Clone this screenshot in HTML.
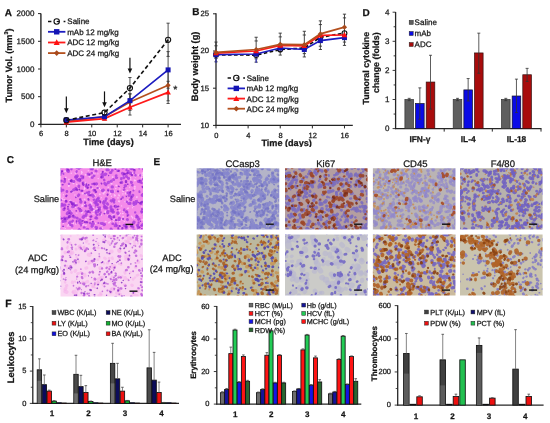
<!DOCTYPE html>
<html><head><meta charset="utf-8"><title>Figure</title>
<style>
html,body{margin:0;padding:0;background:#fff;}
svg{display:block;font-family:'Liberation Sans', Arial, sans-serif;text-rendering:geometricPrecision;filter:blur(0.3px);}
text{stroke:#161616;stroke-width:0.25px;}
</style></head>
<body>
<svg width="550" height="423" viewBox="0 0 550 423">
<defs><filter id="bl" x="-5%" y="-5%" width="110%" height="110%"><feGaussianBlur stdDeviation="0.6"/></filter><clipPath id="tclip"><rect x="0" y="100" width="550" height="47"/></clipPath></defs>
<rect width="550" height="423" fill="#fff"/>
<line x1="40.9" y1="13.4" x2="40.9" y2="125" stroke="#262626" stroke-width="1.4"/>
<line x1="39" y1="124.4" x2="181" y2="124.4" stroke="#262626" stroke-width="1.3"/>
<line x1="38" y1="124.4" x2="41" y2="124.4" stroke="#262626" stroke-width="1"/>
<text x="34.4" y="126.9" font-size="8" text-anchor="end" fill="#161616">0</text>
<line x1="38" y1="96.7" x2="41" y2="96.7" stroke="#262626" stroke-width="1"/>
<text x="34.4" y="99.2" font-size="8" text-anchor="end" fill="#161616">500</text>
<line x1="38" y1="69" x2="41" y2="69" stroke="#262626" stroke-width="1"/>
<text x="34.4" y="71.5" font-size="8" text-anchor="end" fill="#161616">1000</text>
<line x1="38" y1="41.3" x2="41" y2="41.3" stroke="#262626" stroke-width="1"/>
<text x="34.4" y="43.8" font-size="8" text-anchor="end" fill="#161616">1500</text>
<line x1="38" y1="13.6" x2="41" y2="13.6" stroke="#262626" stroke-width="1"/>
<text x="34.4" y="16.1" font-size="8" text-anchor="end" fill="#161616">2000</text>
<line x1="40.9" y1="124.4" x2="40.9" y2="127.4" stroke="#262626" stroke-width="1"/>
<text x="41.2" y="136.4" font-size="7.5" text-anchor="middle" fill="#161616">6</text>
<line x1="66.34" y1="124.4" x2="66.34" y2="127.4" stroke="#262626" stroke-width="1"/>
<text x="66.64" y="136.4" font-size="7.5" text-anchor="middle" fill="#161616">8</text>
<line x1="91.78" y1="124.4" x2="91.78" y2="127.4" stroke="#262626" stroke-width="1"/>
<text x="92.08" y="136.4" font-size="7.5" text-anchor="middle" fill="#161616">10</text>
<line x1="117.22" y1="124.4" x2="117.22" y2="127.4" stroke="#262626" stroke-width="1"/>
<text x="117.52" y="136.4" font-size="7.5" text-anchor="middle" fill="#161616">12</text>
<line x1="142.66" y1="124.4" x2="142.66" y2="127.4" stroke="#262626" stroke-width="1"/>
<text x="142.96" y="136.4" font-size="7.5" text-anchor="middle" fill="#161616">14</text>
<line x1="168.1" y1="124.4" x2="168.1" y2="127.4" stroke="#262626" stroke-width="1"/>
<text x="168.4" y="136.4" font-size="7.5" text-anchor="middle" fill="#161616">16</text>
<text x="108.5" y="145" font-size="9.1" text-anchor="middle" font-weight="bold" fill="#161616" clip-path="url(#tclip)">Time (days)</text>
<text transform="translate(11.7,65.5) rotate(-90)" font-size="9.1" font-weight="bold" text-anchor="middle" fill="#161616">Tumor Vol. (mm<tspan font-size="5.5" dy="-3.3">3</tspan><tspan dy="3.3">)</tspan></text>
<text x="4.8" y="15.9" font-size="10" text-anchor="start" font-weight="bold" fill="#111">A</text>
<line x1="66.34" y1="119.14" x2="66.34" y2="121.35" stroke="#3a3a3a" stroke-width="0.9"/>
<line x1="64.74" y1="119.14" x2="67.94" y2="119.14" stroke="#3a3a3a" stroke-width="0.9"/>
<line x1="64.74" y1="121.35" x2="67.94" y2="121.35" stroke="#3a3a3a" stroke-width="0.9"/>
<line x1="104.5" y1="110.33" x2="104.5" y2="114.76" stroke="#3a3a3a" stroke-width="0.9"/>
<line x1="102.9" y1="110.33" x2="106.1" y2="110.33" stroke="#3a3a3a" stroke-width="0.9"/>
<line x1="102.9" y1="114.76" x2="106.1" y2="114.76" stroke="#3a3a3a" stroke-width="0.9"/>
<line x1="129.94" y1="77.53" x2="129.94" y2="98.58" stroke="#3a3a3a" stroke-width="0.9"/>
<line x1="128.34" y1="77.53" x2="131.54" y2="77.53" stroke="#3a3a3a" stroke-width="0.9"/>
<line x1="128.34" y1="98.58" x2="131.54" y2="98.58" stroke="#3a3a3a" stroke-width="0.9"/>
<line x1="168.1" y1="23.18" x2="168.1" y2="56.42" stroke="#3a3a3a" stroke-width="0.9"/>
<line x1="166.5" y1="23.18" x2="169.7" y2="23.18" stroke="#3a3a3a" stroke-width="0.9"/>
<line x1="166.5" y1="56.42" x2="169.7" y2="56.42" stroke="#3a3a3a" stroke-width="0.9"/>
<line x1="66.34" y1="118.86" x2="66.34" y2="121.08" stroke="#3a3a3a" stroke-width="0.9"/>
<line x1="64.74" y1="118.86" x2="67.94" y2="118.86" stroke="#3a3a3a" stroke-width="0.9"/>
<line x1="64.74" y1="121.08" x2="67.94" y2="121.08" stroke="#3a3a3a" stroke-width="0.9"/>
<line x1="104.5" y1="115.04" x2="104.5" y2="118.36" stroke="#3a3a3a" stroke-width="0.9"/>
<line x1="102.9" y1="115.04" x2="106.1" y2="115.04" stroke="#3a3a3a" stroke-width="0.9"/>
<line x1="102.9" y1="118.36" x2="106.1" y2="118.36" stroke="#3a3a3a" stroke-width="0.9"/>
<line x1="129.94" y1="94.04" x2="129.94" y2="107.34" stroke="#3a3a3a" stroke-width="0.9"/>
<line x1="128.34" y1="94.04" x2="131.54" y2="94.04" stroke="#3a3a3a" stroke-width="0.9"/>
<line x1="128.34" y1="107.34" x2="131.54" y2="107.34" stroke="#3a3a3a" stroke-width="0.9"/>
<line x1="168.1" y1="51.6" x2="168.1" y2="88.17" stroke="#3a3a3a" stroke-width="0.9"/>
<line x1="166.5" y1="51.6" x2="169.7" y2="51.6" stroke="#3a3a3a" stroke-width="0.9"/>
<line x1="166.5" y1="88.17" x2="169.7" y2="88.17" stroke="#3a3a3a" stroke-width="0.9"/>
<line x1="66.34" y1="121.35" x2="66.34" y2="123.02" stroke="#3a3a3a" stroke-width="0.9"/>
<line x1="64.74" y1="121.35" x2="67.94" y2="121.35" stroke="#3a3a3a" stroke-width="0.9"/>
<line x1="64.74" y1="123.02" x2="67.94" y2="123.02" stroke="#3a3a3a" stroke-width="0.9"/>
<line x1="104.5" y1="117.2" x2="104.5" y2="119.97" stroke="#3a3a3a" stroke-width="0.9"/>
<line x1="102.9" y1="117.2" x2="106.1" y2="117.2" stroke="#3a3a3a" stroke-width="0.9"/>
<line x1="102.9" y1="119.97" x2="106.1" y2="119.97" stroke="#3a3a3a" stroke-width="0.9"/>
<line x1="129.94" y1="99.53" x2="129.94" y2="115.04" stroke="#3a3a3a" stroke-width="0.9"/>
<line x1="128.34" y1="99.53" x2="131.54" y2="99.53" stroke="#3a3a3a" stroke-width="0.9"/>
<line x1="128.34" y1="115.04" x2="131.54" y2="115.04" stroke="#3a3a3a" stroke-width="0.9"/>
<line x1="168.1" y1="81.3" x2="168.1" y2="103.46" stroke="#3a3a3a" stroke-width="0.9"/>
<line x1="166.5" y1="81.3" x2="169.7" y2="81.3" stroke="#3a3a3a" stroke-width="0.9"/>
<line x1="166.5" y1="103.46" x2="169.7" y2="103.46" stroke="#3a3a3a" stroke-width="0.9"/>
<line x1="66.34" y1="120.8" x2="66.34" y2="122.46" stroke="#3a3a3a" stroke-width="0.9"/>
<line x1="64.74" y1="120.8" x2="67.94" y2="120.8" stroke="#3a3a3a" stroke-width="0.9"/>
<line x1="64.74" y1="122.46" x2="67.94" y2="122.46" stroke="#3a3a3a" stroke-width="0.9"/>
<line x1="104.5" y1="115.26" x2="104.5" y2="118.03" stroke="#3a3a3a" stroke-width="0.9"/>
<line x1="102.9" y1="115.26" x2="106.1" y2="115.26" stroke="#3a3a3a" stroke-width="0.9"/>
<line x1="102.9" y1="118.03" x2="106.1" y2="118.03" stroke="#3a3a3a" stroke-width="0.9"/>
<line x1="129.94" y1="93.71" x2="129.94" y2="110.33" stroke="#3a3a3a" stroke-width="0.9"/>
<line x1="128.34" y1="93.71" x2="131.54" y2="93.71" stroke="#3a3a3a" stroke-width="0.9"/>
<line x1="128.34" y1="110.33" x2="131.54" y2="110.33" stroke="#3a3a3a" stroke-width="0.9"/>
<line x1="168.1" y1="69.78" x2="168.1" y2="100.8" stroke="#3a3a3a" stroke-width="0.9"/>
<line x1="166.5" y1="69.78" x2="169.7" y2="69.78" stroke="#3a3a3a" stroke-width="0.9"/>
<line x1="166.5" y1="100.8" x2="169.7" y2="100.8" stroke="#3a3a3a" stroke-width="0.9"/>
<polyline points="66.34,121.63 104.5,116.64 129.94,102.02 168.1,85.29" fill="none" stroke="#b4501e" stroke-width="1.65"/>
<polygon points="63.74,121.63 66.34,119.03 68.94,121.63 66.34,124.23" fill="#a84a1c"/>
<polygon points="101.9,116.64 104.5,114.04 107.1,116.64 104.5,119.24" fill="#a84a1c"/>
<polygon points="127.34,102.02 129.94,99.42 132.54,102.02 129.94,104.62" fill="#a84a1c"/>
<polygon points="165.5,85.29 168.1,82.69 170.7,85.29 168.1,87.89" fill="#a84a1c"/>
<polyline points="66.34,122.18 104.5,118.58 129.94,107.28 168.1,92.38" fill="none" stroke="#ff1a1a" stroke-width="1.65"/>
<polygon points="63.54,124.42 69.14,124.42 66.34,119.24" fill="#ff1010"/>
<polygon points="101.7,120.82 107.3,120.82 104.5,115.64" fill="#ff1010"/>
<polygon points="127.14,109.52 132.74,109.52 129.94,104.34" fill="#ff1010"/>
<polygon points="165.3,94.62 170.9,94.62 168.1,89.44" fill="#ff1010"/>
<polyline points="66.34,119.97 104.5,116.7 129.94,100.69 168.1,69.89" fill="none" stroke="#1c1cc0" stroke-width="1.65"/>
<rect x="63.84" y="117.47" width="5" height="5" fill="#1414b4"/>
<rect x="102" y="114.2" width="5" height="5" fill="#1414b4"/>
<rect x="127.44" y="98.19" width="5" height="5" fill="#1414b4"/>
<rect x="165.6" y="67.39" width="5" height="5" fill="#1414b4"/>
<polyline points="66.34,120.25 104.5,112.54 129.94,88.06 168.1,39.8" fill="none" stroke="#111" stroke-width="1.65" stroke-dasharray="4,2.6"/>
<circle cx="66.34" cy="120.25" r="2.59" fill="none" stroke="#111" stroke-width="1.1"/>
<circle cx="104.5" cy="112.54" r="2.59" fill="none" stroke="#111" stroke-width="1.1"/>
<circle cx="129.94" cy="88.06" r="2.59" fill="none" stroke="#111" stroke-width="1.1"/>
<circle cx="168.1" cy="39.8" r="2.59" fill="none" stroke="#111" stroke-width="1.1"/>
<line x1="66.34" y1="96.6" x2="66.34" y2="109.2" stroke="#111" stroke-width="1.2"/>
<polygon points="64.04,108.2 68.64,108.2 66.34,113.2" fill="#111"/>
<line x1="104.5" y1="91.4" x2="104.5" y2="103.3" stroke="#111" stroke-width="1.2"/>
<polygon points="102.2,102.3 106.8,102.3 104.5,107.3" fill="#111"/>
<line x1="129.94" y1="57.8" x2="129.94" y2="69.5" stroke="#111" stroke-width="1.2"/>
<polygon points="127.64,68.5 132.24,68.5 129.94,73.5" fill="#111"/>
<text x="175.4" y="93" font-size="10.5" text-anchor="middle" fill="#333">*</text>
<line x1="48" y1="21.5" x2="51.4" y2="21.5" stroke="#111" stroke-width="1.5"/>
<line x1="63.6" y1="21.5" x2="65.4" y2="21.5" stroke="#111" stroke-width="1.5"/>
<circle cx="56.7" cy="21.5" r="2.69" fill="none" stroke="#111" stroke-width="1.1"/>
<line x1="56.7" y1="21.5" x2="59.3" y2="21.5" stroke="#111" stroke-width="1.2"/>
<text x="67.3" y="24.4" font-size="8" text-anchor="start" fill="#161616">Saline</text>
<line x1="48" y1="31.8" x2="65.4" y2="31.8" stroke="#1c1cc0" stroke-width="1.8"/>
<rect x="54" y="29.1" width="5.4" height="5.4" fill="#1414b4"/>
<text x="67.2" y="34.7" font-size="8" text-anchor="start" fill="#161616">mAb 12 mg/kg</text>
<line x1="48" y1="42.5" x2="65.4" y2="42.5" stroke="#ff1a1a" stroke-width="1.8"/>
<polygon points="53.68,44.92 59.72,44.92 56.7,39.32" fill="#ff1010"/>
<text x="67.2" y="45.4" font-size="8" text-anchor="start" fill="#161616">ADC 12 mg/kg</text>
<line x1="48" y1="53.1" x2="65.4" y2="53.1" stroke="#b4501e" stroke-width="1.8"/>
<polygon points="53.89,53.1 56.7,50.29 59.51,53.1 56.7,55.91" fill="#a84a1c"/>
<text x="67.2" y="56" font-size="8" text-anchor="start" fill="#161616">ADC 24 mg/kg</text>
<line x1="216" y1="13.2" x2="216" y2="125.9" stroke="#262626" stroke-width="1.3"/>
<line x1="215.4" y1="125.4" x2="352.8" y2="125.4" stroke="#262626" stroke-width="1.3"/>
<line x1="213" y1="125.4" x2="216" y2="125.4" stroke="#262626" stroke-width="1"/>
<text x="209" y="127.8" font-size="7.7" text-anchor="end" fill="#161616">10</text>
<line x1="213" y1="88.2" x2="216" y2="88.2" stroke="#262626" stroke-width="1"/>
<text x="209" y="90.6" font-size="7.7" text-anchor="end" fill="#161616">15</text>
<line x1="213" y1="51" x2="216" y2="51" stroke="#262626" stroke-width="1"/>
<text x="209" y="53.4" font-size="7.7" text-anchor="end" fill="#161616">20</text>
<line x1="213" y1="13.8" x2="216" y2="13.8" stroke="#262626" stroke-width="1"/>
<text x="209" y="16.2" font-size="7.7" text-anchor="end" fill="#161616">25</text>
<line x1="216" y1="125.4" x2="216" y2="128.4" stroke="#262626" stroke-width="1"/>
<text x="216.3" y="137.6" font-size="7.5" text-anchor="middle" fill="#161616">0</text>
<line x1="248.12" y1="125.4" x2="248.12" y2="128.4" stroke="#262626" stroke-width="1"/>
<text x="248.42" y="137.6" font-size="7.5" text-anchor="middle" fill="#161616">4</text>
<line x1="280.24" y1="125.4" x2="280.24" y2="128.4" stroke="#262626" stroke-width="1"/>
<text x="280.54" y="137.6" font-size="7.5" text-anchor="middle" fill="#161616">8</text>
<line x1="312.36" y1="125.4" x2="312.36" y2="128.4" stroke="#262626" stroke-width="1"/>
<text x="312.66" y="137.6" font-size="7.5" text-anchor="middle" fill="#161616">12</text>
<line x1="344.48" y1="125.4" x2="344.48" y2="128.4" stroke="#262626" stroke-width="1"/>
<text x="344.78" y="137.6" font-size="7.5" text-anchor="middle" fill="#161616">16</text>
<text x="286.6" y="145.6" font-size="9.1" text-anchor="middle" font-weight="bold" fill="#161616" clip-path="url(#tclip)">Time (days)</text>
<text transform="translate(198.25,66.4) rotate(-90)" font-size="9.3" text-anchor="middle" font-weight="bold" fill="#161616">Body weight (g)</text>
<text x="192.2" y="15.3" font-size="10" text-anchor="start" font-weight="bold" fill="#111">B</text>
<line x1="216" y1="42.07" x2="216" y2="61.79" stroke="#333" stroke-width="0.9"/>
<line x1="214.4" y1="42.07" x2="217.6" y2="42.07" stroke="#333" stroke-width="0.9"/>
<line x1="214.4" y1="61.79" x2="217.6" y2="61.79" stroke="#333" stroke-width="0.9"/>
<line x1="214.4" y1="45.79" x2="217.6" y2="45.79" stroke="#333" stroke-width="0.9"/>
<line x1="214.4" y1="58.44" x2="217.6" y2="58.44" stroke="#333" stroke-width="0.9"/>
<line x1="256.15" y1="37.24" x2="256.15" y2="62.16" stroke="#333" stroke-width="0.9"/>
<line x1="254.55" y1="37.24" x2="257.75" y2="37.24" stroke="#333" stroke-width="0.9"/>
<line x1="254.55" y1="62.16" x2="257.75" y2="62.16" stroke="#333" stroke-width="0.9"/>
<line x1="254.55" y1="40.96" x2="257.75" y2="40.96" stroke="#333" stroke-width="0.9"/>
<line x1="254.55" y1="58.81" x2="257.75" y2="58.81" stroke="#333" stroke-width="0.9"/>
<line x1="280.24" y1="33.14" x2="280.24" y2="55.09" stroke="#333" stroke-width="0.9"/>
<line x1="278.64" y1="33.14" x2="281.84" y2="33.14" stroke="#333" stroke-width="0.9"/>
<line x1="278.64" y1="55.09" x2="281.84" y2="55.09" stroke="#333" stroke-width="0.9"/>
<line x1="278.64" y1="36.86" x2="281.84" y2="36.86" stroke="#333" stroke-width="0.9"/>
<line x1="278.64" y1="51.74" x2="281.84" y2="51.74" stroke="#333" stroke-width="0.9"/>
<line x1="304.33" y1="31.28" x2="304.33" y2="56.95" stroke="#333" stroke-width="0.9"/>
<line x1="302.73" y1="31.28" x2="305.93" y2="31.28" stroke="#333" stroke-width="0.9"/>
<line x1="302.73" y1="56.95" x2="305.93" y2="56.95" stroke="#333" stroke-width="0.9"/>
<line x1="302.73" y1="35" x2="305.93" y2="35" stroke="#333" stroke-width="0.9"/>
<line x1="302.73" y1="53.6" x2="305.93" y2="53.6" stroke="#333" stroke-width="0.9"/>
<line x1="320.39" y1="20.87" x2="320.39" y2="49.51" stroke="#333" stroke-width="0.9"/>
<line x1="318.79" y1="20.87" x2="321.99" y2="20.87" stroke="#333" stroke-width="0.9"/>
<line x1="318.79" y1="49.51" x2="321.99" y2="49.51" stroke="#333" stroke-width="0.9"/>
<line x1="318.79" y1="24.59" x2="321.99" y2="24.59" stroke="#333" stroke-width="0.9"/>
<line x1="318.79" y1="46.16" x2="321.99" y2="46.16" stroke="#333" stroke-width="0.9"/>
<line x1="344.48" y1="14.17" x2="344.48" y2="45.42" stroke="#333" stroke-width="0.9"/>
<line x1="342.88" y1="14.17" x2="346.08" y2="14.17" stroke="#333" stroke-width="0.9"/>
<line x1="342.88" y1="45.42" x2="346.08" y2="45.42" stroke="#333" stroke-width="0.9"/>
<line x1="342.88" y1="17.89" x2="346.08" y2="17.89" stroke="#333" stroke-width="0.9"/>
<line x1="342.88" y1="42.07" x2="346.08" y2="42.07" stroke="#333" stroke-width="0.9"/>
<line x1="216" y1="58.44" x2="216" y2="62.9" stroke="#3030d0" stroke-width="1"/>
<line x1="256.15" y1="58.44" x2="256.15" y2="62.9" stroke="#3030d0" stroke-width="1"/>
<polyline points="216,54.72 256.15,55.09 280.24,49.51 304.33,48.02 320.39,37.24 344.48,33.14" fill="none" stroke="#111" stroke-width="1.7" stroke-dasharray="3.6,2.4"/>
<circle cx="216" cy="54.72" r="2.4" fill="none" stroke="#111" stroke-width="1.1"/>
<circle cx="256.15" cy="55.09" r="2.4" fill="none" stroke="#111" stroke-width="1.1"/>
<circle cx="280.24" cy="49.51" r="2.4" fill="none" stroke="#111" stroke-width="1.1"/>
<circle cx="304.33" cy="48.02" r="2.4" fill="none" stroke="#111" stroke-width="1.1"/>
<circle cx="320.39" cy="37.24" r="2.4" fill="none" stroke="#111" stroke-width="1.1"/>
<circle cx="344.48" cy="33.14" r="2.4" fill="none" stroke="#111" stroke-width="1.1"/>
<polyline points="216,54.72 256.15,53.98 280.24,48.02 304.33,49.51 320.39,40.58 344.48,37.61" fill="none" stroke="#1c1cc0" stroke-width="1.7"/>
<rect x="213.5" y="52.22" width="5" height="5" fill="#1414b4"/>
<rect x="253.65" y="51.48" width="5" height="5" fill="#1414b4"/>
<rect x="277.74" y="45.52" width="5" height="5" fill="#1414b4"/>
<rect x="301.83" y="47.01" width="5" height="5" fill="#1414b4"/>
<rect x="317.89" y="38.08" width="5" height="5" fill="#1414b4"/>
<rect x="341.98" y="35.11" width="5" height="5" fill="#1414b4"/>
<polyline points="216,53.08 256.15,51 280.24,45.42 304.33,45.79 320.39,35.38 344.48,35" fill="none" stroke="#ff1a1a" stroke-width="1.7"/>
<polygon points="213.2,55.32 218.8,55.32 216,50.14" fill="#ff1010"/>
<polygon points="253.35,53.24 258.95,53.24 256.15,48.06" fill="#ff1010"/>
<polygon points="277.44,47.66 283.04,47.66 280.24,42.48" fill="#ff1010"/>
<polygon points="301.53,48.03 307.13,48.03 304.33,42.85" fill="#ff1010"/>
<polygon points="317.59,37.62 323.19,37.62 320.39,32.44" fill="#ff1010"/>
<polygon points="341.68,37.24 347.28,37.24 344.48,32.06" fill="#ff1010"/>
<polyline points="216,52.34 256.15,49.51 280.24,44.3 304.33,44.68 320.39,33.89 344.48,27.19" fill="none" stroke="#b4501e" stroke-width="1.7"/>
<polygon points="213.4,52.34 216,49.74 218.6,52.34 216,54.94" fill="#a84a1c"/>
<polygon points="253.55,49.51 256.15,46.91 258.75,49.51 256.15,52.11" fill="#a84a1c"/>
<polygon points="277.64,44.3 280.24,41.7 282.84,44.3 280.24,46.9" fill="#a84a1c"/>
<polygon points="301.73,44.68 304.33,42.08 306.93,44.68 304.33,47.28" fill="#a84a1c"/>
<polygon points="317.79,33.89 320.39,31.29 322.99,33.89 320.39,36.49" fill="#a84a1c"/>
<polygon points="341.88,27.19 344.48,24.59 347.08,27.19 344.48,29.79" fill="#a84a1c"/>
<line x1="227.6" y1="78" x2="231" y2="78" stroke="#111" stroke-width="1.5"/>
<line x1="243.2" y1="78" x2="245" y2="78" stroke="#111" stroke-width="1.5"/>
<circle cx="236.3" cy="78" r="2.69" fill="none" stroke="#111" stroke-width="1.1"/>
<line x1="236.3" y1="78" x2="238.9" y2="78" stroke="#111" stroke-width="1.2"/>
<text x="246.7" y="80.9" font-size="8" text-anchor="start" fill="#161616">Saline</text>
<line x1="227.6" y1="88.4" x2="245" y2="88.4" stroke="#1c1cc0" stroke-width="1.8"/>
<rect x="233.6" y="85.7" width="5.4" height="5.4" fill="#1414b4"/>
<text x="246.6" y="91.3" font-size="8" text-anchor="start" fill="#161616">mAb 12 mg/kg</text>
<line x1="227.6" y1="98.6" x2="245" y2="98.6" stroke="#ff1a1a" stroke-width="1.8"/>
<polygon points="233.28,101.02 239.32,101.02 236.3,95.42" fill="#ff1010"/>
<text x="246.6" y="101.5" font-size="8" text-anchor="start" fill="#161616">ADC 12 mg/kg</text>
<line x1="227.6" y1="108.7" x2="245" y2="108.7" stroke="#b4501e" stroke-width="1.8"/>
<polygon points="233.49,108.7 236.3,105.89 239.11,108.7 236.3,111.51" fill="#a84a1c"/>
<text x="246.6" y="111.6" font-size="8" text-anchor="start" fill="#161616">ADC 24 mg/kg</text>
<line x1="395.6" y1="12" x2="395.6" y2="129.1" stroke="#262626" stroke-width="1.3"/>
<line x1="395" y1="128.6" x2="541.5" y2="128.6" stroke="#262626" stroke-width="1.3"/>
<line x1="392.6" y1="128.6" x2="395.6" y2="128.6" stroke="#262626" stroke-width="0.9"/>
<text x="389.5" y="131.2" font-size="8" text-anchor="end" fill="#161616">0</text>
<line x1="393.6" y1="114.05" x2="395.6" y2="114.05" stroke="#262626" stroke-width="0.9"/>
<line x1="392.6" y1="99.5" x2="395.6" y2="99.5" stroke="#262626" stroke-width="0.9"/>
<text x="389.5" y="102.1" font-size="8" text-anchor="end" fill="#161616">1</text>
<line x1="393.6" y1="84.95" x2="395.6" y2="84.95" stroke="#262626" stroke-width="0.9"/>
<line x1="392.6" y1="70.4" x2="395.6" y2="70.4" stroke="#262626" stroke-width="0.9"/>
<text x="389.5" y="73" font-size="8" text-anchor="end" fill="#161616">2</text>
<line x1="393.6" y1="55.85" x2="395.6" y2="55.85" stroke="#262626" stroke-width="0.9"/>
<line x1="392.6" y1="41.3" x2="395.6" y2="41.3" stroke="#262626" stroke-width="0.9"/>
<text x="389.5" y="43.9" font-size="8" text-anchor="end" fill="#161616">3</text>
<line x1="393.6" y1="26.75" x2="395.6" y2="26.75" stroke="#262626" stroke-width="0.9"/>
<line x1="392.6" y1="12.2" x2="395.6" y2="12.2" stroke="#262626" stroke-width="0.9"/>
<text x="389.5" y="14.8" font-size="8" text-anchor="end" fill="#161616">4</text>
<line x1="444.2" y1="128.6" x2="444.2" y2="131.6" stroke="#262626" stroke-width="1"/>
<line x1="492.3" y1="128.6" x2="492.3" y2="131.6" stroke="#262626" stroke-width="1"/>
<line x1="541" y1="128.6" x2="541" y2="131.6" stroke="#262626" stroke-width="1"/>
<text x="362.5" y="15.5" font-size="10" text-anchor="start" font-weight="bold" fill="#111">D</text>
<text transform="translate(369.09,68.2) rotate(-90)" font-size="8.85" text-anchor="middle" font-weight="bold" fill="#161616">Tumoral cytokine</text>
<text transform="translate(378.9,62.7) rotate(-90)" font-size="8.9" text-anchor="middle" font-weight="bold" fill="#161616">change  (folds)</text>
<rect x="404.9" y="99.5" width="8.6" height="29.1" fill="#5f5f5f" stroke="#333" stroke-width="0.7"/>
<line x1="409.2" y1="98.34" x2="409.2" y2="100.66" stroke="#333" stroke-width="0.8"/>
<line x1="407.7" y1="98.34" x2="410.7" y2="98.34" stroke="#333" stroke-width="0.8"/>
<line x1="407.7" y1="100.66" x2="410.7" y2="100.66" stroke="#333" stroke-width="0.8"/>
<rect x="415.55" y="103.57" width="8.6" height="25.03" fill="#0a0ae6" stroke="#112" stroke-width="0.7"/>
<line x1="419.85" y1="87.86" x2="419.85" y2="119.29" stroke="#333" stroke-width="0.8"/>
<line x1="418.35" y1="87.86" x2="421.35" y2="87.86" stroke="#333" stroke-width="0.8"/>
<line x1="418.35" y1="119.29" x2="421.35" y2="119.29" stroke="#333" stroke-width="0.8"/>
<rect x="426.2" y="82.04" width="8.6" height="46.56" fill="#a80c0c" stroke="#311" stroke-width="0.7"/>
<line x1="430.5" y1="55.27" x2="430.5" y2="109.1" stroke="#333" stroke-width="0.8"/>
<line x1="429" y1="55.27" x2="432" y2="55.27" stroke="#333" stroke-width="0.8"/>
<line x1="429" y1="109.1" x2="432" y2="109.1" stroke="#333" stroke-width="0.8"/>
<text x="419.9" y="141.6" font-size="8.4" text-anchor="middle" font-weight="bold" fill="#161616">IFN-&#947;</text>
<rect x="453.2" y="99.5" width="8.6" height="29.1" fill="#5f5f5f" stroke="#333" stroke-width="0.7"/>
<line x1="457.5" y1="98.34" x2="457.5" y2="100.66" stroke="#333" stroke-width="0.8"/>
<line x1="456" y1="98.34" x2="459" y2="98.34" stroke="#333" stroke-width="0.8"/>
<line x1="456" y1="100.66" x2="459" y2="100.66" stroke="#333" stroke-width="0.8"/>
<rect x="463.85" y="89.9" width="8.6" height="38.7" fill="#0a0ae6" stroke="#112" stroke-width="0.7"/>
<line x1="468.15" y1="78.55" x2="468.15" y2="100.95" stroke="#333" stroke-width="0.8"/>
<line x1="466.65" y1="78.55" x2="469.65" y2="78.55" stroke="#333" stroke-width="0.8"/>
<line x1="466.65" y1="100.95" x2="469.65" y2="100.95" stroke="#333" stroke-width="0.8"/>
<rect x="474.5" y="52.94" width="8.6" height="75.66" fill="#a80c0c" stroke="#311" stroke-width="0.7"/>
<line x1="478.8" y1="33.15" x2="478.8" y2="73.31" stroke="#333" stroke-width="0.8"/>
<line x1="477.3" y1="33.15" x2="480.3" y2="33.15" stroke="#333" stroke-width="0.8"/>
<line x1="477.3" y1="73.31" x2="480.3" y2="73.31" stroke="#333" stroke-width="0.8"/>
<text x="468.2" y="141.6" font-size="8.4" text-anchor="middle" font-weight="bold" fill="#161616">IL-4</text>
<rect x="501.5" y="99.5" width="8.6" height="29.1" fill="#5f5f5f" stroke="#333" stroke-width="0.7"/>
<line x1="505.8" y1="98.34" x2="505.8" y2="100.66" stroke="#333" stroke-width="0.8"/>
<line x1="504.3" y1="98.34" x2="507.3" y2="98.34" stroke="#333" stroke-width="0.8"/>
<line x1="504.3" y1="100.66" x2="507.3" y2="100.66" stroke="#333" stroke-width="0.8"/>
<rect x="512.15" y="96.01" width="8.6" height="32.59" fill="#0a0ae6" stroke="#112" stroke-width="0.7"/>
<line x1="516.45" y1="79.13" x2="516.45" y2="112.59" stroke="#333" stroke-width="0.8"/>
<line x1="514.95" y1="79.13" x2="517.95" y2="79.13" stroke="#333" stroke-width="0.8"/>
<line x1="514.95" y1="112.59" x2="517.95" y2="112.59" stroke="#333" stroke-width="0.8"/>
<rect x="522.8" y="74.76" width="8.6" height="53.84" fill="#a80c0c" stroke="#311" stroke-width="0.7"/>
<line x1="527.1" y1="68.36" x2="527.1" y2="81.46" stroke="#333" stroke-width="0.8"/>
<line x1="525.6" y1="68.36" x2="528.6" y2="68.36" stroke="#333" stroke-width="0.8"/>
<line x1="525.6" y1="81.46" x2="528.6" y2="81.46" stroke="#333" stroke-width="0.8"/>
<text x="516.5" y="141.6" font-size="8.4" text-anchor="middle" font-weight="bold" fill="#161616">IL-18</text>
<rect x="409.2" y="20.4" width="4" height="4" fill="#5f5f5f" stroke="#222" stroke-width="0.5"/>
<text x="414.6" y="25.3" font-size="8" text-anchor="start" fill="#161616">Saline</text>
<rect x="409.2" y="31.5" width="4" height="4" fill="#0a0ae6" stroke="#222" stroke-width="0.5"/>
<text x="414.6" y="36.4" font-size="8" text-anchor="start" fill="#161616">mAb</text>
<rect x="409.2" y="42.5" width="4" height="4" fill="#a80c0c" stroke="#222" stroke-width="0.5"/>
<text x="414.6" y="47.4" font-size="8" text-anchor="start" fill="#161616">ADC</text>
<text x="6.8" y="162.8" font-size="10" text-anchor="start" font-weight="bold" fill="#111">C</text>
<text x="102.2" y="166.2" font-size="9.5" text-anchor="middle" fill="#161616">H&amp;E</text>
<text x="59.2" y="201.6" font-size="9.2" text-anchor="end" fill="#161616">Saline</text>
<text x="37.7" y="261.4" font-size="9.2" text-anchor="middle" fill="#161616">ADC</text>
<text x="37" y="272.6" font-size="9.2" text-anchor="middle" fill="#161616">(24 mg/kg)</text>
<clipPath id="c1"><rect x="60.5" y="168.2" width="82.5" height="61.6"/></clipPath>
<g clip-path="url(#c1)"><g filter="url(#bl)" stroke-linecap="round" fill="none">
<rect x="58.5" y="166.2" width="86.5" height="65.6" fill="#f48ae9"/>
<path stroke="#ffc4f8" stroke-opacity="0.85" stroke-width="1.2" d="M95.0 168.0l0.0 0.2M78.6 181.2l0.1 0.2M144.4 222.5l-0.1 0.1M120.1 227.4l-0.3 0.4M109.4 168.3l0.1 0.4M101.0 168.1l-0.3 0.0M109.9 192.0l-0.3 0.0M140.9 204.0l-0.0 0.2M100.5 189.5l-0.1 0.3M111.4 196.2l0.1 0.1M59.8 215.7l-0.0 0.1M88.2 170.7l0.2 0.1M82.1 212.8l0.0 0.2M60.5 191.5l0.1 0.0M136.5 199.6l-0.3 0.2M60.1 167.3l0.3 0.2M127.5 199.9l0.1 0.3M142.1 223.4l0.3 0.4M139.7 215.0l0.2 0.0M91.2 188.8l0.1 0.3M110.4 221.3l0.1 0.2M106.2 173.0l-0.0 0.0M126.8 220.4l-0.3 0.2M91.2 203.6l0.0 0.0M126.4 220.5l0.3 0.1M68.5 224.3l-0.1 0.0M95.0 173.7l-0.1 0.1M67.7 225.9l-0.5 0.2M83.9 182.8l-0.0 0.1M97.6 186.7l-0.4 0.0M142.6 173.5l-0.3 0.0M85.2 182.4l-0.1 0.0M85.3 187.6l-0.5 0.2M79.7 167.5l-0.0 0.0M101.3 222.7l-0.2 0.2M65.4 228.5l-0.4 0.0M129.7 187.1l-0.2 0.1M83.7 224.8l0.5 0.0M122.9 211.4l0.2 0.1M120.3 210.0l-0.0 0.0M92.7 188.4l-0.0 0.0M94.5 203.6l0.2 0.1M111.5 181.4l-0.0 0.2M101.3 197.5l-0.0 0.2M136.8 226.4l0.4 0.1M141.5 203.6l0.1 0.1M107.9 215.8l-0.2 0.2M88.4 200.0l0.4 0.0M127.9 194.6l0.2 0.1M137.1 229.0l0.1 0.3M68.5 185.6l0.4 0.0M75.0 194.8l-0.1 0.3M130.7 179.6l0.2 0.2M142.9 201.8l-0.4 0.4M107.9 191.3l-0.0 0.0M97.5 186.0l-0.3 0.4M101.0 208.7l0.1 0.0M143.9 186.1l-0.0 0.3M89.6 166.3l0.1 0.2M130.6 198.0l-0.0 0.0M122.7 193.9l0.4 0.0M110.7 179.7l0.3 0.3M81.7 206.1l0.3 0.2M126.9 223.0l-0.1 0.0M119.7 221.4l-0.2 0.4M121.4 205.9l0.3 0.1M70.3 213.0l0.3 0.3M120.6 213.3l0.0 0.1M101.1 172.7l-0.0 0.0M135.5 180.3l-0.3 0.2M141.7 206.3l0.4 0.2M118.4 172.3l0.1 0.3M77.0 213.1l-0.3 0.1M116.0 169.9l0.0 0.1M131.2 225.6l-0.0 0.0M62.2 184.1l0.0 0.0M106.9 200.4l0.0 0.2M75.9 223.8l-0.2 0.3M66.5 219.5l-0.2 0.0M62.0 201.0l0.0 0.1M119.6 224.0l0.2 0.1M127.8 171.8l-0.1 0.1M84.7 193.9l0.2 0.3M84.3 189.1l-0.0 0.4M64.7 230.4l-0.6 0.1M119.4 214.9l-0.2 0.5M94.1 213.9l-0.0 0.0M81.5 173.0l-0.0 0.3M133.2 167.4l-0.3 0.4M98.0 178.6l0.4 0.0M129.2 228.6l0.2 0.3M97.8 173.8l0.2 0.0M96.0 216.9l0.0 0.4M142.6 213.2l-0.1 0.0M78.5 167.9l-0.3 0.0M68.9 183.5l-0.2 0.2M132.1 173.0l0.4 0.3M87.8 197.9l-0.2 0.4M138.6 229.6l0.1 0.3M124.3 221.4l-0.1 0.1M94.2 174.6l-0.1 0.3M82.7 211.8l0.0 0.1M118.6 201.2l-0.1 0.1M87.0 174.6l0.1 0.0M117.4 230.6l-0.0 0.3M60.5 187.8l-0.1 0.1M117.3 168.8l0.3 0.1M85.9 183.9l0.0 0.0M82.0 199.8l0.2 0.5M63.2 199.5l0.0 0.1M105.7 182.5l0.0 0.3M93.4 172.8l-0.1 0.4M84.9 210.9l0.4 0.2M68.8 205.5l-0.3 0.2M62.9 197.1l0.3 0.0M62.1 173.4l0.1 0.2M63.4 194.7l-0.1 0.1M116.7 224.5l0.0 0.3M91.5 220.8l0.3 0.1M71.5 190.9l0.0 0.0M116.0 188.6l-0.4 0.1M114.8 201.3l0.4 0.2M143.0 181.7l0.2 0.4M86.0 201.1l0.1 0.3M73.0 192.1l-0.1 0.1M112.3 214.1l0.1 0.1M88.7 184.5l0.1 0.0M75.3 207.2l0.4 0.1M105.0 171.0l0.1 0.2M115.6 230.8l0.4 0.3M76.6 196.4l-0.1 0.4M111.7 215.7l-0.0 0.0M132.4 207.7l-0.0 0.1M97.8 168.9l-0.1 0.4M138.3 225.7l0.3 0.0M102.7 200.4l-0.2 0.1M143.4 216.9l0.1 0.4M130.5 177.6l0.3 0.4M109.7 221.9l-0.4 0.3M68.2 203.7l0.2 0.4M113.5 221.7l-0.3 0.2M58.9 176.7l-0.1 0.0M71.4 173.2l-0.2 0.2M113.1 219.7l-0.1 0.5M108.2 206.8l-0.1 0.0M81.5 171.5l0.3 0.3M76.6 184.2l0.3 0.4"/>
<path stroke="#ffc4f8" stroke-opacity="0.85" stroke-width="1.6" d="M70.1 221.7l0.0 0.2M97.3 208.9l0.1 0.0M130.8 194.6l0.0 0.0M120.6 181.2l0.7 0.1M60.6 201.6l0.2 0.2M60.2 221.0l0.3 0.2M84.7 204.4l-0.0 0.6M73.4 202.0l0.2 0.4M96.4 199.4l0.1 0.4M125.2 201.5l-0.0 0.2M141.6 166.5l-0.6 0.2M122.5 219.1l0.1 0.3M63.4 223.2l-0.0 0.1M109.3 222.5l-0.5 0.3M80.6 221.4l0.1 0.0M119.5 210.7l-0.1 0.0M108.3 187.3l0.0 0.0M134.6 168.3l-0.2 0.7M73.3 222.8l-0.0 0.6M75.3 172.9l0.0 0.2M86.6 223.4l0.0 0.0M86.8 230.9l0.2 0.2M117.0 221.1l-0.3 0.1M118.0 197.9l-0.1 0.1M65.9 177.3l-0.1 0.1M133.2 205.7l0.6 0.3M135.4 203.1l0.2 0.3M62.0 166.8l-0.1 0.2M105.5 211.3l-0.0 0.2M97.1 208.7l0.2 0.6M84.7 188.0l-0.1 0.4M64.7 171.1l-0.2 0.1M86.1 225.3l-0.6 0.3M128.4 202.0l0.1 0.5M69.3 183.1l0.1 0.3M114.4 194.8l0.4 0.3M64.7 199.7l-0.1 0.1M134.8 186.4l0.2 0.5M119.4 214.4l-0.5 0.2M143.5 219.2l-0.2 0.0M141.6 175.1l-0.3 0.5M118.9 195.0l0.3 0.7M109.4 182.5l-0.5 0.3M68.9 215.0l-0.5 0.4M142.6 175.0l0.2 0.3M102.0 189.6l0.0 0.0M82.5 205.1l-0.0 0.6M144.0 196.4l-0.2 0.2M133.2 204.3l-0.5 0.5M101.2 214.9l-0.2 0.4M94.0 207.3l-0.5 0.4M131.6 216.3l0.2 0.4M81.2 212.6l0.4 0.2M102.4 228.1l-0.2 0.2M65.0 220.6l-0.0 0.2M122.4 177.1l-0.4 0.3M85.6 194.4l0.5 0.3M112.8 177.0l-0.3 0.1M73.1 181.2l-0.1 0.3M144.3 169.0l0.3 0.5M91.8 204.2l-0.3 0.1M124.1 176.2l0.0 0.0M113.8 214.8l-0.3 0.5M92.0 207.4l0.4 0.4M63.7 227.4l-0.1 0.2M122.9 213.5l-0.2 0.0M71.2 226.4l0.6 0.1M85.9 174.6l-0.5 0.3M87.6 217.5l0.4 0.1M115.2 195.5l-0.5 0.3M119.0 201.1l0.4 0.5M72.1 190.5l0.0 0.1M108.1 168.9l0.3 0.4M103.9 175.8l0.1 0.2M142.7 219.5l-0.6 0.4M70.4 200.4l-0.5 0.4M93.1 196.6l0.4 0.2M71.1 211.1l0.5 0.3M65.1 170.9l0.4 0.3M83.3 224.6l-0.5 0.2M95.5 210.3l-0.5 0.4M121.2 219.5l0.2 0.1M123.1 216.6l0.1 0.3M134.9 218.4l-0.0 0.0M69.2 186.0l-0.6 0.1M105.5 203.6l-0.0 0.3M84.8 199.4l-0.4 0.0M72.7 207.7l-0.1 0.6M90.5 192.3l-0.4 0.6M136.2 226.7l0.0 0.3M127.3 190.5l0.2 0.3M73.2 183.1l0.3 0.4M144.9 182.9l-0.3 0.4M93.0 213.6l-0.0 0.1M144.7 202.2l-0.2 0.0M142.4 172.9l-0.1 0.2M132.7 217.8l0.0 0.1M116.1 185.4l0.5 0.2M103.3 193.2l0.5 0.6M101.1 224.9l-0.1 0.1M141.5 201.1l0.0 0.1M99.3 188.4l-0.1 0.0M114.3 219.3l0.0 0.2M104.9 212.2l0.3 0.3M75.6 203.4l0.3 0.0M60.2 186.2l0.0 0.0M93.1 227.4l-0.1 0.1M128.2 208.2l-0.4 0.2M93.6 210.6l-0.1 0.3M104.9 191.8l-0.1 0.5M105.4 221.5l0.5 0.0M134.4 180.1l0.3 0.6M135.3 176.5l0.1 0.3M110.9 166.4l-0.3 0.7M91.5 202.9l-0.3 0.2M110.3 193.7l-0.1 0.3M82.1 230.6l-0.4 0.3M129.4 182.2l-0.0 0.2M89.3 176.3l0.4 0.6M134.9 188.7l-0.5 0.4M96.5 212.0l0.3 0.1M88.0 212.8l-0.0 0.0M87.5 229.6l0.1 0.5M99.0 198.4l0.4 0.3M96.9 201.6l-0.5 0.3M74.2 216.2l0.3 0.4M71.6 229.9l0.7 0.0M92.8 207.5l-0.1 0.6M92.7 166.4l-0.7 0.2M141.5 177.6l0.1 0.3M127.4 227.4l-0.3 0.4M114.2 191.4l0.0 0.4M82.8 193.2l-0.4 0.5M89.9 176.0l-0.4 0.4M80.2 179.0l0.3 0.2M95.6 223.2l0.1 0.3M122.9 191.2l0.4 0.2M119.9 189.0l-0.0 0.0M85.6 219.4l0.5 0.2M68.9 225.4l0.2 0.5M138.3 175.0l0.2 0.0M68.9 179.3l0.0 0.3M111.8 183.7l-0.4 0.1M101.9 222.0l0.2 0.6M82.0 172.6l-0.0 0.1M94.9 195.0l0.4 0.3M62.1 198.7l0.2 0.6M144.3 218.2l0.2 0.5M137.1 197.0l-0.4 0.1M99.7 194.2l0.2 0.1M125.7 193.1l-0.2 0.6M90.4 202.1l0.0 0.4M144.6 222.1l0.0 0.0"/>
<path stroke="#a83ade" stroke-opacity="0.8" stroke-width="2" d="M138.5 222.4l0.2 0.4M142.7 179.1l-0.0 0.1M59.3 230.5l-0.0 0.2M58.9 216.3l0.8 0.1M85.5 205.8l-0.4 0.1M76.8 171.1l-0.4 0.9M98.5 223.0l-0.2 0.0M98.1 207.3l-0.0 0.1M118.8 166.6l0.1 0.1M73.1 204.6l-0.6 0.4M82.5 176.2l0.8 0.3M134.4 173.0l0.0 0.0M68.8 204.5l0.1 0.1M58.6 211.7l0.6 0.4M133.5 190.4l-0.1 0.0M68.3 209.0l-0.5 0.1M63.2 173.6l0.3 0.4M136.3 217.4l-0.2 0.2M96.3 199.9l-0.1 0.2M140.3 175.3l-0.1 0.3M116.6 225.1l0.3 0.5M62.1 170.9l0.2 0.2M86.6 185.9l-0.4 0.2M88.7 185.1l-0.0 0.0M142.9 168.8l0.2 0.4M59.3 175.3l-0.1 0.0M76.4 167.8l0.2 0.2M92.3 183.9l-0.1 0.1M141.1 225.7l0.4 0.3M115.8 223.3l0.0 0.3M91.2 206.6l-0.2 0.6M139.2 168.4l0.0 0.0M92.8 177.4l-0.2 0.5M91.9 177.3l-0.2 0.5M126.6 169.8l-0.3 0.3M76.9 205.1l-0.8 0.3M139.4 191.3l0.1 0.8M82.0 176.0l-0.9 0.1M100.8 212.3l0.0 0.1M85.7 210.9l-0.3 0.6M133.0 231.2l-0.6 0.5"/>
<path stroke="#a83ade" stroke-opacity="0.8" stroke-width="2.4" d="M123.5 167.9l-0.8 0.3M69.1 183.7l-0.1 0.0M104.1 179.7l0.2 0.5M92.5 209.0l-0.1 0.2M83.9 227.4l0.6 0.0M95.9 212.6l0.0 0.1M141.8 211.8l-0.0 0.8M108.2 190.0l-0.0 0.5M58.8 212.2l-0.3 0.5M82.4 166.9l0.0 0.1M81.4 190.6l-0.0 0.1M59.3 201.5l0.0 0.0M76.6 179.1l0.4 0.4M97.6 187.9l0.0 0.0M114.0 216.1l-0.2 0.1M71.5 168.8l-0.1 0.4M83.1 182.7l0.3 0.0M80.5 178.9l-0.5 0.2M78.6 208.2l0.5 0.7M118.0 170.7l-0.5 0.0M121.3 178.2l-0.0 1.1M111.7 229.4l-0.2 0.1M86.8 192.6l-0.1 0.0M135.5 175.3l-0.0 0.3M95.6 170.9l0.7 0.3M76.5 176.9l0.0 0.1M143.5 167.3l0.5 0.1M100.3 228.5l0.7 0.1M95.9 226.9l-0.2 0.3M124.3 189.5l-0.4 0.2M144.4 187.4l-0.3 0.9M85.2 202.3l-0.1 0.5M132.2 168.1l0.2 1.0M122.7 197.5l-0.1 0.0M90.9 187.3l0.0 0.0M96.8 214.5l0.4 0.5M105.5 201.3l-0.9 0.1M98.3 197.8l0.5 0.4M136.6 215.6l0.5 0.9M132.5 185.0l-0.2 0.3M117.0 177.7l-1.0 0.1M128.4 172.2l-0.0 0.2M127.1 212.2l0.1 0.1M70.4 224.8l0.0 0.1M116.3 175.4l-0.3 0.3M96.0 217.3l-0.6 0.8M59.9 174.7l0.5 0.0M114.2 201.4l-0.1 1.1M99.9 201.2l-0.1 0.1M98.0 204.4l-0.2 0.5M124.3 209.5l-0.2 0.8M99.8 207.5l0.1 0.0M126.9 201.7l-0.1 0.0M126.0 176.7l0.8 0.2M60.3 206.0l0.1 0.5M90.0 223.0l0.2 0.2M96.1 202.1l-0.3 0.8M113.5 179.2l0.4 0.5M113.1 223.7l-0.6 0.0M113.8 211.9l-0.9 0.5M126.3 175.8l0.1 0.1M79.9 223.2l-0.2 0.1M65.8 201.6l0.0 0.0M103.6 201.2l0.0 0.1M96.9 227.4l-0.2 1.1M127.8 171.1l0.7 0.1M141.6 182.9l0.0 0.0M112.3 209.5l0.7 0.4M79.3 229.3l-0.6 0.7M60.1 199.4l0.9 0.8M72.8 220.7l-0.5 0.8M94.2 199.7l-0.4 0.1M144.3 215.1l-0.2 0.3M133.8 202.2l-0.1 0.4M135.2 212.4l-0.0 0.0M81.7 223.4l-0.8 0.6M59.1 167.4l0.2 0.7M91.8 173.0l-0.2 0.2M109.8 216.2l0.4 0.1M94.3 175.8l-0.4 0.0M111.0 228.7l-0.3 0.3M127.8 214.5l0.4 0.5"/>
<path stroke="#a83ade" stroke-opacity="0.8" stroke-width="2.8" d="M61.9 204.2l0.3 1.1M60.7 173.0l-0.9 0.1M106.2 198.7l-0.2 0.8M132.9 195.3l-0.5 0.8M78.9 194.8l-0.7 1.0M112.5 191.0l0.3 0.7M60.3 188.2l-0.9 0.4M111.0 206.6l0.1 0.3M61.2 190.0l-0.0 1.1M86.0 205.6l-0.1 0.4M96.7 218.2l0.1 0.1M88.9 192.2l0.0 0.0M133.7 204.0l0.3 0.6M75.8 188.2l-0.5 0.9M62.9 190.2l0.2 0.0M86.3 214.3l-0.4 1.2M135.3 203.7l0.5 0.1M107.2 203.6l0.5 0.7M89.2 192.1l-0.6 0.3M101.7 166.8l-0.5 0.5M96.2 211.3l0.4 0.1M66.9 191.5l0.0 0.2M73.6 217.0l1.0 0.2M67.2 169.2l0.1 1.1M102.6 176.9l-0.5 0.2M123.6 177.4l0.1 0.5M79.5 179.2l-0.2 0.2M90.0 205.1l-0.4 0.3M111.3 191.2l0.1 0.4M106.0 207.9l-1.3 0.2M73.9 181.5l-0.6 0.1M66.2 201.1l0.1 0.2M94.0 190.3l0.3 0.1M79.2 167.3l-0.2 0.6M97.6 211.1l0.3 0.6M131.0 182.2l0.5 0.3M111.0 172.5l-0.8 0.1M99.8 214.3l-0.0 0.1M78.9 186.0l-0.1 0.7M92.5 168.7l-0.1 0.3M145.3 221.9l-0.8 0.2M112.3 170.4l0.0 0.0M141.7 211.5l-0.1 0.1M110.8 207.4l0.2 1.2M111.0 200.7l0.7 0.5M88.9 211.4l0.3 0.1M118.3 230.4l-0.1 0.1M70.2 222.0l-0.7 0.9M74.2 189.6l-0.7 0.3M137.0 216.4l0.6 0.7M76.5 176.8l-1.0 0.5M77.0 217.9l0.3 0.3M64.7 180.9l-0.2 0.9M59.1 228.5l0.5 0.4M79.2 179.8l0.8 0.9M112.4 211.2l-0.0 0.0M61.5 181.0l-1.0 0.2M82.9 177.9l-0.5 0.1M134.5 170.4l0.0 0.2M130.8 168.6l0.5 0.3M125.0 225.2l-1.0 0.2M105.0 206.7l-0.0 0.0M130.5 199.4l0.5 0.3M88.6 193.8l0.2 1.0M140.7 181.0l-0.7 0.9M71.9 225.5l0.2 0.7M125.5 226.2l0.5 0.3M97.3 211.0l-0.4 0.4M139.1 219.0l-0.6 0.4M137.8 224.9l-0.3 0.6"/>
<path stroke="#a83ade" stroke-opacity="0.8" stroke-width="3.2" d="M134.0 230.2l0.1 0.1M87.6 229.4l-0.3 0.1M119.3 218.3l-0.2 1.2M103.6 202.9l0.6 0.6M126.1 166.3l0.6 0.8M69.3 211.2l0.7 0.6M77.2 176.0l-1.1 0.4M102.4 223.3l-1.0 0.0M102.0 174.6l1.4 0.3M58.2 170.1l1.1 0.2M78.7 179.9l-0.1 0.3M67.0 218.3l-0.2 0.1M122.6 173.4l0.9 0.8M115.5 206.3l0.1 0.5M79.9 220.0l-0.4 1.3M68.4 170.3l-0.1 1.2M138.1 227.0l0.1 0.5M72.6 203.1l0.9 0.5M96.1 202.0l-1.2 0.6M134.0 222.1l-0.4 0.8M88.1 174.1l0.0 0.0M136.4 201.2l0.2 0.8M111.3 210.6l-0.1 0.1M63.9 209.4l0.0 0.0M86.7 186.6l0.2 0.3M92.2 195.2l1.0 1.0M121.7 182.4l-0.0 0.1M107.9 211.5l-0.2 1.2M141.0 203.3l0.0 0.3M59.2 181.5l-0.0 0.1M102.5 230.9l0.1 0.1M73.5 206.3l-0.7 0.6M91.3 208.7l0.2 0.8M129.0 195.2l-0.0 0.1M92.2 226.0l-0.1 0.2M139.1 181.2l-0.6 0.2M111.3 180.8l0.0 0.3M106.9 207.7l-0.1 0.4M110.6 217.3l0.3 0.1M121.9 230.9l0.0 0.2M76.7 176.6l-0.2 0.0M104.4 224.4l-0.3 0.1M127.4 219.5l0.0 0.1M67.7 213.0l-0.4 0.7M107.0 169.7l1.2 0.0M115.2 225.6l0.8 0.1M64.3 218.1l0.1 0.7M96.6 183.8l-0.5 0.0M142.8 224.7l-0.3 0.2M105.7 174.1l-0.6 0.5M108.7 182.4l-0.4 0.1M128.5 178.3l-0.0 0.0M129.6 194.1l0.2 0.5M137.4 231.1l-0.3 0.1M119.5 231.1l-0.7 1.0M91.7 168.4l-0.6 0.3M130.4 173.1l-0.1 0.2M126.2 228.1l-0.0 0.0M128.0 192.8l-0.0 0.0M70.1 216.3l-0.7 0.4M78.4 168.0l0.6 0.2M104.5 206.6l1.1 0.6M112.1 186.9l0.3 0.0M113.3 199.7l0.6 0.2M80.9 201.4l-0.1 0.8M93.2 223.7l-0.7 0.4M63.1 221.4l-0.0 0.0M130.0 203.3l-1.3 0.1M103.2 190.1l-0.7 0.4M97.5 199.4l0.6 0.8M109.4 216.5l0.2 0.1M117.8 212.9l0.2 0.6M90.9 207.8l-0.5 0.4M99.4 209.4l-0.2 0.8M142.8 194.6l-0.5 0.7M65.2 220.7l0.0 0.2M80.3 167.2l0.1 0.1M64.8 205.1l-0.9 0.1M71.0 213.3l0.1 0.1M125.3 185.7l0.1 0.2M132.8 226.9l-0.0 0.1M104.9 183.5l0.9 1.0M84.0 216.2l-0.8 1.1M96.7 204.5l-0.4 0.2M126.6 211.7l-0.1 0.0M73.3 203.6l-0.8 0.1M80.9 210.7l-0.5 0.1"/>
<path stroke="#8c22d0" stroke-opacity="0.85" stroke-width="1.2" d="M82.2 182.9l-0.0 0.1M59.8 203.9l-0.0 0.0M126.1 196.1l0.4 0.4M90.2 212.6l-0.1 0.2M144.6 216.8l0.5 0.1M81.1 225.6l-0.2 0.3M88.6 184.7l-0.3 0.1M95.1 206.9l-0.0 0.1M85.3 202.7l-0.1 0.1M83.6 177.0l-0.2 0.0M83.0 183.1l-0.3 0.3M80.4 179.9l0.2 0.0M80.7 229.8l0.2 0.4M108.7 175.4l-0.1 0.1M76.4 222.8l0.2 0.0M83.2 220.7l-0.1 0.2M108.0 190.5l0.3 0.2M138.9 202.3l-0.4 0.4M82.9 220.7l0.0 0.1M93.0 221.4l0.2 0.0M81.5 166.4l-0.3 0.4"/>
<path stroke="#8c22d0" stroke-opacity="0.85" stroke-width="1.6" d="M115.1 169.0l0.6 0.2M62.9 184.6l-0.6 0.1M68.0 169.6l0.3 0.2M76.6 221.0l-0.2 0.1M127.5 184.2l0.3 0.1M82.1 220.9l-0.1 0.5M90.8 219.4l-0.6 0.1M80.2 208.7l0.0 0.1M86.4 184.1l-0.2 0.6M101.4 183.3l0.3 0.5M79.4 189.2l-0.0 0.6M61.4 167.4l-0.1 0.1M117.8 209.4l-0.3 0.1M118.5 186.2l0.0 0.0M102.0 166.4l0.1 0.0M104.3 213.6l0.3 0.0M63.0 226.3l0.3 0.1M121.2 198.7l-0.1 0.6M60.3 180.5l0.2 0.1M114.4 206.0l-0.1 0.2M84.7 221.7l-0.2 0.6M140.1 203.0l-0.2 0.3M92.5 221.8l0.0 0.0M76.2 210.9l-0.0 0.1M98.5 209.6l0.3 0.1M75.9 197.4l-0.0 0.1M77.0 221.1l0.0 0.0M118.9 186.5l0.1 0.0M124.1 187.5l-0.0 0.1M100.6 201.9l-0.2 0.7M141.7 209.0l0.5 0.1M140.4 221.2l0.0 0.0M141.9 228.8l-0.1 0.0M111.3 219.0l0.5 0.4M66.1 200.7l0.1 0.3M139.2 227.1l0.6 0.4M127.4 215.9l-0.1 0.1M139.7 180.6l-0.2 0.0M63.1 167.4l-0.3 0.0M84.9 193.5l0.1 0.3"/>
<path stroke="#8c22d0" stroke-opacity="0.85" stroke-width="2" d="M62.0 171.4l0.1 0.0M130.3 192.0l-0.3 0.6M114.3 217.2l-0.7 0.1M82.4 190.7l-0.2 0.0M70.8 180.8l-0.2 0.1M89.6 174.4l-0.1 0.4M115.9 220.0l0.6 0.3M87.9 187.7l-0.1 0.3M118.2 228.1l0.1 0.2M73.5 215.6l-0.5 0.2M71.8 191.4l-0.7 0.4M142.5 186.9l0.1 0.2M67.9 206.7l0.1 0.0M123.1 218.9l-0.1 0.1M144.7 188.0l0.3 0.2M102.8 171.9l-0.2 0.3M64.8 208.1l-0.2 0.1M118.9 170.7l-0.3 0.6M59.2 193.3l-0.7 0.4M66.6 195.5l-0.4 0.6M75.0 205.2l0.1 0.2M118.4 206.4l-0.8 0.2M95.0 190.1l0.3 0.2M119.3 226.0l0.6 0.2M134.0 169.6l0.1 0.1M117.9 191.3l0.2 0.1M88.3 199.0l0.3 0.8M69.6 213.2l-0.2 0.1M64.6 178.7l0.4 0.4M107.6 194.4l-0.1 0.5M90.4 195.2l-0.2 0.3M96.2 229.4l-0.0 0.0M80.0 199.2l0.5 0.1M70.3 201.7l0.6 0.3M62.0 218.5l-0.7 0.1"/>
<path stroke="#8c22d0" stroke-opacity="0.85" stroke-width="2.4" d="M127.5 173.1l-0.4 0.3M131.7 225.7l-0.6 0.3M71.9 203.6l0.8 0.4M86.3 222.3l0.8 0.1M71.6 180.3l-0.3 0.9M60.1 167.0l-0.5 0.7M65.0 218.9l0.0 0.2M131.3 197.1l0.1 0.5M126.0 226.4l0.5 0.4M101.3 177.2l-0.0 0.0M126.0 181.1l0.0 1.0M91.3 216.5l-0.7 0.1M83.1 184.5l0.4 0.2M95.9 191.9l-0.1 0.1M124.2 174.0l0.6 0.0M141.9 201.8l-0.7 0.7M145.3 169.4l-0.9 0.4M122.4 228.3l0.0 0.0M131.7 175.0l0.2 0.1M88.1 211.6l-0.7 0.5M69.3 216.3l-0.3 0.8M76.5 189.5l0.6 0.2M120.6 182.6l-0.0 0.0M94.2 183.7l0.2 0.5"/>
</g></g>
<line x1="125.5" y1="224.4" x2="133.2" y2="224.4" stroke="#111" stroke-width="1.4"/>
<clipPath id="c2"><rect x="60.5" y="234.4" width="82.5" height="62.2"/></clipPath>
<g clip-path="url(#c2)"><g filter="url(#bl)" stroke-linecap="round" fill="none">
<rect x="58.5" y="232.4" width="86.5" height="66.2" fill="#fad6f2"/>
<path stroke="#f4aeea" stroke-opacity="0.55" stroke-width="2" d="M141.2 295.1l-0.1 0.0M74.9 281.5l0.4 0.4M78.3 290.3l-0.4 0.2M60.9 256.3l0.6 0.2M62.2 297.9l0.0 0.0M111.6 281.5l0.3 0.0M70.6 236.1l0.1 0.0M79.2 238.9l0.2 0.1M89.1 298.4l0.4 0.1M115.0 286.1l-0.5 0.6M141.5 240.7l0.1 0.3M124.8 236.1l0.2 0.8M88.5 243.8l0.6 0.2M142.3 275.1l0.6 0.5M99.9 269.3l0.5 0.1M67.8 246.3l0.1 0.2M138.0 242.8l-0.3 0.7M118.8 275.8l0.4 0.3M119.6 263.7l-0.6 0.3M130.7 272.0l0.2 0.1M94.6 287.5l0.4 0.2M78.5 246.4l0.5 0.2M67.3 269.0l0.1 0.6"/>
<path stroke="#f4aeea" stroke-opacity="0.55" stroke-width="2.4" d="M122.3 276.4l-0.2 0.6M125.1 284.6l-1.1 0.1M121.2 264.5l-0.2 0.3M72.6 292.1l0.6 0.8M109.6 253.0l-0.5 0.1M128.7 242.5l0.2 0.6M78.7 261.5l-0.2 0.6M127.7 279.1l-0.0 0.4M103.3 262.9l0.6 0.4M118.0 238.7l-0.5 0.8M109.6 237.2l-0.4 0.1M65.0 282.1l0.2 0.5M107.0 263.2l1.0 0.2M100.5 276.9l-0.0 0.3M97.6 247.6l1.0 0.4M67.0 247.8l0.3 0.6M89.5 284.7l-0.3 0.8M93.6 286.8l-1.0 0.2M99.6 273.0l-0.3 0.9M76.6 257.1l0.1 0.5M114.0 268.4l-0.9 0.1M136.4 263.0l-0.2 0.1M88.4 263.6l0.0 0.2M111.0 289.1l-0.3 0.6M135.1 277.5l-0.2 0.1M99.6 257.4l-0.0 0.2"/>
<path stroke="#f4aeea" stroke-opacity="0.55" stroke-width="2.8" d="M108.9 242.7l-0.3 0.4M144.4 295.0l0.4 0.4M61.5 234.0l0.1 0.4M87.0 240.9l-0.7 1.1M100.6 293.1l0.5 1.0M135.2 291.9l-0.7 0.2M141.5 278.8l-0.3 0.6M133.2 279.0l-0.1 0.3M85.4 238.9l1.0 0.4M109.2 258.4l-0.2 0.0M80.9 272.5l-0.0 0.0M59.0 234.7l-0.1 0.1M108.5 235.6l0.5 0.3M66.9 285.5l-0.6 0.1M59.6 262.1l0.5 0.4M98.5 282.3l0.1 0.1M84.1 247.6l0.1 0.3M104.3 239.4l-0.9 0.9M98.8 278.6l-0.9 0.8M108.1 242.0l-0.0 0.0M134.7 244.0l0.2 0.6M78.4 273.5l-0.8 0.1M113.8 233.0l-0.8 0.3M70.0 242.9l0.3 0.4M129.1 257.5l0.4 0.1M98.2 243.4l-0.3 0.1M112.1 276.7l0.4 0.2M140.9 255.5l1.0 0.6M79.1 287.4l-0.1 0.3M76.1 248.9l0.1 0.3M125.6 240.7l0.5 1.0M124.7 272.2l0.4 1.1M97.8 259.7l0.1 0.0M134.2 241.6l0.2 0.1M94.1 279.9l0.8 0.3M104.5 258.0l1.0 0.7M71.5 272.5l-0.0 0.1M138.1 275.0l-1.0 0.3M112.1 257.7l0.4 1.1M119.7 258.9l-0.0 0.1M77.6 234.0l0.1 0.1"/>
<path stroke="#f4aeea" stroke-opacity="0.55" stroke-width="3.2" d="M135.5 267.2l0.3 0.0M72.5 282.0l-0.1 0.7M65.9 288.1l-0.8 1.1M116.7 293.0l1.1 0.3M84.0 247.2l0.2 1.0M67.0 266.5l-0.4 0.1M120.3 294.4l-0.7 0.1M87.6 281.5l-1.0 0.5M127.8 241.3l0.4 0.4M126.9 258.9l-1.1 0.5M131.2 238.3l-0.1 0.6M131.9 285.1l0.3 0.3M137.9 261.1l0.7 1.1M79.7 248.1l0.2 0.4M75.6 270.5l-0.6 0.7M74.9 263.4l0.4 0.2M86.0 249.1l0.1 0.5M119.4 289.8l-0.1 1.0M103.8 283.8l-0.7 0.7M86.8 267.9l-0.9 0.2M71.0 252.9l-0.7 0.1"/>
<path stroke="#f4aeea" stroke-opacity="0.55" stroke-width="3.6" d="M74.8 291.4l-1.1 0.3M113.0 237.2l-1.1 0.3M79.9 246.1l-0.4 0.6M141.1 234.1l0.0 0.0M97.8 282.6l-1.0 1.0M136.9 295.8l-0.0 0.7M60.6 275.5l0.0 1.1M89.4 262.4l-0.0 0.4M100.5 295.2l-1.3 0.7M111.0 292.3l-0.1 0.1M124.5 245.4l0.7 0.5M59.1 264.2l-0.8 0.8M61.0 237.6l-0.2 0.2M91.7 261.5l-0.2 0.5M84.6 274.7l0.3 1.0M133.2 293.7l0.9 1.2M137.9 290.5l-0.1 0.7M65.2 252.6l0.0 0.0M76.0 292.9l-0.5 0.7M112.4 288.6l-0.0 1.2M92.9 284.8l0.1 0.9M119.0 250.3l0.3 0.9M125.2 277.9l0.1 0.7M84.3 233.1l0.2 0.3"/>
<path stroke="#f4aeea" stroke-opacity="0.55" stroke-width="4" d="M114.3 266.0l-1.7 0.0M111.0 251.6l0.7 0.0M65.4 291.5l1.1 0.5M59.4 269.0l-0.1 0.6M100.4 268.0l-0.1 0.1M102.4 277.6l-0.9 0.9M71.5 253.3l0.1 0.1M110.1 267.6l-1.5 0.8M145.2 240.7l-1.1 0.3M83.2 282.9l-0.2 0.3M119.2 250.3l0.2 0.3M70.9 251.7l1.3 1.0M128.6 238.3l1.2 0.2M88.7 254.7l1.0 0.3M126.8 256.1l-0.9 0.6"/>
<path stroke="#bd60da" stroke-opacity="0.85" stroke-width="1.2" d="M69.8 255.6l-0.4 0.0M129.6 273.5l-0.1 0.1M97.0 238.6l0.0 0.0M76.7 279.0l-0.0 0.0M98.7 245.5l-0.1 0.1M141.1 275.7l0.1 0.4M108.2 253.7l-0.0 0.0M135.2 262.6l-0.0 0.5M82.5 249.6l0.1 0.3M91.5 277.3l0.3 0.3M142.3 270.9l-0.2 0.0M111.5 271.4l0.0 0.0M61.1 249.3l-0.3 0.1M99.0 253.9l0.5 0.1M76.3 287.9l0.1 0.0M66.0 277.5l0.0 0.0M114.2 289.4l-0.0 0.4M141.5 295.2l-0.0 0.2M110.0 273.9l-0.0 0.1M141.0 278.8l0.4 0.3M110.0 244.8l0.0 0.4M144.6 266.9l-0.2 0.2M81.4 289.7l0.0 0.0M109.1 233.8l0.2 0.1M94.8 259.7l0.2 0.1M113.4 235.7l-0.1 0.0M133.9 245.5l0.1 0.3"/>
<path stroke="#bd60da" stroke-opacity="0.85" stroke-width="1.6" d="M94.8 284.7l-0.0 0.0M74.8 232.7l0.3 0.3M137.6 240.6l0.1 0.3M113.7 270.0l0.0 0.3M95.3 250.2l-0.5 0.1M142.0 296.3l-0.4 0.3M116.2 275.4l-0.4 0.0M120.4 235.7l-0.3 0.1M111.5 243.1l-0.1 0.6M121.4 263.0l-0.1 0.4M128.5 280.0l0.3 0.3M99.4 256.3l-0.1 0.1M75.2 244.6l0.7 0.0M141.4 236.5l0.3 0.1M135.5 246.1l-0.0 0.1M114.0 288.6l0.6 0.1M107.8 283.9l0.2 0.1M74.9 261.2l-0.5 0.3M94.9 283.0l-0.0 0.2M78.7 255.0l-0.3 0.3M80.8 269.1l0.2 0.1M67.5 252.3l0.0 0.0M118.1 287.6l-0.0 0.0M91.3 253.1l0.1 0.1M73.5 285.5l-0.0 0.4M99.2 274.7l-0.1 0.1M102.4 291.4l-0.0 0.0M134.5 235.4l0.2 0.2M105.5 234.5l0.1 0.1M118.3 290.4l-0.1 0.1M71.5 244.7l0.1 0.5M75.9 254.7l-0.0 0.1M93.6 240.2l-0.5 0.2M114.2 236.3l-0.5 0.1M80.4 282.9l0.1 0.3M83.5 232.6l-0.2 0.1M130.1 243.6l0.4 0.2M105.8 240.6l-0.2 0.1M104.2 248.4l0.3 0.5M124.1 295.8l0.0 0.0M89.1 293.3l-0.0 0.1M106.1 283.4l-0.0 0.4M117.7 237.7l-0.3 0.2M59.3 287.5l-0.0 0.0M115.9 285.8l0.2 0.2M104.8 286.3l-0.5 0.3M137.6 260.4l0.0 0.6M81.5 248.9l-0.2 0.0M88.2 285.8l-0.1 0.0M132.4 247.4l0.0 0.4M113.2 283.3l0.1 0.7M110.1 266.8l0.1 0.1M116.6 262.5l0.1 0.0M70.2 269.3l0.4 0.4M118.3 256.1l-0.1 0.1M96.0 241.5l-0.0 0.0"/>
<path stroke="#bd60da" stroke-opacity="0.85" stroke-width="2" d="M131.3 232.6l-0.6 0.8M133.0 237.2l0.1 0.5M142.2 287.1l-0.3 0.1M137.1 239.7l0.0 0.0M114.8 235.7l0.1 0.4M142.7 270.1l0.1 0.4M140.8 285.2l-0.0 0.1M142.4 268.5l0.4 0.4M106.9 267.5l-0.6 0.6M141.4 239.9l0.1 0.6M93.2 235.1l-0.1 0.0M86.8 237.7l-0.4 0.1M142.2 290.2l0.4 0.3M133.1 271.2l0.0 0.1M138.2 288.1l0.7 0.3M134.2 252.5l0.4 0.2M72.1 247.3l-0.5 0.3M143.0 295.4l-0.3 0.0M121.9 245.4l0.0 0.0M122.2 297.2l0.3 0.4M107.5 290.6l-0.1 0.0M87.3 293.6l0.3 0.2M115.6 273.3l0.3 0.4M101.8 248.1l0.3 0.1M80.5 247.5l0.4 0.6M122.4 297.4l-0.7 0.3M126.6 234.8l-0.1 0.8M83.6 295.7l0.4 0.2M115.3 282.5l-0.8 0.2M136.4 239.2l-0.3 0.6M77.3 276.6l-0.2 0.1M58.4 295.4l0.4 0.5M80.0 239.3l0.1 0.1M85.4 238.1l-0.2 0.5M89.1 295.7l0.2 0.9M114.1 238.8l0.4 0.4M112.5 240.9l0.0 0.5M107.5 271.4l-0.6 0.6M65.3 279.5l0.3 0.3M115.0 297.3l-0.1 0.5M78.0 288.9l-0.2 0.4M86.2 286.1l-0.2 0.3M65.4 261.0l0.7 0.2M139.7 246.4l0.0 0.4M111.6 272.7l-0.4 0.0M110.7 278.9l0.2 0.3M120.7 277.1l0.3 0.6M93.6 260.3l0.5 0.6M109.3 269.0l0.1 0.3M65.1 265.5l-0.2 0.2M61.0 260.3l-0.1 0.1M114.0 277.6l-0.0 0.0M119.0 277.5l-0.7 0.1M109.1 260.7l-0.4 0.6M125.7 252.8l-0.1 0.2M108.8 273.8l0.1 0.6M81.6 238.7l0.1 0.2M67.6 242.0l-0.2 0.6M61.8 259.3l-0.2 0.2M123.1 237.9l-0.5 0.4"/>
<path stroke="#bd60da" stroke-opacity="0.85" stroke-width="2.4" d="M136.0 266.1l0.0 0.0M61.8 248.3l0.3 0.9M120.2 256.3l-0.2 0.4M95.0 265.5l-0.4 0.7M118.6 256.3l0.3 0.2M128.3 259.0l0.2 0.6M114.6 284.0l-0.4 0.6M89.9 272.4l-0.2 0.1M79.3 288.3l0.2 0.1M141.3 243.6l0.1 0.9M128.2 267.2l0.3 0.0M69.0 239.2l-0.5 0.1M113.4 279.9l0.7 0.3M64.1 273.8l-0.1 0.1M136.1 255.7l0.1 0.1M136.4 237.9l0.7 0.4M141.4 294.1l0.2 0.1M94.9 264.4l-0.8 0.0M70.5 266.3l0.5 0.4M85.0 298.3l-0.7 0.3M139.2 270.2l0.4 0.4M137.2 235.7l0.1 0.2M62.8 256.5l-0.3 0.4M115.5 243.8l-0.4 0.2M120.4 288.4l0.9 0.1M94.4 247.7l-0.6 0.8M83.2 237.7l-0.3 0.5M83.2 283.6l1.1 0.2M68.8 251.5l-0.7 0.7M123.3 243.6l-0.9 0.5M125.5 285.7l-0.2 0.2M131.1 296.6l0.3 0.1M135.4 250.6l0.8 0.4M75.7 260.4l-0.9 0.0M82.2 273.4l-0.1 0.4M116.0 279.0l0.3 0.8M143.5 282.1l0.8 0.4M118.3 289.8l-0.2 0.2M91.9 260.9l0.6 0.3M114.7 267.5l0.0 0.1M59.2 288.5l-0.7 0.2M114.4 246.7l-0.1 0.0M84.4 294.5l0.0 0.3M81.6 293.0l0.0 0.0M104.7 274.1l-0.2 0.1M142.3 275.8l0.3 0.3M126.7 270.0l-0.7 0.2M85.6 250.1l-0.6 1.0M81.9 277.1l0.4 1.0M59.8 267.3l0.0 0.9M92.5 271.7l0.5 0.7M128.4 233.7l0.1 0.1M94.7 278.8l0.5 0.4M102.1 268.4l-0.0 0.0M86.9 248.4l0.1 0.2M113.0 298.6l-0.4 0.0M116.0 297.0l-0.3 0.2"/>
<path stroke="#8e38c6" stroke-opacity="0.9" stroke-width="1.2" d="M91.0 283.3l0.2 0.1M125.1 252.2l0.0 0.0M119.3 240.1l0.1 0.0M112.4 263.5l-0.4 0.1M114.4 267.7l-0.2 0.2M88.4 275.8l0.1 0.1M83.3 243.0l0.2 0.0M101.4 262.5l-0.1 0.4M85.0 291.7l-0.0 0.0M72.0 249.1l0.4 0.0M85.0 250.9l-0.2 0.3M131.0 263.9l-0.3 0.1M112.7 281.5l0.1 0.0M97.5 264.6l-0.1 0.4M100.4 280.7l0.0 0.0M88.5 249.1l-0.1 0.2M106.7 295.2l-0.2 0.2M84.1 285.0l-0.0 0.1M107.0 252.3l-0.0 0.6M130.6 277.4l-0.0 0.2M142.0 259.1l-0.1 0.2M79.4 281.3l0.1 0.5M59.8 235.4l-0.2 0.1M95.6 250.2l0.1 0.3M115.0 275.8l0.1 0.4M62.9 270.9l0.2 0.4M120.7 245.7l0.1 0.2M117.2 242.8l-0.4 0.2M123.4 280.3l-0.3 0.2M119.1 294.1l0.1 0.1M125.7 288.6l-0.3 0.0M72.9 261.6l0.1 0.5M129.1 251.1l-0.1 0.3M111.0 238.3l-0.0 0.3M59.5 269.4l-0.1 0.2M63.5 279.0l-0.2 0.0"/>
<path stroke="#8e38c6" stroke-opacity="0.9" stroke-width="1.6" d="M111.6 271.7l-0.3 0.4M98.4 284.5l-0.5 0.1M62.2 260.0l0.4 0.3M121.6 282.6l0.2 0.0M120.1 248.2l0.5 0.5M118.1 261.3l-0.2 0.2M99.9 271.7l0.0 0.1M85.9 261.3l-0.1 0.2M60.5 286.2l0.1 0.0M124.4 248.1l-0.4 0.4M74.6 295.2l-0.1 0.0M106.1 276.9l-0.2 0.2M103.1 241.9l-0.0 0.2M106.9 249.7l-0.5 0.3M121.9 296.1l-0.2 0.5M104.0 283.2l-0.2 0.1M109.9 291.3l0.1 0.3M102.6 261.9l-0.2 0.3M119.8 260.1l0.2 0.1M69.2 268.0l-0.5 0.2M110.9 291.8l-0.2 0.5M75.9 262.4l0.1 0.5M141.0 273.0l-0.1 0.1M144.2 242.3l-0.1 0.0M133.4 292.6l-0.1 0.3M63.4 239.2l0.3 0.4M118.4 290.6l-0.4 0.4M77.7 282.4l0.0 0.5M97.3 288.2l-0.1 0.1M105.1 236.2l0.1 0.7M93.9 244.5l-0.4 0.3M129.4 255.3l0.1 0.4M94.3 294.7l0.4 0.1M104.6 282.4l-0.2 0.7M109.6 253.5l0.1 0.2M70.2 257.2l0.4 0.0M78.0 259.2l-0.1 0.2M125.8 244.5l0.0 0.3"/>
<path stroke="#8e38c6" stroke-opacity="0.9" stroke-width="2" d="M104.3 242.1l0.1 0.1M103.5 234.5l0.1 0.2M84.0 293.4l0.2 0.1M126.1 245.9l-0.1 0.3M64.0 269.7l-0.0 0.0M94.5 258.9l-0.0 0.1M128.6 259.3l0.0 0.2M71.5 267.6l-0.2 0.1M101.9 279.5l-0.2 0.2M64.1 272.8l0.1 0.6M82.0 239.3l-0.4 0.2M140.8 282.0l0.3 0.2M59.6 280.6l-0.4 0.1M90.2 289.9l0.8 0.3M76.3 295.2l-0.1 0.1M94.6 297.4l-0.3 0.6"/>
</g></g>
<line x1="129.5" y1="291.2" x2="137.5" y2="291.2" stroke="#111" stroke-width="1.4"/>
<text x="153.4" y="164.6" font-size="10" text-anchor="start" font-weight="bold" fill="#111">E</text>
<text x="242.6" y="166.7" font-size="9.5" text-anchor="middle" fill="#161616">CCasp3</text>
<text x="325.8" y="166.7" font-size="9.5" text-anchor="middle" fill="#161616">Ki67</text>
<text x="415.4" y="166.7" font-size="9.5" text-anchor="middle" fill="#161616">CD45</text>
<text x="502.8" y="166.7" font-size="9.5" text-anchor="middle" fill="#161616">F4/80</text>
<text x="195.4" y="201.6" font-size="9.2" text-anchor="end" fill="#161616">Saline</text>
<text x="172" y="261.2" font-size="9.2" text-anchor="middle" fill="#161616">ADC</text>
<text x="171.6" y="272.4" font-size="9.2" text-anchor="middle" fill="#161616">(24 mg/kg)</text>
<clipPath id="c3"><rect x="196.7" y="168.3" width="82.6" height="61.3"/></clipPath>
<g clip-path="url(#c3)"><g filter="url(#bl)" stroke-linecap="round" fill="none">
<rect x="194.7" y="166.3" width="86.6" height="65.3" fill="#b4b4c8"/>
<path stroke="#8686cc" stroke-opacity="0.85" stroke-width="2.4" d="M275.7 223.6l0.1 0.1M198.3 206.1l0.4 0.7M201.3 205.4l0.1 0.2M247.3 176.1l0.5 0.8M259.0 167.7l-0.8 0.1M206.2 174.2l-1.0 0.5M241.0 211.5l0.1 0.5M217.6 196.2l-0.5 0.8M203.7 204.6l-0.1 0.1M198.1 172.0l0.9 0.5M197.0 220.8l-0.5 0.8M244.9 210.2l0.1 0.4M271.3 225.1l0.4 1.0M218.4 172.5l-0.6 0.7M204.1 169.0l0.2 0.1M246.4 180.8l-0.2 0.1M229.6 177.3l0.1 0.1M237.1 170.0l0.1 0.5M278.1 180.5l0.5 0.3M248.6 188.9l-0.0 0.0M247.4 228.0l-0.3 0.2M201.6 220.2l-0.0 0.0M211.8 224.5l0.4 0.3M275.4 178.0l0.5 0.7M239.4 207.7l0.5 0.6M262.6 230.2l0.2 0.0M231.9 188.3l0.6 0.2M256.0 225.5l0.3 0.7M214.8 179.1l-0.4 0.4M266.0 222.9l-0.1 1.1M222.8 184.7l-0.6 0.1M232.7 210.4l0.4 1.0M246.4 171.8l0.4 0.0M279.7 211.3l-0.4 0.4M280.5 170.4l0.1 0.5M249.5 195.0l-0.8 0.4M266.1 179.1l-0.1 0.9M230.1 203.9l0.0 0.1M222.9 229.3l0.3 0.9M219.7 167.8l0.3 0.2M263.6 198.4l-0.3 1.0M226.4 231.3l0.0 0.6M205.6 207.1l1.1 0.2M278.2 178.4l-0.1 0.8M239.1 229.1l-0.0 0.1M235.1 205.5l-0.2 0.2M201.7 224.5l-0.1 0.0M219.1 209.5l-0.1 0.2M262.3 185.2l-0.7 0.8M243.2 203.9l0.2 0.1M265.1 209.9l0.0 0.5M232.3 211.9l-0.9 0.5M230.7 180.4l-0.1 0.8M249.4 167.8l-0.8 0.3M242.9 194.1l0.1 0.1M202.0 226.6l0.8 0.7M220.1 220.2l-0.3 1.0M207.9 215.8l0.1 0.0M266.2 203.4l1.0 0.5M268.9 192.3l-0.8 0.2M219.4 218.4l-0.0 0.0M232.6 190.5l0.5 0.5M202.2 184.5l-0.5 0.1M226.9 207.7l0.1 0.5M234.1 207.5l-0.0 0.6M234.8 211.3l0.2 1.0"/>
<path stroke="#8686cc" stroke-opacity="0.85" stroke-width="2.8" d="M215.5 201.5l-0.3 0.8M230.7 176.0l-0.9 0.4M213.9 218.7l0.0 0.2M255.3 172.8l-0.4 0.2M232.8 222.0l-0.2 0.4M271.3 195.7l-0.0 0.1M219.9 217.9l0.1 0.4M239.5 185.1l0.3 0.1M195.9 214.8l-0.2 0.3M269.4 169.4l-0.0 0.3M202.1 198.9l0.2 0.4M250.7 204.5l0.1 0.2M271.4 227.1l-1.0 0.7M276.0 170.1l-0.6 0.4M215.9 177.8l-0.6 0.5M210.6 183.5l0.4 0.6M222.6 216.3l0.1 1.2M278.0 196.7l-0.2 0.2M217.0 222.6l-0.4 0.4M241.4 173.9l0.8 0.3M261.8 215.4l-0.4 0.8M253.6 202.9l-0.3 0.7M250.7 196.2l0.2 0.0M216.0 216.3l0.1 0.4M241.1 216.5l1.1 0.4M259.3 204.8l0.4 0.3M240.5 203.3l-0.2 0.2M270.2 211.2l-0.3 1.0M272.6 213.0l-0.0 0.5M207.0 196.3l0.2 0.1M197.3 172.2l0.0 0.0M251.3 224.5l0.1 1.2M205.1 191.7l-0.9 0.2M236.5 183.5l-0.3 0.8M246.1 219.2l0.1 0.7M257.4 171.3l0.6 0.1M202.4 180.1l-0.7 0.8M227.0 176.5l-0.0 0.6M271.6 218.9l-0.3 0.2M265.1 182.2l-0.7 0.5M240.0 177.4l-0.8 0.0M242.3 192.8l-0.5 0.4M233.9 228.8l-0.0 0.4M218.5 174.7l1.2 0.3M277.7 170.6l0.4 0.5M241.5 169.1l1.1 0.5M206.3 175.7l-0.4 0.1M222.2 167.4l-0.8 0.6M227.4 187.0l-0.8 0.0M256.2 189.6l0.2 0.6M236.0 224.4l-0.2 0.1M266.8 178.0l-0.0 0.5M272.2 220.0l-0.1 0.5M200.0 194.5l-0.2 0.1M229.1 180.1l0.0 0.0M228.5 177.8l-0.2 0.3M224.2 173.3l-0.1 0.5M216.1 211.6l-0.3 0.8M237.5 203.6l-0.6 1.0M267.1 215.1l-0.0 0.0M222.2 213.5l0.4 0.3M212.2 199.2l-0.0 0.1M235.5 194.3l1.0 0.7M244.3 199.6l-0.3 0.0M231.8 218.5l-0.2 0.7M228.0 169.1l0.6 0.5M280.3 206.2l0.9 0.0M219.1 211.9l-0.0 0.0M233.8 218.4l0.1 0.3M248.2 194.6l1.0 0.6M217.2 197.0l-0.2 0.4M210.2 172.5l0.4 0.4M270.9 203.1l0.6 0.1M257.8 215.0l0.6 0.7M213.9 180.9l-0.3 0.7M238.4 194.3l-0.2 0.4M257.1 225.7l-0.9 0.6M256.9 230.1l-0.9 0.3M273.3 194.6l-0.2 0.1M196.5 228.3l-0.5 0.0M200.9 182.6l-0.2 0.0M199.7 225.3l-0.4 0.1M211.7 226.4l0.8 0.3M272.6 191.9l-0.3 0.8M224.4 177.3l0.1 0.1M241.7 192.7l0.0 0.4M267.7 190.8l0.5 0.0M209.9 218.2l-0.0 0.1M239.9 211.8l-0.3 0.3M232.9 212.7l0.3 0.1M198.6 217.7l-0.1 0.4M200.1 202.1l0.3 0.6M195.3 168.7l-0.1 0.1M220.7 174.2l0.9 0.3M267.8 168.8l0.1 0.5M224.9 206.4l1.1 0.0M250.8 197.7l0.1 0.7M244.6 220.2l-0.4 0.1M269.5 204.6l-0.9 0.5M245.1 207.2l-0.5 0.0M279.0 166.3l-0.2 0.2M220.7 220.6l0.5 0.1M248.5 220.0l0.1 0.0M247.0 173.5l-0.4 0.4M200.0 227.7l0.1 0.1M208.0 201.6l0.5 0.8M201.1 204.9l0.0 0.1M210.2 211.8l-0.2 0.4M237.6 215.3l-0.9 0.1M269.1 182.1l-0.1 0.6M230.8 228.0l-0.6 0.3M266.0 190.6l-0.1 0.1M233.1 188.6l-0.3 0.1M216.5 225.8l-0.1 0.2M243.5 185.7l0.5 1.0M220.8 224.8l0.5 0.2M207.3 200.2l0.6 0.5M268.1 203.4l1.2 0.4M202.7 200.6l-0.6 0.3M216.7 225.3l0.3 0.1M238.3 183.1l0.2 0.2M277.7 215.7l0.0 0.0M260.6 200.3l0.2 1.1M276.0 208.8l0.2 0.2M269.1 222.1l-0.0 0.3M240.6 211.5l0.9 0.4M273.0 207.0l-0.1 0.2M234.6 168.2l1.0 0.4"/>
<path stroke="#8686cc" stroke-opacity="0.85" stroke-width="3.2" d="M197.9 222.6l-0.9 0.4M256.4 225.9l0.2 1.1M228.5 189.1l-0.8 0.3M270.6 229.7l0.8 1.2M277.7 224.5l-0.0 0.6M250.9 205.1l-0.9 0.2M279.4 200.3l0.0 0.0M244.5 167.5l0.9 0.2M216.3 195.9l0.2 0.4M221.7 190.2l0.2 0.4M261.3 167.6l0.6 0.9M216.3 222.1l0.5 1.0M209.9 190.1l0.4 1.1M264.1 206.7l0.0 0.5M266.5 228.4l1.2 0.1M228.7 190.1l0.1 0.5M259.7 225.9l-0.4 0.5M230.3 221.9l0.3 0.3M196.7 197.5l0.1 0.2M236.5 179.3l0.5 1.4M241.3 173.5l-0.3 0.4M256.5 215.1l0.5 1.0M211.1 178.4l-0.9 0.6M220.9 222.1l-0.6 0.7M234.6 178.9l-0.0 0.1M251.3 195.1l-1.3 0.5M206.4 218.0l0.0 0.1M214.6 170.8l0.7 1.2M275.4 222.0l0.0 1.1M237.9 211.7l-0.3 0.6M255.3 169.6l0.5 0.0M218.1 217.2l0.8 1.1M274.8 189.9l-0.2 0.2M256.3 191.5l-0.1 0.2M207.9 208.4l0.0 0.0M278.7 180.5l-0.5 0.4M246.9 217.7l0.2 0.1M224.7 205.6l-0.1 0.1M242.7 213.9l-0.3 0.8M270.5 230.0l-0.2 1.4M203.6 185.8l0.1 0.0M195.2 174.7l0.7 0.4M238.6 220.5l0.4 0.2M197.1 203.5l0.5 0.6M274.1 177.7l0.6 0.9M227.4 172.8l0.9 1.0M244.0 196.3l-0.1 0.6M267.5 179.1l-1.2 0.6M232.9 175.6l-0.0 0.5M217.8 173.9l0.5 0.9M248.7 170.4l-0.9 0.8M199.6 221.5l0.5 1.2M213.6 190.5l0.2 0.1M271.3 179.4l-0.1 0.1M196.6 227.2l0.8 0.2M279.7 209.4l0.2 0.2M272.4 174.6l0.4 0.8M210.0 215.0l-0.2 0.7M245.2 172.7l0.1 1.2M241.5 222.3l-0.2 0.7M258.1 188.9l0.6 0.6M255.1 203.0l-0.0 0.1M274.4 223.0l0.6 0.1M259.3 180.4l0.7 1.2M227.5 169.0l-1.1 0.3M258.8 175.6l-0.3 0.9M208.0 174.9l1.2 0.6M203.1 186.5l-0.2 0.8M258.2 200.3l0.4 0.1M216.1 226.7l0.0 0.0M253.1 186.0l0.2 0.3M259.0 228.7l0.1 0.3M199.4 181.6l0.7 0.6M230.8 186.4l0.9 0.9M213.4 201.4l-0.0 0.6M273.1 225.9l0.0 0.2M216.5 174.4l-0.0 0.0M209.5 221.4l-0.0 0.5M241.9 197.3l0.1 0.6M206.0 221.3l-0.4 0.6M203.7 189.2l-0.5 0.1M237.1 200.1l1.0 0.7M277.7 195.8l-0.2 0.4M274.9 211.4l1.0 1.1M278.6 223.8l-1.2 0.5M252.2 190.7l-0.3 0.6M213.3 213.1l-0.2 0.5M197.2 217.7l0.5 0.7M248.5 174.4l-0.4 0.1M265.3 167.0l0.7 0.1M231.4 224.1l-0.4 0.3M225.5 224.9l-0.1 0.0M225.0 224.0l0.2 0.1M269.2 220.5l-0.8 1.1M253.8 178.6l0.1 0.8M221.5 212.6l-1.0 0.4M201.6 229.3l0.0 0.4M209.0 173.1l-0.4 0.5M220.7 214.3l-0.3 0.3M240.2 205.9l-1.0 0.8M206.0 202.1l-0.0 0.8M203.6 229.6l0.5 0.9M206.2 166.9l0.8 0.9M233.4 184.1l1.1 0.2M215.6 190.7l-0.2 0.3M259.7 205.4l-0.2 0.6M251.7 220.0l0.5 0.6M219.2 200.1l0.3 0.4M213.5 199.2l-0.0 0.1M250.1 229.7l-0.5 0.9M232.6 214.3l0.4 0.5"/>
<path stroke="#8686cc" stroke-opacity="0.85" stroke-width="3.6" d="M200.2 167.0l0.3 0.3M281.1 196.6l-0.3 0.7M208.0 207.4l-0.6 0.6M252.6 170.1l0.6 0.8M278.3 194.6l-0.0 0.5M254.2 226.2l-0.9 1.4M256.2 179.7l0.6 0.8M238.5 194.3l0.2 0.3M249.2 196.5l-0.3 0.4M211.1 218.9l0.2 0.2M264.3 208.1l0.5 0.2M275.3 180.2l-0.7 1.2M245.7 185.0l-0.1 0.0M211.9 201.1l-0.2 0.2M274.5 218.9l-0.0 0.0M231.3 197.2l0.0 0.0M205.1 202.5l0.6 0.2M255.3 193.5l0.5 0.5M271.7 217.5l-0.2 1.1M261.2 199.6l-0.1 0.1M208.6 210.9l-0.1 1.1M246.7 196.2l-0.2 1.4M236.6 213.1l-0.5 0.5M253.0 228.8l0.3 0.2M217.7 178.3l-1.3 0.4M202.0 172.1l0.2 0.4M264.9 183.0l-0.8 1.3M210.3 224.4l-0.2 0.0M207.0 187.5l-0.2 0.9M217.7 191.3l-0.0 0.1M243.0 203.7l-0.8 1.3M194.9 216.2l-0.1 0.8M275.2 212.9l-0.5 0.3M220.8 196.5l0.6 0.4M216.1 183.2l0.5 0.9M209.9 213.9l-0.2 1.3M196.2 196.6l1.1 0.3M215.9 221.1l-1.2 0.5M233.6 224.6l0.2 0.5M204.1 171.6l0.4 0.1M267.1 206.3l-1.1 0.5M231.8 188.3l0.7 0.9M241.6 189.5l0.1 0.5M199.4 179.6l-0.8 0.0M221.4 182.2l0.5 0.5M199.0 194.2l-1.0 0.3M252.2 226.5l0.3 1.0M230.6 221.1l-0.5 1.5M267.3 207.5l0.0 0.0M206.9 169.8l0.2 0.2M210.1 229.1l0.2 0.2M205.3 167.2l-1.4 0.0M254.1 200.5l-0.0 0.1M276.0 222.6l-0.5 0.0M241.7 214.3l-1.4 0.4M231.8 207.2l0.6 0.2M214.5 196.6l0.6 0.7M260.8 225.3l1.0 0.7M228.0 221.9l0.0 0.1M236.7 177.8l-0.4 0.4M260.7 176.9l-0.0 0.4M227.2 222.8l-0.5 0.7M195.3 171.4l0.1 0.6M264.3 195.2l0.4 0.3M244.2 183.2l-0.5 0.9M194.3 212.4l1.5 0.2M261.3 199.4l-0.1 0.1M274.8 193.4l0.3 0.8M257.6 172.7l0.3 0.7M261.8 194.7l0.7 0.3M227.8 173.0l-0.5 0.5M263.7 230.9l-0.2 1.4M258.5 206.8l1.1 0.1M206.1 213.3l0.9 1.1M251.1 195.8l-0.3 0.9M262.7 185.7l0.0 0.1M245.1 198.3l0.4 0.8M244.5 181.8l1.0 0.2M215.8 222.4l0.9 0.4M253.2 223.1l-0.9 1.2M225.3 198.9l0.5 1.2M209.6 219.8l-1.2 1.1M228.8 179.7l-0.2 0.2M219.1 178.4l-0.6 1.2M232.8 208.4l1.5 0.5M244.6 227.8l-0.8 0.4M264.4 196.9l-0.0 0.6M208.1 222.2l1.2 0.3M200.9 182.7l-0.0 0.2M212.2 177.4l-0.3 0.0M234.3 224.9l-0.3 0.2M197.4 183.9l-0.6 1.4M268.4 219.8l0.4 0.4M244.8 201.9l0.2 0.2M254.1 179.5l0.5 1.4M251.2 225.4l1.2 0.6M279.0 190.2l0.3 0.9M203.6 181.1l-1.1 0.5M249.0 186.0l-0.3 1.0M245.0 170.8l-0.0 0.0M216.0 177.6l-0.5 0.2M229.3 178.1l-0.3 1.5M223.9 230.7l1.2 0.3M255.9 178.6l0.0 0.9M207.8 187.9l-0.4 0.1M277.7 229.3l0.2 0.3M253.8 167.4l0.4 0.7M210.4 182.4l0.5 0.3M246.2 188.8l-0.8 1.2"/>
<path stroke="#8686cc" stroke-opacity="0.85" stroke-width="4" d="M209.0 221.7l-0.3 1.6M200.3 222.0l-0.1 0.1M230.9 193.0l0.3 0.0M276.8 223.7l-0.8 0.1M255.0 225.9l-0.4 1.5M239.9 192.8l0.5 0.9M202.2 198.7l-0.5 0.5M236.5 208.2l0.2 0.1M215.0 211.2l-0.3 0.4M197.0 218.0l0.6 1.5M202.3 210.9l1.1 0.0M264.3 226.2l0.0 0.0M201.0 192.3l-0.0 0.2M213.2 188.9l0.1 0.6M230.9 227.4l0.1 1.6M261.2 192.2l1.0 1.3M261.6 211.7l-1.6 0.7M196.1 207.5l0.2 1.6M238.8 224.5l0.9 0.7M218.1 228.1l0.2 0.5M273.4 177.4l-0.5 1.1M202.2 178.8l-1.7 0.1M216.3 189.1l-0.5 0.7M212.6 169.6l-0.7 0.3M250.6 184.3l0.1 0.8M240.6 223.0l0.2 0.9M213.6 202.0l-0.7 0.3M226.5 208.6l0.9 0.4M213.5 220.0l-0.2 0.1M214.2 219.7l-0.6 0.0M221.4 224.5l-0.9 0.0M218.7 186.8l-0.2 0.0M263.2 214.1l-0.1 0.1M260.8 198.7l-1.0 1.1M212.2 176.0l0.1 1.3M205.5 205.0l-0.5 0.2M219.0 171.8l0.3 0.3M275.7 181.0l0.3 0.5M221.1 220.6l-1.1 0.7M256.8 178.4l-0.2 0.1M266.5 221.4l1.7 0.3M198.1 199.5l-0.2 0.3M211.4 201.1l-0.1 0.4M214.9 176.7l0.3 0.7M245.9 192.5l0.6 0.5M259.7 181.1l0.2 0.2M259.5 191.6l-0.7 1.1M240.0 184.4l-1.1 1.1M250.5 184.4l-0.1 0.0M235.0 173.8l-0.7 0.7M271.5 180.5l1.1 1.2M205.4 217.9l0.4 1.3M265.9 219.4l-0.5 0.7M278.3 206.1l-0.7 0.6M255.6 207.3l0.0 0.0M233.1 202.7l-0.8 0.6M207.7 166.5l0.7 0.2M225.5 208.3l-0.5 1.3M197.9 182.7l-0.1 0.1M220.8 226.5l0.1 0.2M198.7 195.7l0.3 0.5M262.9 194.8l-1.4 0.7M221.6 187.2l0.0 0.1M205.6 180.0l0.1 0.7M221.4 230.1l-0.1 0.2M225.2 173.1l-1.2 1.0"/>
<path stroke="#7272c4" stroke-opacity="0.75" stroke-width="1.6" d="M257.4 215.4l0.0 0.0M250.4 211.8l-0.3 0.3M269.8 201.8l-0.2 0.0M235.4 199.4l0.1 0.1M241.0 200.6l0.5 0.2M226.9 169.2l-0.6 0.3M211.2 180.5l-0.2 0.1M221.0 201.4l0.1 0.4M260.9 222.3l0.6 0.4M257.0 182.8l0.5 0.3M216.5 199.3l-0.3 0.5M252.4 202.8l0.3 0.0M219.5 199.2l-0.4 0.1M257.0 228.4l0.4 0.4M251.8 192.7l0.0 0.1M243.9 198.2l-0.2 0.6M252.4 201.5l0.5 0.5M226.2 195.3l0.4 0.4M238.5 213.3l-0.0 0.4M246.8 169.6l0.2 0.4M273.9 184.4l0.4 0.2M270.0 222.7l-0.1 0.7M207.3 230.6l0.8 0.1M267.8 194.4l-0.0 0.6M256.7 175.6l0.6 0.0M241.5 224.4l0.0 0.1M225.2 201.4l-0.2 0.0M216.2 218.9l-0.0 0.2M250.4 181.3l0.6 0.3M223.1 175.5l0.3 0.3M219.7 172.6l0.2 0.3M224.0 229.3l-0.1 0.1M240.7 172.6l-0.4 0.1M209.4 188.6l-0.1 0.1M202.7 173.7l-0.0 0.0M271.9 225.2l0.4 0.1M236.5 201.9l0.1 0.0M269.3 218.7l-0.2 0.1M250.5 221.8l0.2 0.6"/>
<path stroke="#7272c4" stroke-opacity="0.75" stroke-width="2" d="M202.2 221.4l-0.1 0.5M221.4 206.8l0.3 0.6M260.3 227.8l-0.2 0.0M260.0 174.8l-0.8 0.4M231.9 168.5l0.0 0.0M245.8 184.2l0.0 0.1M194.8 225.0l0.2 0.5M259.3 185.9l-0.1 0.2M234.1 176.2l0.2 0.5M268.4 208.7l-0.1 0.2M275.3 223.4l-0.6 0.4M227.1 215.6l0.2 0.0M212.8 213.8l-0.1 0.5M225.0 221.9l-0.2 0.4M237.7 206.6l-0.0 0.1M261.7 184.1l-0.7 0.0M274.3 225.2l-0.4 0.0M202.3 170.7l0.3 0.5M228.2 168.0l-0.1 0.0M226.2 220.4l-0.3 0.2M234.4 195.8l-0.7 0.0M278.2 180.4l0.8 0.2M243.8 186.6l0.2 0.1M265.5 189.1l-0.4 0.3M258.9 211.2l-0.3 0.4M234.8 224.6l-0.1 0.5M214.4 184.3l0.1 0.2M220.0 201.0l-0.7 0.1M272.3 208.6l0.0 0.2M272.6 215.5l-0.4 0.6M224.5 177.0l-0.5 0.5M278.1 230.6l0.2 0.1M261.8 189.4l-0.2 0.3M230.8 202.5l0.7 0.2M210.2 168.4l-0.2 0.8M232.6 177.8l0.2 0.1M232.2 192.0l-0.9 0.2M230.2 177.0l0.5 0.5M217.7 199.7l0.0 0.0M227.1 212.6l0.0 0.0M211.3 215.9l0.5 0.7M210.5 167.4l-0.4 0.3M256.7 212.6l0.2 0.8M226.6 198.4l0.2 0.7M231.0 221.0l0.4 0.3M265.8 188.0l0.7 0.2M195.3 194.0l0.0 0.1M262.2 210.3l0.0 0.3M211.5 167.0l0.2 0.2M262.9 214.8l-0.0 0.0M211.4 214.8l-0.1 0.6M256.2 183.7l0.0 0.8M243.8 211.3l0.1 0.4M226.8 195.9l-0.2 0.0M243.3 219.8l-0.0 0.0M215.7 184.9l-0.1 0.0M239.4 214.2l-0.6 0.2M215.0 228.7l-0.6 0.1M235.1 227.1l-0.4 0.1M199.5 219.1l0.3 0.7M216.3 200.8l0.3 0.0M232.3 219.6l0.1 0.0M231.8 216.8l-0.3 0.1M204.2 213.3l-0.3 0.8M231.2 217.2l-0.1 0.4M216.3 173.8l-0.4 0.6M244.8 207.2l0.2 0.6M201.3 222.4l-0.4 0.2M266.4 222.2l-0.1 0.0M221.2 222.6l-0.1 0.4M202.9 221.9l-0.1 0.3M245.7 224.8l0.6 0.5M250.0 174.9l0.5 0.1M244.1 189.2l-0.3 0.3M261.3 185.1l0.3 0.7M254.2 210.9l0.2 0.2M219.1 200.2l-0.1 0.1M254.9 184.2l0.2 0.0M219.4 190.1l0.0 0.0M201.2 213.4l-0.4 0.7M272.2 219.4l-0.3 0.7M268.2 225.5l-0.3 0.1M276.8 166.7l-0.2 0.6M239.7 194.9l-0.1 0.0M223.7 197.5l-0.4 0.3M215.3 170.4l0.1 0.4M214.9 188.9l-0.0 0.2M235.3 193.6l0.7 0.6M235.9 174.9l0.3 0.2M236.9 189.4l-0.7 0.2M255.1 209.3l0.0 0.1M222.7 230.5l-0.3 0.6M262.7 204.4l0.5 0.0"/>
<path stroke="#7272c4" stroke-opacity="0.75" stroke-width="2.4" d="M256.9 187.1l-0.0 0.0M246.5 187.0l0.7 0.5M277.7 174.4l0.7 0.8M262.3 185.4l0.1 0.6M205.3 208.9l0.3 0.0M281.0 219.7l-0.8 0.2M201.6 226.8l-0.6 0.4M245.8 221.0l0.5 0.7M270.0 227.7l0.0 0.0M260.3 222.7l-0.1 0.6M264.8 204.2l-0.7 0.4M267.1 184.6l-0.3 1.1M195.7 178.5l-0.4 0.1M256.0 220.3l-0.0 0.0M218.8 199.5l-0.6 0.8M205.9 183.8l-0.2 0.1M217.7 211.2l-0.0 0.3M249.4 183.8l-0.6 0.1M219.3 177.4l0.0 0.6M273.6 179.3l0.4 0.3M220.8 199.4l0.4 0.8M206.2 183.9l0.0 0.1M245.2 191.3l0.6 0.7M260.6 215.3l-0.1 0.6M247.0 178.3l-0.0 0.1M273.5 197.1l-0.0 0.0M275.7 190.5l-0.5 0.6M229.1 178.5l0.3 0.7M252.9 170.6l-1.0 0.1M204.6 211.4l-0.1 0.2M226.7 183.1l0.5 0.5M209.8 198.6l-0.3 0.7M222.1 202.5l0.1 0.8M249.7 227.3l0.3 0.2M241.2 181.2l0.0 0.1M275.8 201.0l-0.6 0.7M216.9 184.6l0.6 0.5M207.8 204.1l0.0 0.1M263.4 196.0l-0.3 0.0M275.3 198.5l0.8 0.3M203.2 219.2l0.5 0.0M196.9 218.4l-0.2 0.3M265.2 166.5l-1.0 0.4M271.3 195.0l-0.1 0.1M215.1 184.9l0.2 0.4M214.8 177.4l0.4 0.6M216.6 166.9l0.7 0.3M215.6 215.4l-0.2 0.0M217.1 172.5l0.7 0.7M241.7 224.2l0.3 0.2M197.1 224.4l-0.1 0.2M201.8 203.5l0.0 0.0M226.4 180.2l0.0 0.0M195.5 193.2l0.4 0.9M210.7 193.4l-0.2 1.0M196.3 227.1l-0.1 0.3M198.2 220.0l0.2 0.7M201.7 197.0l-0.5 0.3M198.5 230.6l-0.2 0.2M227.7 187.1l0.6 0.8M201.0 182.8l0.4 0.0M267.9 220.3l0.4 1.0M264.8 198.5l-0.1 0.2M241.9 217.1l-0.0 0.2M224.3 224.5l0.1 0.4M258.7 199.5l-0.1 0.3M235.2 212.6l0.0 0.1M248.0 181.3l-0.4 0.0M256.6 211.9l0.3 0.9M242.3 228.5l-0.4 0.3M274.4 218.2l0.1 0.0M226.7 193.4l0.2 0.4M204.8 172.2l0.4 0.0M247.3 183.8l0.5 0.8M215.6 215.3l-0.3 0.2M208.5 169.4l-0.3 0.1M246.8 192.3l0.2 0.2M201.5 196.0l-0.0 0.0M217.8 215.2l-0.8 0.7M202.1 209.1l0.2 0.2M268.7 175.6l0.2 0.5M267.6 211.2l0.6 0.4M222.7 191.0l0.2 0.9M230.9 171.5l-0.1 0.0M214.5 215.4l-0.5 0.1M278.4 186.2l0.7 0.4M262.9 168.2l-0.4 0.9M201.6 195.1l0.1 0.2M276.0 223.1l-0.5 0.5M233.2 182.0l-1.0 0.4"/>
<path stroke="#7272c4" stroke-opacity="0.75" stroke-width="2.8" d="M203.0 183.1l-0.9 0.3M239.4 204.9l0.1 0.1M204.8 205.3l-0.1 0.2M229.8 178.0l-0.1 0.9M272.9 172.8l-0.5 0.0M264.0 211.7l-0.3 0.9M224.2 196.8l-0.6 0.5M198.9 195.6l0.4 1.0M202.4 170.2l0.1 0.6M203.6 223.9l-0.8 0.2M195.0 192.6l-0.1 0.2M233.3 211.3l0.9 0.8M245.6 218.3l-0.2 0.1M273.3 215.3l0.4 0.9M272.7 206.0l0.0 0.6M216.9 170.1l0.3 0.1M274.4 197.0l0.2 0.2M254.1 195.3l-0.7 0.4M249.8 230.4l0.2 0.1M212.8 173.8l0.0 0.6M269.4 221.3l0.8 0.5M260.8 223.9l0.9 0.2M218.3 213.3l-0.5 0.2M203.6 217.3l0.2 0.7M254.3 174.8l0.3 0.2M212.7 209.0l0.7 0.4M219.8 181.4l0.1 0.1M201.5 178.4l0.1 0.4M223.4 170.3l0.0 0.0M221.6 227.8l0.3 0.2M214.3 209.4l-0.2 0.1M221.8 173.1l0.0 0.8M267.4 208.5l-1.0 0.5M275.9 205.5l0.0 0.4M214.2 178.3l0.4 1.0M195.9 171.5l-0.6 0.0M232.7 175.2l-0.4 0.4M221.4 218.8l0.6 1.0"/>
</g></g>
<line x1="265.8" y1="224.2" x2="273.8" y2="224.2" stroke="#111" stroke-width="1.4"/>
<clipPath id="c4"><rect x="196.7" y="234.5" width="82.6" height="61"/></clipPath>
<g clip-path="url(#c4)"><g filter="url(#bl)" stroke-linecap="round" fill="none">
<rect x="194.7" y="232.5" width="86.6" height="65" fill="#bcb99e"/>
<path stroke="#c8904c" stroke-opacity="0.75" stroke-width="2" d="M241.1 250.5l0.1 0.1M221.1 285.3l-0.0 0.0M211.4 259.1l0.4 0.5M215.0 254.0l0.4 0.1M195.4 235.1l0.3 0.7M199.6 235.9l0.6 0.3M215.5 259.1l0.3 0.2M198.8 290.6l-0.4 0.8M274.6 246.7l0.7 0.0M242.2 289.3l0.3 0.6M267.2 286.1l0.2 0.4M209.2 289.3l0.0 0.1M226.0 275.5l0.1 0.0M225.2 272.8l-0.3 0.1M230.5 233.1l-0.3 0.4M271.9 283.0l0.1 0.2M197.5 253.1l-0.1 0.0M236.3 236.6l0.6 0.6M197.8 263.5l-0.3 0.1M219.2 291.8l0.7 0.2M280.2 243.3l-0.2 0.0M234.3 296.8l-0.2 0.1M197.0 282.3l0.2 0.0M280.9 243.6l-0.9 0.1M254.2 295.8l-0.5 0.6M252.5 287.3l0.2 0.1M267.3 281.8l0.1 0.1M215.2 269.5l0.3 0.5M279.8 246.3l-0.1 0.1M257.0 257.9l0.0 0.3M225.5 261.5l-0.0 0.0M258.1 259.6l-0.0 0.3M232.5 284.5l0.0 0.0M246.4 296.4l-0.2 0.6M235.7 288.6l0.3 0.4"/>
<path stroke="#c8904c" stroke-opacity="0.75" stroke-width="2.4" d="M215.1 239.2l0.2 0.0M225.8 281.0l-0.6 0.2M203.6 236.1l-0.3 0.7M232.9 240.9l0.5 0.9M197.8 264.2l0.9 0.4M240.5 282.2l0.1 1.1M215.3 245.8l0.8 0.4M263.1 252.7l-0.5 0.1M262.9 272.3l-0.1 0.1M210.1 275.0l0.3 0.0M221.9 247.5l-0.7 0.0M272.3 258.2l0.6 0.7M221.9 238.4l-0.2 0.1M198.1 273.2l-0.4 0.8M259.6 285.3l-0.1 0.4M204.7 295.4l-0.3 0.5M219.1 260.6l0.6 0.3"/>
<path stroke="#c8904c" stroke-opacity="0.75" stroke-width="2.8" d="M221.2 291.3l-1.0 0.5M238.5 259.3l0.5 0.3M219.2 267.2l-0.4 0.0M271.7 286.5l0.0 0.0M199.0 292.2l0.4 1.2M200.2 243.1l-0.5 0.5M271.6 282.8l0.6 0.1M197.8 270.7l-0.3 1.0M203.0 239.4l-0.0 1.2M221.7 267.5l0.0 0.9M277.3 242.5l-0.1 0.6M252.9 280.5l0.6 0.9M275.4 258.4l-0.7 0.9M277.7 249.5l0.2 0.1M257.5 268.4l-0.2 0.1M268.1 286.6l-0.1 0.1M273.8 251.8l-0.4 1.1M221.5 290.6l-0.4 0.2M256.2 264.6l0.5 0.5M267.8 273.0l-0.0 0.0M259.9 258.5l0.6 0.9M248.4 249.1l0.0 0.0M252.6 290.3l0.1 0.1M236.3 267.8l-0.3 0.3M258.0 293.5l0.0 0.0M247.5 271.5l0.9 0.1M225.2 276.3l-1.2 0.2M216.9 254.0l0.3 0.6M269.5 245.3l-0.1 0.1M262.5 271.8l0.3 0.1"/>
<path stroke="#c8904c" stroke-opacity="0.75" stroke-width="3.2" d="M229.1 291.8l0.9 0.7M274.5 286.0l1.0 0.7M222.1 273.0l-1.1 0.4M201.9 271.7l0.6 0.4M276.2 272.7l0.4 0.2M272.7 274.5l0.0 1.1M203.4 246.0l-1.3 0.3M224.2 274.9l-0.8 0.5M240.6 275.0l-0.4 0.1M271.1 239.8l-1.1 0.4M206.3 256.1l0.7 0.0M232.3 288.2l-0.1 0.0M211.9 252.0l-0.5 0.4M201.5 248.3l-0.4 0.4M279.8 272.9l0.5 0.7M196.9 293.9l-1.0 0.7M276.9 242.6l-0.1 1.0M220.0 289.9l-0.5 0.9M277.4 289.3l-0.4 0.6M228.5 276.6l0.2 0.5M231.4 234.3l-0.0 0.0M207.4 242.3l0.9 0.8M242.7 263.4l-0.2 0.1M272.2 290.2l-0.6 0.8M212.5 236.6l-0.8 1.1M204.4 296.1l0.8 0.0M220.5 276.9l0.2 1.0M209.4 233.1l0.9 1.1M273.3 237.3l-0.2 0.2M199.2 285.8l-0.1 0.0M254.5 294.7l0.1 0.4"/>
<path stroke="#c8904c" stroke-opacity="0.75" stroke-width="3.6" d="M235.8 237.6l-0.2 1.3M255.7 290.7l-1.2 0.1M196.1 250.7l0.3 1.2M219.6 238.6l0.5 0.4M277.9 236.7l-0.8 1.3M223.5 267.7l1.1 0.0M274.0 262.8l-0.4 0.2M264.8 243.8l-0.1 0.6M276.0 281.8l-0.1 0.2M247.5 255.9l0.9 0.5M200.8 295.1l-0.5 1.4M280.7 277.7l0.5 1.4M246.8 266.7l0.5 0.1M198.2 259.0l-1.1 0.5M222.6 253.4l0.4 0.9M226.1 278.4l0.1 0.3M271.8 263.6l0.7 0.5"/>
<path stroke="#a85e24" stroke-opacity="0.9" stroke-width="1.6" d="M274.6 297.4l0.0 0.0M239.7 259.8l-0.3 0.4M232.3 241.0l0.3 0.5M257.8 251.3l0.6 0.2M228.2 246.2l0.2 0.1M205.6 288.6l-0.4 0.3M251.0 243.8l-0.6 0.3M223.9 273.7l0.2 0.1M250.2 249.9l-0.1 0.3M236.9 249.2l-0.4 0.4M197.6 276.1l0.6 0.4M261.4 240.5l0.1 0.5M216.8 257.4l0.1 0.5M218.8 290.8l-0.2 0.2M276.1 245.5l0.3 0.2M256.0 274.5l-0.4 0.1M242.9 283.5l-0.0 0.3M269.9 295.0l0.0 0.3M265.1 242.5l0.5 0.5M265.8 233.1l-0.1 0.0M237.0 243.7l-0.0 0.0M277.8 240.2l0.1 0.1M220.0 246.1l-0.1 0.4M256.9 258.5l-0.6 0.2"/>
<path stroke="#a85e24" stroke-opacity="0.9" stroke-width="2" d="M200.8 294.3l-0.1 0.6M231.5 251.9l-0.1 0.7M223.4 252.1l0.2 0.2M212.9 263.8l-0.2 0.3M243.1 295.7l-0.2 0.3M274.8 251.0l-0.0 0.0M249.2 276.1l0.0 0.2M235.3 280.7l0.1 0.1M258.8 275.8l0.5 0.3M211.5 284.2l0.0 0.0M204.2 241.8l-0.3 0.2M240.1 287.9l0.4 0.4M241.5 237.1l0.0 0.1M203.1 266.7l-0.6 0.5M208.3 265.4l0.3 0.2M252.8 251.9l-0.2 0.3M226.9 254.9l0.2 0.5M274.7 261.3l0.7 0.2M256.7 292.8l0.0 0.0M239.3 250.9l-0.1 0.2M240.8 281.5l-0.1 0.3M227.1 287.5l-0.1 0.2M216.8 271.7l0.1 0.3M224.8 255.8l-0.1 0.5M205.8 234.3l0.3 0.3M225.0 278.6l0.7 0.6M207.3 269.5l-0.0 0.2M209.0 284.1l-0.2 0.2M220.4 255.5l0.0 0.2M237.0 285.1l0.8 0.1M231.8 243.0l-0.3 0.3M272.4 234.2l0.3 0.5M276.4 260.5l-0.3 0.3M247.0 246.6l0.4 0.3M214.5 237.2l0.6 0.6M201.7 280.0l0.2 0.1M203.7 261.2l-0.5 0.8M203.0 278.5l-0.3 0.7M239.0 263.2l-0.2 0.9M262.1 279.3l0.3 0.2"/>
<path stroke="#a85e24" stroke-opacity="0.9" stroke-width="2.4" d="M231.9 237.3l0.6 0.7M248.9 265.6l0.8 0.2M224.1 250.4l-0.1 0.1M241.1 248.5l0.0 0.2M250.8 267.7l0.5 0.4M215.9 295.2l0.0 0.2M252.2 290.1l0.9 0.3M270.8 255.5l-0.4 0.2M218.0 279.1l-0.7 0.1M265.3 287.0l0.3 0.1M263.7 236.6l0.2 0.0M225.3 269.7l-0.8 0.2M212.4 248.6l0.4 0.1M266.5 278.1l-0.8 0.2M241.9 274.8l-0.2 0.1M211.1 285.2l-0.3 0.1M195.2 258.3l0.0 0.2M212.7 279.8l0.5 0.2M209.5 255.8l0.1 0.9M273.1 292.2l-0.5 0.1M202.2 256.5l-0.2 0.6M222.4 273.2l0.0 0.2M266.2 234.6l-0.2 0.2M261.3 241.9l-0.5 0.4M217.7 239.1l-0.1 0.0M251.4 265.2l-0.4 0.2M276.2 237.5l0.4 0.2M234.8 261.0l0.5 0.2M242.8 287.2l-0.0 0.6M253.2 270.1l-0.3 0.1M215.7 280.8l0.2 0.1M219.1 288.8l0.9 0.2M258.3 245.0l-0.5 0.0M207.9 273.5l-0.2 0.5M225.0 275.3l-0.4 0.5M213.0 279.0l-0.2 0.2M205.6 286.4l0.3 0.1M217.5 241.0l0.7 0.5M234.2 268.7l0.8 0.7M214.9 265.5l0.8 0.4M262.8 289.5l0.1 0.0M252.1 276.5l0.6 0.5M254.3 283.2l-0.7 0.1M267.9 297.2l-0.7 0.0M263.5 289.0l-0.1 0.1M279.8 240.4l0.5 0.8M213.1 268.7l0.5 0.5M234.0 278.1l0.4 0.0"/>
<path stroke="#a85e24" stroke-opacity="0.9" stroke-width="2.8" d="M194.4 266.8l1.1 0.3M268.1 294.6l-0.3 0.1M277.5 276.4l0.2 1.2M222.2 288.5l-0.4 0.2M269.5 232.5l0.5 0.4M194.7 255.8l0.0 0.7M275.6 260.6l0.5 0.1M233.9 280.0l0.6 0.9M225.3 265.4l-0.9 0.3M220.7 235.2l0.9 0.5M199.9 260.9l0.6 0.5M269.2 253.9l0.4 1.0M268.7 273.6l-0.7 0.9M271.4 254.8l-0.2 0.0M278.0 243.2l0.4 0.0M223.5 291.6l-0.8 0.5M200.2 276.1l-0.0 0.0M230.3 284.7l-0.7 0.2M265.8 289.4l-0.2 0.2M233.2 265.8l-0.6 0.8M220.1 275.3l0.4 1.0M271.6 283.5l0.8 0.8M251.5 259.0l-0.0 0.2M220.7 273.2l-0.2 0.8M263.8 242.1l-0.6 0.9M274.6 286.0l-0.0 0.1M220.2 260.7l0.7 0.5M209.0 236.9l1.0 0.3M270.7 243.4l-0.2 0.4M246.2 294.9l0.1 0.0M280.4 275.3l0.5 1.0M257.1 275.4l0.0 0.1M217.8 251.7l-0.6 0.4M233.5 273.2l-0.6 0.2M220.9 281.8l1.3 0.3M206.0 283.7l-0.9 0.9M217.2 257.9l0.1 0.2M200.6 248.8l-0.2 0.8M266.1 273.2l-0.7 0.6M210.1 297.0l0.1 0.8M195.9 246.8l-0.1 0.3M231.8 281.4l-0.2 0.5M228.4 256.8l0.8 0.9M202.7 256.4l1.3 0.2M276.7 290.7l0.2 0.6M228.8 294.0l-0.5 0.8M226.1 260.1l-0.1 0.2M214.2 289.1l0.4 0.8M245.2 256.6l0.0 1.2M265.8 265.5l-0.4 0.2M264.6 247.6l-0.0 0.0M272.3 270.6l0.1 0.6M276.7 293.2l-0.8 0.3M223.0 253.0l-0.6 0.6M240.6 253.1l0.2 0.1M244.7 263.7l-0.0 0.0"/>
<path stroke="#a85e24" stroke-opacity="0.9" stroke-width="3.2" d="M210.0 238.7l0.0 0.0M199.7 232.6l-0.4 0.5M274.8 289.3l-0.7 0.9M232.5 278.8l-0.3 0.7M262.1 283.5l-0.9 1.0M270.5 250.8l1.0 0.5M262.0 292.8l0.3 0.9M206.2 262.7l-0.7 0.8M218.9 280.9l0.0 0.0M237.9 296.3l0.0 0.0M240.0 261.6l-0.2 0.1M246.5 296.6l0.1 0.6M275.5 246.9l-0.3 0.6M206.5 241.4l-0.0 0.1M235.6 242.2l-0.7 0.0M230.7 256.1l0.7 0.7M223.2 287.0l0.5 0.2M279.6 246.6l-0.5 0.9M265.0 256.1l-0.2 0.9M223.7 263.1l0.2 0.8M279.6 280.2l-1.1 0.1M226.6 265.5l-0.4 0.6"/>
<path stroke="#5048b0" stroke-opacity="0.9" stroke-width="1.6" d="M219.0 264.7l-0.0 0.3M277.0 244.9l-0.7 0.2M267.8 277.0l0.2 0.2M235.3 257.3l-0.1 0.2M278.7 267.3l0.3 0.3M268.0 283.1l-0.1 0.1M201.2 280.5l0.1 0.6M234.6 269.9l0.1 0.6M227.4 273.3l0.1 0.2M200.0 287.6l-0.1 0.7M264.4 259.2l-0.4 0.2M227.2 273.3l-0.8 0.1M260.3 279.5l0.5 0.0M241.4 297.2l-0.4 0.1M255.0 257.3l0.5 0.4M244.7 239.7l-0.1 0.4M276.9 252.1l0.5 0.3M226.9 260.4l-0.2 0.3M207.3 268.1l0.3 0.1M261.4 266.1l0.2 0.7M208.0 254.1l0.6 0.3M239.4 258.7l0.2 0.2M245.2 272.2l0.0 0.6M272.1 260.7l0.1 0.4M194.8 252.1l0.2 0.3M246.0 240.0l0.5 0.0M211.0 275.9l-0.7 0.0M212.7 280.5l-0.3 0.3M255.8 280.1l-0.0 0.1"/>
<path stroke="#5048b0" stroke-opacity="0.9" stroke-width="2" d="M232.0 248.2l0.3 0.1M270.1 294.6l-0.1 0.1M210.5 250.8l-0.7 0.3M208.0 283.3l-0.2 0.5M247.1 249.3l-0.0 0.2M238.3 252.7l0.0 0.1M223.6 259.5l0.1 0.0M210.7 280.8l-0.5 0.0M229.9 297.4l0.3 0.1M200.1 237.4l0.5 0.0M203.8 275.8l-0.0 0.0M222.6 244.1l-0.2 0.2M266.2 282.9l-0.3 0.1M213.5 263.3l0.1 0.3M232.5 254.2l-0.1 0.7M236.5 288.4l-0.1 0.4M201.1 235.7l-0.0 0.2M266.2 268.6l-0.3 0.1M205.7 250.2l-0.4 0.3M268.7 241.1l-0.3 0.8M272.9 247.2l-0.4 0.3M239.3 237.2l-0.7 0.3M209.1 264.4l0.0 0.5M202.6 285.2l-0.1 0.2M257.4 235.7l-0.2 0.4M277.1 285.6l0.4 0.1M257.8 265.0l0.0 0.0M246.7 242.0l0.7 0.2M262.9 270.3l0.3 0.3M251.5 287.5l-0.7 0.3M256.4 248.1l0.3 0.6M262.2 244.5l-0.5 0.4M257.6 280.2l0.7 0.1M194.6 294.5l0.2 0.5M261.6 288.8l-0.4 0.1M201.1 296.7l0.2 0.4M199.0 247.7l0.0 0.0M213.8 273.3l0.6 0.5M253.3 238.4l0.6 0.3M229.6 277.9l-0.0 0.3M276.6 235.5l0.0 0.0M225.3 253.3l-0.2 0.1M228.0 282.6l0.1 1.0M224.3 238.1l-0.3 0.3M245.1 289.0l0.4 0.1M259.3 253.1l-0.1 0.6M280.3 263.6l-0.4 0.3M213.9 273.9l0.3 0.1M270.0 289.5l-0.2 0.2M214.7 248.4l-0.5 0.5M247.8 236.6l0.3 0.2M272.9 232.5l-0.4 0.7M214.6 277.6l-0.3 0.7M259.7 284.9l-0.9 0.1M257.0 278.6l0.4 0.3M231.6 290.9l0.2 0.4"/>
<path stroke="#5048b0" stroke-opacity="0.9" stroke-width="2.4" d="M244.0 237.7l0.1 0.6M258.5 275.7l0.8 0.4M198.8 270.1l0.3 0.1M229.2 244.1l0.3 0.6M243.5 293.2l0.6 0.1M238.6 269.0l-0.3 0.1M272.5 267.0l0.0 0.0M246.1 271.2l-0.8 0.0M207.7 258.7l0.6 0.5M224.0 246.1l-0.1 0.5M261.5 253.2l0.4 0.0M258.3 261.7l0.3 0.2M267.4 246.6l0.7 0.5M264.8 248.0l-0.1 0.5M222.7 240.8l-0.0 0.0M255.6 260.2l0.0 0.1M232.9 234.9l-0.7 0.8M278.1 238.5l0.1 0.6M265.3 262.8l0.2 0.6M238.6 292.6l-0.3 0.1M209.7 278.1l0.0 0.0M209.4 286.4l0.4 0.8M241.3 237.9l0.7 0.3M271.2 274.8l-0.1 0.0M238.9 289.8l-0.2 0.3M279.1 244.0l-0.2 0.9M214.8 244.5l0.6 0.2M203.7 252.3l0.3 0.4M215.9 270.7l0.1 0.4M255.2 256.2l0.0 0.0M199.4 279.4l0.7 0.2M225.2 286.6l0.9 0.1M249.8 265.2l0.5 0.4M273.4 292.0l0.0 0.2M222.5 276.8l-0.2 1.1M224.2 292.5l-0.3 0.2M234.8 255.7l-0.0 0.7M255.0 267.7l0.1 0.1M273.1 266.7l-0.3 0.0M196.9 265.3l-0.5 0.1M257.7 254.4l-0.5 0.2M271.3 236.2l0.2 1.0M217.2 280.8l-0.3 0.1M267.2 236.7l0.2 0.2M209.4 257.8l0.5 0.5"/>
<path stroke="#5048b0" stroke-opacity="0.9" stroke-width="2.8" d="M237.7 265.8l0.1 0.5M234.8 283.1l0.1 0.1M220.2 275.1l0.2 0.2M272.6 257.6l-0.8 0.7M240.7 269.1l-0.3 0.0M255.6 279.2l1.1 0.5M263.7 255.8l-0.2 1.2M202.6 257.6l-0.3 0.8M243.7 249.7l0.7 0.0M195.7 274.2l0.6 0.2M194.9 254.4l1.0 0.4M253.0 255.0l0.9 0.5M257.9 294.0l0.1 0.4M268.9 292.1l0.1 1.1M268.3 266.2l0.5 0.2M257.5 280.4l0.9 0.5M249.0 260.0l-0.1 0.5M225.7 266.4l-0.4 0.6M212.7 233.7l-0.6 0.8M262.0 234.7l1.1 0.1"/>
</g></g>
<line x1="265.8" y1="290.1" x2="273.8" y2="290.1" stroke="#111" stroke-width="1.4"/>
<clipPath id="c5"><rect x="285" y="168.3" width="82.6" height="61.3"/></clipPath>
<g clip-path="url(#c5)"><g filter="url(#bl)" stroke-linecap="round" fill="none">
<rect x="283" y="166.3" width="86.6" height="65.3" fill="#b49ea0"/>
<path stroke="#7a6cbe" stroke-opacity="0.9" stroke-width="2" d="M324.2 212.3l0.9 0.1M347.8 221.1l0.3 0.7M333.2 166.9l-0.2 0.0M351.6 222.3l0.8 0.2M307.0 192.7l0.3 0.8M286.0 206.1l0.3 0.5M347.5 204.8l0.0 0.2M308.9 220.2l-0.5 0.6M333.8 219.3l-0.2 0.1M351.9 209.6l-0.7 0.0M369.2 211.8l0.6 0.5M336.7 169.1l0.4 0.1M317.2 172.6l0.2 0.0M303.2 197.4l0.3 0.8M297.0 179.4l0.2 0.1M318.3 186.3l-0.0 0.0M357.2 180.1l0.0 0.5M332.6 182.3l0.7 0.1M316.1 174.7l0.1 0.1M341.6 184.6l-0.1 0.7M364.4 218.2l-0.3 0.1M286.6 177.3l-0.7 0.2M328.2 184.8l0.0 0.1M307.0 212.8l-0.4 0.6M355.7 197.4l0.2 0.1M366.6 227.7l-0.5 0.6M289.6 184.0l-0.5 0.0M338.9 207.8l-0.0 0.0M297.8 196.1l-0.3 0.1M360.0 179.1l-0.8 0.1M343.7 171.9l0.2 0.6M324.6 212.0l0.2 0.7M297.6 227.0l-0.3 0.3M300.9 195.9l0.0 0.1M331.6 166.5l0.0 0.8M288.5 210.9l0.0 0.1M290.7 189.1l-0.2 0.4M338.3 228.4l0.4 0.7M318.4 187.8l-0.0 0.0M318.4 223.0l0.2 0.2M318.9 180.9l0.3 0.4M291.6 216.4l0.5 0.1M328.8 175.0l0.1 0.9M329.5 197.5l-0.2 0.0M368.5 179.4l0.3 0.1M312.8 227.9l0.3 0.2M341.8 196.1l0.4 0.7M348.4 225.4l-0.0 0.1M307.5 209.1l0.4 0.2M356.9 197.8l-0.1 0.0M364.3 209.6l-0.3 0.2M311.5 182.9l-0.0 0.0"/>
<path stroke="#7a6cbe" stroke-opacity="0.9" stroke-width="2.4" d="M332.8 167.1l-0.3 0.1M368.1 222.7l-0.1 1.1M360.3 185.8l0.2 0.1M330.1 186.7l0.2 0.0M296.2 221.5l-0.5 0.0M314.7 212.1l-0.4 0.4M284.0 201.7l0.1 0.7M347.3 220.2l-0.9 0.4M345.4 213.6l-0.2 0.8M345.5 167.9l-0.2 0.4M302.5 169.8l0.3 0.2M338.7 190.1l-0.1 0.6M350.8 182.3l-0.2 0.0M365.5 210.8l-0.1 0.0M340.5 219.6l0.3 0.6M296.6 176.6l-0.4 0.2M296.1 182.8l0.1 0.1M293.5 209.7l-0.5 0.6M317.7 229.7l0.0 0.4M294.2 171.6l0.0 0.1M300.3 184.9l0.0 0.1M285.5 169.5l-0.3 0.2M365.1 206.1l0.2 0.4M291.2 200.6l0.1 0.7M300.1 202.7l0.6 0.6M336.5 192.1l0.0 0.8M300.6 218.2l-0.7 0.3M329.7 218.2l-0.4 0.6M315.3 224.1l0.2 0.2M337.1 224.7l-0.5 0.4M288.7 179.6l-0.3 0.5M293.2 204.9l0.0 0.8M362.7 191.0l-0.3 0.5M351.5 203.8l-0.3 0.2M306.1 196.8l0.7 0.3M335.3 175.1l-1.0 0.2M315.6 216.9l-0.5 0.0M286.3 191.5l0.0 0.0M354.9 175.0l-0.1 0.6M295.6 229.4l-0.2 0.2M337.4 181.9l0.2 0.9M360.7 177.8l-0.0 0.0M335.5 206.1l0.9 0.3M296.0 180.1l0.8 0.6M339.5 177.5l-0.3 0.4M367.5 194.2l-0.5 0.1M369.4 175.0l0.0 0.1M336.3 222.2l0.7 0.2M333.3 182.7l-0.0 0.0M293.7 215.9l-0.3 0.6M355.5 210.0l-0.0 0.8M338.8 181.2l-0.0 0.0M342.0 170.1l0.8 0.4M315.0 172.1l0.0 0.0M360.4 211.1l0.1 0.4M344.7 195.1l0.2 0.2M342.3 216.4l-0.5 0.3M307.7 166.7l0.4 0.1M363.1 171.5l0.0 0.0M321.3 219.9l-0.3 0.2M289.2 201.0l-0.2 0.7M359.2 185.9l-0.2 0.7M336.5 221.4l0.3 0.4M311.9 206.2l0.9 0.1M368.4 217.7l0.5 0.0M355.3 217.3l0.1 0.1M347.3 204.8l0.2 0.4M283.8 204.5l0.0 0.0M342.9 171.2l-0.1 0.5M291.3 214.5l-0.0 0.5M326.6 209.2l0.3 0.7M344.6 212.0l-0.2 0.6M288.3 215.3l-0.0 0.5M332.5 231.0l-0.8 0.1M287.0 228.9l0.6 0.1M299.6 226.9l-0.3 0.2M311.5 183.2l0.0 0.0M328.0 183.7l0.7 0.3M312.0 181.4l0.4 0.3M334.4 179.9l-0.0 0.1M312.8 177.2l0.2 0.5M320.0 179.0l0.1 0.0M365.3 228.2l0.3 0.4M351.1 198.4l-0.9 0.2M286.9 196.0l0.3 0.6M299.8 193.5l-0.0 0.0M302.1 230.6l-0.3 0.5M331.6 209.1l0.1 0.0"/>
<path stroke="#7a6cbe" stroke-opacity="0.9" stroke-width="2.8" d="M363.1 167.7l-0.5 1.0M361.0 173.5l-0.0 0.3M288.6 186.0l-0.0 0.0M368.5 201.0l-0.1 0.3M354.6 196.0l-0.1 0.0M357.0 229.8l-0.4 0.4M324.5 185.2l0.1 0.2M340.9 193.3l-0.4 1.0M299.8 168.4l-0.2 0.4M366.1 229.4l-0.4 0.2M282.7 173.2l0.7 0.3M337.3 224.3l0.4 0.3M308.8 229.7l-1.1 0.3M310.6 230.4l0.0 0.4M293.7 206.8l-0.3 0.2M354.8 167.1l-0.3 0.1M308.5 205.6l-0.3 0.8M312.0 185.4l0.3 0.5M362.4 224.3l-0.0 0.0M361.5 191.2l0.8 0.6M324.2 202.1l0.4 0.2M362.3 175.9l0.5 0.3M320.7 186.8l-0.6 0.1M326.5 225.5l0.5 0.6M303.3 187.8l0.2 0.4M357.0 199.8l-0.5 0.6M359.8 206.7l0.5 0.2M330.3 230.9l0.4 0.1M288.6 224.9l1.2 0.2M304.1 169.6l0.0 0.1M298.2 199.4l0.6 0.2M310.4 172.8l-0.4 1.1M310.5 214.9l-0.5 1.0M349.0 203.4l-0.5 0.9M312.0 166.7l-0.7 0.8M323.4 194.6l-0.9 0.2M329.2 229.6l-0.1 0.1M324.7 223.8l0.2 0.2M337.0 218.6l-0.0 0.0M333.6 178.3l0.4 0.0M309.9 190.9l0.3 0.8M335.5 179.5l0.8 0.8M367.4 201.8l0.0 0.0M303.0 170.2l-1.0 0.4M346.4 193.4l-0.6 0.2M308.6 184.3l1.1 0.7M285.3 173.6l0.7 0.4M291.1 176.2l-0.1 0.1M347.2 171.5l0.2 0.6M308.8 173.8l-0.3 0.3M328.0 169.5l-0.1 0.2M304.4 196.2l0.6 0.1M301.7 229.8l0.6 0.2M317.4 217.0l-0.7 0.2M285.8 178.3l-0.2 0.2M314.5 197.1l0.9 0.9M331.8 183.3l0.9 0.4M358.5 168.8l-0.1 0.1M283.1 215.2l0.1 1.1M368.5 201.6l-0.1 0.3M321.2 226.0l0.4 0.5M347.6 182.6l-0.3 0.9M359.2 175.0l-0.5 0.0M333.2 214.6l0.3 0.5M346.6 190.1l0.2 1.0M320.6 218.7l0.6 0.1M352.1 215.9l-0.4 1.1M345.0 221.9l-0.0 0.0M309.1 213.9l-0.2 0.0M318.7 167.6l-0.5 0.8M314.4 172.4l0.4 0.2M335.0 215.2l0.2 1.0M362.5 205.9l0.1 0.2M291.3 213.9l-0.3 0.2M327.4 196.9l0.1 0.1M327.0 221.3l-0.3 0.5M336.3 192.7l0.0 0.2M312.2 211.3l-1.0 0.5M365.2 227.7l-1.0 0.0M336.5 194.6l0.4 0.5M326.2 184.1l0.0 0.0M361.7 202.4l0.4 0.5M286.1 183.3l0.1 0.0M344.3 213.6l-0.4 1.0M355.8 185.7l-0.4 0.7M310.2 184.2l-0.3 0.7M294.5 195.4l0.2 0.1M363.3 167.6l0.4 0.0M305.9 176.7l1.0 0.3M313.4 211.7l0.0 0.0M307.3 224.6l0.0 0.3M345.4 215.7l0.2 1.1M357.7 175.6l-0.5 0.6M367.1 198.1l-0.2 0.8M303.9 209.3l0.1 1.2M320.7 215.8l0.6 0.9M284.1 186.2l-1.1 0.3M295.8 230.7l0.4 0.1M320.1 200.3l-0.4 0.1M341.1 210.1l0.4 0.2M285.6 174.2l-0.0 0.0M347.2 215.2l-0.4 0.5M308.8 185.7l0.0 0.7M363.9 206.5l-0.6 0.8M307.5 224.2l0.9 0.4M354.8 184.6l0.5 0.8M368.3 198.5l0.2 0.5"/>
<path stroke="#7a6cbe" stroke-opacity="0.9" stroke-width="3.2" d="M337.4 214.2l-0.9 1.0M349.3 176.6l-0.1 0.2M293.8 166.3l0.2 0.2M312.1 186.2l0.4 0.6M313.8 200.5l-0.1 0.1M285.9 198.5l-0.1 0.1M365.2 207.4l0.0 0.2M368.4 228.7l0.3 0.6M290.5 183.5l0.5 1.2M351.4 216.6l-0.7 0.6M353.8 208.3l-0.2 0.5M302.0 211.1l0.0 0.1M333.6 228.7l-0.5 0.3M347.4 173.8l-0.0 0.4M320.0 203.4l0.1 0.9M319.9 184.7l1.2 0.6M338.9 228.4l0.1 0.2M287.4 203.6l1.1 0.5M315.4 169.8l-0.1 0.2M330.4 182.7l0.7 0.3M303.4 190.4l-0.2 0.2M339.7 171.8l0.1 0.0M351.9 168.2l0.1 0.0M294.7 220.0l0.2 1.1M360.0 197.7l0.0 0.0M364.5 211.2l-0.6 0.1M307.4 214.0l0.2 0.2M341.5 227.7l-0.6 0.0M283.2 170.2l0.6 0.1M333.0 190.8l-0.9 0.3M309.5 195.6l0.3 0.1M309.7 171.5l0.7 1.0M365.8 213.7l-0.3 0.2M333.5 215.9l-0.4 0.1M366.3 224.5l-0.8 0.9M316.7 173.1l-0.5 0.6M299.8 204.8l-0.6 0.7M287.9 197.3l0.8 1.2M347.3 219.5l-1.0 0.2M353.0 166.6l0.5 0.0M306.8 228.6l0.7 0.1M318.5 222.8l0.5 1.3M326.7 206.1l-0.0 0.1M347.0 183.0l0.3 0.9M339.2 224.5l-0.0 0.1M355.9 174.0l0.2 0.3M319.1 217.4l0.4 0.1M291.5 207.5l0.9 0.1M366.8 191.0l0.7 0.7M294.1 179.4l1.0 0.3M293.6 209.1l1.1 0.0M364.6 186.2l0.2 1.0M344.6 206.3l0.0 0.2M282.5 217.9l1.2 0.2M356.7 181.4l0.3 0.9M287.9 167.2l0.0 0.2M358.1 210.7l-1.2 0.3M352.1 193.3l-0.8 0.3M350.4 186.4l-0.0 0.2M321.8 170.8l0.2 0.3M342.4 195.8l0.1 0.1M307.6 183.2l0.3 0.7M298.2 195.4l0.1 0.0M294.1 214.9l0.4 0.5M286.1 219.6l0.0 0.3M288.3 177.7l0.7 0.0M309.8 221.4l-0.7 0.8M337.7 222.0l0.4 0.2M302.5 179.4l0.5 0.6M325.0 175.6l0.1 1.0M336.8 205.9l-0.8 1.0M290.6 216.8l-0.6 0.5M366.0 218.7l0.0 0.1M362.3 227.9l-0.4 0.3M329.4 209.4l-0.7 0.9M295.6 186.2l0.6 1.2M304.3 185.3l0.6 0.2M305.9 230.6l-0.9 0.6M324.1 186.2l0.1 0.3M333.1 185.3l-0.1 0.0M355.5 227.3l0.1 0.1M339.8 225.6l0.0 0.0M314.4 194.3l-0.7 1.0"/>
<path stroke="#7a6cbe" stroke-opacity="0.9" stroke-width="3.6" d="M342.2 179.6l-1.1 0.1M299.7 215.0l0.7 1.3M312.8 206.1l-0.5 0.1M295.8 211.3l0.3 0.0M343.0 185.0l-0.3 1.0M342.6 229.6l-0.1 0.8M297.6 220.6l-0.4 0.6M334.1 181.8l0.0 0.0M334.5 182.9l0.2 0.8M334.2 181.6l0.4 0.6M319.3 169.7l-0.0 0.1M314.1 182.2l-1.2 0.6M368.4 219.1l-0.6 0.9M298.7 208.3l-0.5 1.3M356.7 208.3l-0.2 0.3M365.8 207.1l0.2 0.1M329.9 191.5l0.1 0.1M369.6 215.6l-0.2 0.1M319.5 229.6l0.1 0.3M322.0 208.8l-0.1 0.6M344.3 226.9l0.9 1.3M328.8 191.5l-0.1 0.5M321.6 203.7l0.2 0.2M326.0 200.9l-0.4 0.8M305.5 189.5l-0.2 0.4M364.3 217.8l0.7 0.3M292.3 199.0l0.2 1.5M316.3 207.5l-0.4 0.3M325.2 223.2l0.2 0.4M283.2 201.6l0.7 1.1M289.7 208.1l1.0 0.1M290.6 186.0l0.4 0.1M337.3 173.4l-0.4 0.4M297.8 193.0l0.4 0.5M333.0 198.7l0.7 1.0M293.4 178.7l0.4 0.4M289.2 173.3l-1.2 0.3M304.8 190.2l-0.7 0.4M346.3 179.7l-0.1 0.2M329.1 216.5l1.0 0.1M364.6 169.1l0.7 0.0M292.1 181.3l-0.1 1.0M298.7 194.7l0.0 1.4M350.9 174.4l0.1 1.4M360.0 185.7l-0.5 0.1M306.5 192.9l-0.7 0.7M363.7 168.3l0.1 0.1M342.2 197.0l-0.6 0.4M305.9 187.4l0.1 1.1M333.9 205.2l-0.9 0.4"/>
<path stroke="#9c4628" stroke-opacity="0.9" stroke-width="2" d="M337.5 169.3l0.2 0.2M331.9 220.0l-0.1 0.0M365.5 169.1l-0.3 0.2M331.2 183.0l0.2 0.1M344.6 176.2l-0.9 0.2M365.5 214.1l-0.2 0.1M318.5 170.6l-0.5 0.8M331.8 204.4l-0.8 0.1M319.9 199.4l0.5 0.0"/>
<path stroke="#9c4628" stroke-opacity="0.9" stroke-width="2.4" d="M348.9 203.4l-0.1 1.0M316.6 168.6l-0.2 0.3M329.3 227.0l-0.3 0.7M289.2 221.7l-0.2 0.0M344.0 190.6l-0.5 0.6M334.4 179.3l0.1 0.6M367.4 211.6l0.4 0.2M304.6 187.8l-0.1 0.7M308.2 182.9l0.0 0.1M289.2 200.1l0.6 0.6M295.5 214.9l-0.1 0.2M321.6 181.9l1.0 0.1M366.6 218.5l-0.6 0.4M352.5 203.5l0.0 1.0M341.4 230.3l-0.1 0.6M325.9 174.8l0.4 0.2M296.0 205.7l-1.0 0.1M316.6 214.2l-0.5 0.0M300.3 194.4l-0.2 0.9M345.6 213.0l0.3 0.4M301.1 228.1l-0.8 0.4M318.3 167.6l-0.4 0.5M314.0 205.2l-0.5 0.4M312.9 197.0l0.0 0.1M303.5 177.7l0.1 0.0M365.2 186.8l-0.2 0.1M341.0 183.8l0.0 0.4M352.7 229.4l0.1 0.1M351.7 178.7l-0.2 0.0M354.2 222.5l0.0 0.0M346.6 211.2l-0.4 0.8M334.1 196.4l-0.8 0.2M345.4 192.1l0.5 0.6"/>
<path stroke="#9c4628" stroke-opacity="0.9" stroke-width="2.8" d="M294.4 214.0l-0.1 0.1M347.8 216.1l-0.1 0.1M339.5 207.2l-0.2 0.3M347.5 210.6l1.1 0.1M368.8 188.4l-0.1 0.1M326.1 215.5l0.1 0.3M323.7 183.4l0.1 1.1M345.9 191.2l0.6 0.7M323.6 223.8l0.5 0.5M285.8 183.6l-0.1 0.4M325.7 227.3l0.5 0.7M346.2 183.5l0.2 0.4M315.8 195.7l-0.4 1.1M307.1 188.7l0.1 0.2M316.3 202.7l-0.0 0.2M326.3 178.7l-0.5 1.0M295.4 214.5l-0.2 0.2M325.5 191.9l0.0 0.4M316.2 196.2l-0.5 1.1M342.0 206.1l0.3 0.7M312.1 176.1l1.1 0.1M307.0 186.2l0.9 0.6M292.0 167.0l0.1 0.8M338.7 199.8l0.5 0.1M355.3 198.1l1.2 0.5M311.2 226.7l-0.0 0.0M369.2 206.9l-0.2 0.5M325.0 187.5l-0.8 0.1M322.6 211.6l-0.1 0.5M306.7 210.5l0.4 0.8M338.0 179.1l0.6 0.0M333.5 200.7l-0.6 0.4M285.7 207.6l-0.8 0.5M301.7 222.9l0.6 0.4M286.0 168.4l0.0 0.1M356.4 220.6l-0.5 0.3"/>
<path stroke="#9c4628" stroke-opacity="0.9" stroke-width="3.2" d="M347.5 201.9l0.7 0.3M301.5 209.9l0.4 0.0M333.6 217.5l1.0 0.9M346.2 194.6l0.3 0.3M335.7 228.7l0.2 0.1M325.5 170.7l0.5 0.8M294.7 220.2l-0.8 0.9M311.3 181.6l0.5 0.6M323.6 192.3l0.5 1.1M329.5 202.9l0.3 0.2M362.9 175.6l0.0 0.4M368.3 179.9l-0.6 0.0M334.7 224.6l0.0 0.2M339.9 170.0l-1.1 0.9M344.9 194.4l0.0 1.3M295.8 172.9l0.1 0.6M341.3 184.1l-0.5 0.2M320.1 211.1l-0.8 0.7M327.1 215.1l-0.2 0.1M300.1 174.8l0.7 1.0M303.1 222.2l-1.1 0.0M349.5 205.9l0.6 0.5M350.8 203.1l0.0 0.0M338.8 188.6l-0.3 0.3M348.9 185.4l-0.0 0.2M294.5 196.1l-1.1 0.6M300.7 181.6l1.0 0.1M355.0 196.6l-0.1 1.3M313.0 181.9l-0.9 0.2M299.7 190.6l0.2 1.1M299.4 190.9l-0.6 1.2M306.4 182.6l-0.9 0.2"/>
<path stroke="#9c4628" stroke-opacity="0.9" stroke-width="3.6" d="M330.5 205.5l0.0 1.0M339.7 198.1l0.2 0.5M329.6 222.3l-0.3 0.2M368.5 178.2l-0.8 1.2M305.6 213.7l0.7 0.6M333.6 200.3l-0.4 0.8M355.7 166.6l-0.9 0.4M301.1 230.6l0.2 0.2M360.4 175.5l0.2 0.4M292.5 186.8l-0.5 0.3M357.3 228.0l-0.4 0.1M348.5 189.8l0.3 1.1M283.9 196.2l-0.9 1.3M342.4 205.0l0.2 1.3M341.4 198.2l-1.7 0.0M361.5 194.6l0.9 0.3M301.1 203.9l0.3 0.3M288.8 208.5l-0.4 1.4M290.0 175.7l-1.2 0.2M303.0 215.6l0.2 1.1M312.9 224.3l-0.0 0.1M359.7 182.4l0.5 0.3M307.3 200.7l0.8 0.9M350.5 191.5l0.4 0.2M311.3 173.7l0.4 1.5M303.7 223.7l0.2 0.3M293.7 227.3l1.2 1.1M336.8 197.7l-1.1 0.9M331.6 210.8l0.2 1.0M317.1 229.6l-0.2 0.1M367.0 169.8l0.6 0.3M308.8 212.6l0.1 0.3M312.4 209.5l0.8 0.6M342.3 199.3l0.6 0.5M285.6 189.5l0.3 0.8"/>
<path stroke="#7c2e1a" stroke-opacity="0.9" stroke-width="1.6" d="M368.5 188.0l0.1 0.0M361.9 224.8l-0.1 0.0M322.8 216.9l0.3 0.2M329.7 180.9l0.4 0.6M308.3 202.6l-0.0 0.8M366.3 175.9l0.0 0.0M301.5 167.2l-0.1 0.0M322.4 182.4l0.3 0.4M299.7 202.7l-0.7 0.2M362.6 185.0l-0.6 0.4M358.5 199.1l0.4 0.2"/>
<path stroke="#7c2e1a" stroke-opacity="0.9" stroke-width="2" d="M309.5 183.5l0.0 0.0M294.5 225.1l0.3 0.4M343.8 203.2l0.3 0.1M317.8 220.0l0.4 0.2M344.5 193.2l0.4 0.6M359.7 199.5l0.1 0.1M288.9 188.6l0.1 0.0M297.4 186.0l0.2 0.0M307.7 214.5l0.0 0.2M312.3 206.3l0.3 0.3M351.0 178.7l0.0 0.0M333.9 220.2l-0.1 0.1M333.0 196.9l-0.2 0.7M344.2 195.1l0.6 0.4M312.4 181.7l0.4 0.6"/>
<path stroke="#7c2e1a" stroke-opacity="0.9" stroke-width="2.4" d="M345.9 193.2l1.0 0.1M312.0 195.7l0.9 0.3M360.5 227.3l0.0 0.1M289.7 208.2l0.0 0.1M333.7 225.6l0.3 1.0M345.3 170.8l-0.3 0.1M320.4 176.3l-0.3 0.4M330.3 188.1l-0.0 0.0M356.0 225.9l-0.6 0.4M298.4 230.5l-0.2 0.1M332.2 179.4l0.4 0.3M294.2 176.6l-0.8 0.6M356.4 203.1l0.2 0.3M361.0 183.1l0.6 0.1M286.2 225.1l0.1 0.9M358.7 181.0l0.3 0.4M355.8 184.7l0.4 0.2M298.6 194.7l-0.1 0.4M292.0 205.7l0.3 0.1M316.1 216.5l0.0 0.1M321.2 211.5l0.8 0.5M346.1 226.3l0.2 0.6M368.1 231.1l-0.6 0.2M312.3 203.3l-0.5 0.3M348.8 229.8l-0.7 0.4"/>
<path stroke="#7c2e1a" stroke-opacity="0.9" stroke-width="2.8" d="M334.1 197.8l-0.0 0.2M350.9 225.2l0.6 0.3M302.1 192.2l-0.8 0.3M337.1 206.8l0.2 0.3M332.3 218.3l-0.5 0.2M285.4 176.3l-0.2 0.2M347.0 169.3l-0.4 0.4M365.0 186.4l0.2 0.4M310.3 206.6l0.0 0.0"/>
</g></g>
<line x1="354.1" y1="224.2" x2="362.1" y2="224.2" stroke="#111" stroke-width="1.4"/>
<clipPath id="c6"><rect x="285" y="234.5" width="82.6" height="61"/></clipPath>
<g clip-path="url(#c6)"><g filter="url(#bl)" stroke-linecap="round" fill="none">
<rect x="283" y="232.5" width="86.6" height="65" fill="#cbcbc8"/>
<path stroke="#b8b6d0" stroke-opacity="0.6" stroke-width="3.2" d="M294.2 297.3l-0.4 0.5M283.6 261.7l-0.0 0.0M320.4 292.4l-0.1 0.1M338.2 267.2l0.1 0.2M292.0 256.1l-0.6 0.5M293.2 295.9l-1.0 1.0M356.8 256.0l0.4 0.1M324.0 258.6l-0.7 0.4M292.7 261.4l-1.4 0.1M368.2 278.7l-0.5 1.0M297.7 234.7l0.2 0.3"/>
<path stroke="#b8b6d0" stroke-opacity="0.6" stroke-width="3.6" d="M358.9 266.2l0.6 0.9M300.1 263.9l-0.3 0.1M337.3 238.3l0.1 1.0M323.2 264.6l-0.0 0.1M285.4 266.5l0.4 0.2M361.7 259.6l0.4 0.4M340.5 295.2l0.4 1.0M345.2 288.5l1.0 0.4M285.1 256.3l1.5 0.1M295.1 233.1l-0.0 0.0M353.1 265.4l0.1 1.0M356.6 290.7l-1.4 0.6M289.1 240.7l-0.6 0.7M296.9 265.0l-0.8 0.7M341.8 263.6l-0.1 0.1M313.3 244.0l1.2 1.0M306.8 243.9l0.2 0.0M292.7 275.8l0.2 0.3M333.4 262.9l1.2 0.7"/>
<path stroke="#b8b6d0" stroke-opacity="0.6" stroke-width="4" d="M313.8 271.5l1.1 0.3M361.2 272.5l0.2 0.7M318.3 296.0l-1.7 0.6M322.4 292.7l-0.7 0.3M332.3 257.5l-0.1 0.4M290.5 270.8l0.1 0.2M337.4 263.7l-0.2 0.1M357.0 254.3l0.1 0.2M305.7 232.3l0.2 0.5"/>
<path stroke="#b8b6d0" stroke-opacity="0.6" stroke-width="4.4" d="M366.7 292.0l0.6 1.0M293.5 278.8l-1.6 0.8M316.2 260.2l-0.3 2.0M361.9 294.0l1.7 0.3M298.9 295.4l-0.2 1.2M306.2 279.2l1.2 0.4M315.7 267.9l1.2 0.3M307.1 274.1l-0.0 1.3M294.2 240.1l1.0 0.2M302.1 253.1l-0.5 1.3M362.1 280.0l-0.2 0.8M305.1 291.3l-0.4 0.6M314.9 290.8l0.7 1.0"/>
<path stroke="#b8b6d0" stroke-opacity="0.6" stroke-width="4.8" d="M351.4 285.9l0.6 0.0M341.5 244.4l1.2 1.3M352.2 284.8l0.2 0.1M341.7 289.8l-1.4 1.0M346.9 249.3l1.4 0.9M335.6 249.7l0.9 0.4M350.3 285.2l1.0 0.3M328.4 283.0l-0.8 0.0M329.8 254.0l0.3 1.9M338.9 295.4l-1.2 0.7M314.3 296.6l1.7 1.0M289.3 239.5l0.9 0.6M332.8 276.2l0.1 0.7"/>
<path stroke="#b8b6d0" stroke-opacity="0.6" stroke-width="5.2" d="M284.6 240.2l0.6 0.6M313.7 241.6l1.3 0.6M332.5 283.4l0.2 0.4M340.0 278.2l0.7 1.8M341.5 279.6l0.1 0.7M290.4 296.1l0.1 0.3M301.9 279.8l-0.2 0.1M319.8 270.0l0.9 1.1M325.1 253.4l0.4 0.2M331.3 274.2l1.1 0.8"/>
<path stroke="#b8b6d0" stroke-opacity="0.6" stroke-width="5.6" d="M340.8 262.8l-0.7 0.6M306.7 284.1l-0.1 1.0M337.6 277.8l2.5 0.2M343.5 233.3l0.0 0.0M327.3 263.0l1.0 0.3M315.9 252.0l-0.4 0.7M316.8 263.3l1.5 1.9M361.0 273.3l-0.3 0.2M322.3 277.6l-0.3 0.1M361.3 260.7l0.7 0.9M343.9 235.6l1.6 2.0M288.2 296.1l-1.4 2.0M312.8 237.4l-0.0 0.3M288.4 235.0l-0.2 0.2M299.7 287.7l1.6 1.3M335.2 249.1l-1.9 0.0M344.4 276.8l-0.1 0.2M300.4 261.5l-1.5 0.2M357.5 266.0l0.2 2.0M336.9 288.2l1.1 0.4M336.7 261.6l-1.0 1.1M297.2 236.0l-1.6 0.6M333.8 287.2l1.2 1.4"/>
<path stroke="#b8b6d0" stroke-opacity="0.6" stroke-width="6" d="M352.1 276.9l0.9 0.3M339.8 254.7l-0.1 2.5M291.4 272.3l-2.4 0.8M364.7 237.9l-0.7 0.1M302.5 268.8l0.1 0.8M336.9 282.3l0.1 0.2M294.6 291.6l-1.4 0.2M356.6 270.4l-1.4 1.0M296.5 279.7l0.4 0.3M366.7 273.2l0.8 0.0M355.5 256.6l-0.2 0.3M351.4 296.4l0.8 0.8M336.9 232.0l-0.2 1.3M325.6 279.7l0.7 0.0M287.6 265.9l-0.3 0.3M338.6 288.6l-0.2 0.2M293.3 273.9l0.0 1.0M369.5 232.5l0.1 1.6"/>
<path stroke="#b8b6d0" stroke-opacity="0.6" stroke-width="6.4" d="M337.3 250.9l1.3 1.0M288.2 244.2l0.4 1.7M358.8 234.3l1.3 0.3M304.8 249.4l0.2 0.8"/>
<path stroke="#6e64c4" stroke-opacity="0.85" stroke-width="2" d="M352.6 232.9l-0.0 0.0M369.4 239.7l-0.2 0.0M338.3 250.3l-0.1 0.8M341.7 273.9l-0.7 0.3M292.1 265.7l0.1 0.2M285.8 260.9l0.0 0.2M316.8 255.3l-0.3 0.0M304.4 243.3l0.2 0.3M350.5 242.5l0.1 0.7M292.9 285.4l0.1 0.3M346.5 283.2l-0.5 0.2M349.5 272.2l0.2 0.0M316.0 293.3l-0.4 0.8M326.9 233.6l-0.2 0.0M365.8 295.2l0.5 0.6M283.1 251.8l-0.0 0.0M319.0 249.5l-0.0 0.0M306.7 280.2l-0.0 0.2M307.0 242.5l-0.7 0.5M297.4 241.7l-0.2 0.0M304.5 274.8l-0.5 0.5M340.5 296.6l0.6 0.2M351.0 233.6l0.1 0.0M360.3 285.1l-0.5 0.3M356.2 246.3l0.4 0.1M328.4 239.9l-0.3 0.7M360.2 234.0l0.7 0.3M311.8 295.1l-0.4 0.6M340.7 272.3l-0.5 0.0M368.8 289.0l-1.0 0.0M296.3 288.0l0.0 0.0M367.5 279.1l0.5 0.7M337.0 249.2l0.5 0.2M290.5 292.6l-0.3 0.5M348.1 283.6l0.1 0.2M367.4 262.4l-0.2 0.4"/>
<path stroke="#6e64c4" stroke-opacity="0.85" stroke-width="2.4" d="M333.9 239.6l-0.2 0.6M306.1 282.8l-0.4 0.9M319.3 255.6l-0.3 0.3M310.9 267.7l0.6 0.1M300.2 278.0l0.1 0.3M348.3 274.5l0.2 0.7M314.1 259.1l-0.2 0.0M368.0 234.2l0.3 0.2M357.4 281.4l-0.5 0.3M292.4 265.5l-0.4 0.5M314.5 252.0l0.4 0.6M289.5 233.9l-0.6 0.3M322.3 260.1l0.7 0.7M353.0 253.0l0.9 0.2M364.6 232.8l0.1 0.6M358.8 286.0l-0.3 0.9M288.6 267.2l-0.3 0.3M356.0 294.7l0.1 0.2M355.2 259.8l0.2 0.4M335.1 292.0l-0.0 1.0M323.2 261.1l-0.1 0.5M350.1 289.4l0.5 0.6M300.7 263.6l-0.1 0.3M340.9 295.3l0.1 1.0"/>
<path stroke="#6e64c4" stroke-opacity="0.85" stroke-width="2.8" d="M330.0 286.1l-1.0 0.7M289.3 237.6l0.7 0.5M368.7 238.7l0.3 0.5M334.4 274.7l0.1 0.6M334.7 274.9l-0.2 0.6M283.4 236.7l0.6 0.0M290.6 273.6l-0.3 1.2M361.8 248.2l0.3 0.1M338.0 257.0l0.5 0.5M287.2 251.6l-0.0 0.3M292.4 249.2l-0.4 0.0M367.4 245.1l0.7 0.8M301.9 273.9l-0.3 0.3M315.2 239.7l0.1 0.2M318.4 253.4l-0.2 0.1M304.2 240.0l-0.6 0.1M297.2 246.3l0.4 0.4M368.5 270.6l-0.4 0.9M285.1 253.7l-0.5 0.7M354.8 273.3l0.2 0.7M307.3 256.5l-0.9 0.3M335.7 287.5l0.0 0.2M351.4 267.5l-0.3 0.6M330.3 243.1l0.9 0.9M346.0 254.2l-1.2 0.1M284.3 274.5l-0.1 0.3"/>
<path stroke="#6e64c4" stroke-opacity="0.85" stroke-width="3.2" d="M338.3 273.4l-0.1 1.4M313.1 256.0l0.7 0.2M319.0 243.9l0.5 0.0M331.4 263.7l0.6 0.4M326.8 245.5l-0.8 0.2M340.4 261.1l1.0 0.0M358.6 288.0l-0.7 1.2M300.7 252.3l1.3 0.2M362.5 250.0l-0.1 0.2M288.1 274.7l-0.1 0.9M327.6 247.6l0.4 0.7M358.4 238.3l-0.0 0.6M291.8 237.1l-0.2 0.3M286.3 232.6l-0.6 0.8M339.9 275.6l0.3 0.2M349.7 239.8l-0.4 0.4M303.7 265.5l-1.1 0.5M344.6 237.6l0.2 0.0M306.7 287.8l0.3 0.1M364.9 291.0l0.2 0.9M287.5 268.9l0.1 1.2M338.7 282.1l-0.3 1.1M316.2 240.9l0.2 0.1M302.1 288.8l-0.2 0.5M344.1 261.8l-0.3 0.3M352.2 236.9l-0.0 0.0M350.1 279.7l-0.4 0.1M315.4 268.3l-0.5 0.1M336.1 251.8l0.3 0.0M315.1 246.1l0.0 0.0M290.6 272.0l0.1 0.6M356.5 250.8l-0.1 0.1M340.5 274.9l1.0 0.2M332.0 293.7l-0.1 0.6"/>
</g></g>
<line x1="354.1" y1="290.1" x2="362.1" y2="290.1" stroke="#111" stroke-width="1.4"/>
<clipPath id="c7"><rect x="372.9" y="168.3" width="82.6" height="61.3"/></clipPath>
<g clip-path="url(#c7)"><g filter="url(#bl)" stroke-linecap="round" fill="none">
<rect x="370.9" y="166.3" width="86.6" height="65.3" fill="#bab4b4"/>
<path stroke="#9086cc" stroke-opacity="0.7" stroke-width="2.4" d="M385.1 173.8l0.7 0.3M386.2 181.2l-0.2 0.5M404.6 192.3l0.7 0.1M376.5 179.9l0.4 0.1M370.7 176.2l0.4 0.0M446.6 206.3l0.1 0.2M412.7 171.8l0.2 0.3M442.7 176.4l-0.1 1.0M383.9 201.8l-0.5 0.0M445.5 211.7l0.4 0.2M373.7 184.5l-0.8 0.1M390.0 181.0l-0.1 0.2M386.0 174.3l-0.8 0.6M418.6 174.4l-0.4 0.9M393.1 193.2l0.4 0.9M447.1 227.8l-0.6 0.1M443.4 175.2l0.5 0.1M456.6 220.4l-0.0 0.5M418.9 194.9l-0.1 0.3M379.7 183.3l0.5 0.6M425.4 218.6l0.9 0.2M384.8 169.4l0.2 0.3M372.5 182.3l-0.1 0.7M376.9 214.7l0.2 0.0M396.1 196.1l0.3 0.4M397.7 189.4l0.0 0.4M378.7 192.4l0.0 0.0M394.3 213.9l-0.8 0.1M424.3 208.2l0.1 0.1M402.1 194.2l0.1 0.0M426.3 184.8l0.9 0.4M385.4 176.3l0.0 1.0M395.0 229.2l-0.2 0.5M445.6 180.3l0.1 0.3M455.1 182.4l-0.0 0.2M410.2 202.0l0.6 0.5M426.0 211.9l-0.0 0.1M421.0 191.6l0.7 0.0M412.4 181.2l-0.7 0.9M434.6 198.8l0.6 0.9M441.7 181.0l0.5 0.7M453.3 198.6l0.1 0.2M428.3 228.1l0.3 0.3M455.2 175.5l0.0 0.1M441.2 216.4l0.0 0.0M398.7 184.2l-0.7 0.2M425.8 227.8l0.0 0.2M413.9 226.6l-0.6 0.6M402.3 217.3l-0.1 0.1M392.2 170.3l0.3 0.5M403.1 214.4l0.2 0.2M457.1 199.0l-0.4 0.8M422.3 206.7l0.4 0.2M431.3 193.0l-0.4 0.1M456.9 189.8l0.7 0.5M447.4 196.4l-0.0 0.0M426.3 225.4l0.3 0.6M414.9 175.8l-0.6 0.1M385.0 217.5l-0.4 0.2M442.7 178.0l-0.0 0.4M404.5 174.2l-0.8 0.3M438.1 199.5l0.2 0.5M401.0 215.3l0.6 0.7M385.9 214.6l0.6 0.6M371.0 168.2l0.1 0.7M415.4 224.7l-0.1 0.2M376.2 217.1l-0.5 0.1M380.1 181.3l-0.2 0.2M447.3 187.3l-0.4 0.9M383.2 167.6l0.5 0.9M383.3 167.9l-0.3 0.6M431.1 214.1l0.3 0.6M450.0 227.9l0.2 0.1M425.6 185.0l-0.1 0.1M389.3 222.4l0.7 0.4M400.6 220.2l0.7 0.8M448.0 167.9l-0.3 0.1M410.8 224.0l0.1 0.2M431.7 221.3l0.1 0.1M399.0 200.3l0.3 0.2M454.9 213.7l1.0 0.3M387.9 207.9l0.1 0.2M425.6 196.2l0.2 0.6M398.2 207.2l-0.3 0.3M432.6 207.2l0.1 0.5M374.6 201.7l-0.8 0.2M401.8 183.5l-0.8 0.2M433.4 184.5l0.0 0.3M453.3 209.1l0.1 0.1M419.0 183.5l0.0 0.2M376.0 196.5l0.0 0.5M417.6 222.2l0.1 0.8M416.4 216.4l0.1 0.5M426.2 217.4l-0.7 0.3M380.1 178.0l-0.8 0.2M426.2 227.2l0.6 0.1M411.8 193.0l0.5 0.4M383.7 167.2l0.6 0.3M454.4 213.1l-0.0 0.0M445.5 197.9l-0.1 0.4M408.7 210.1l0.4 0.8M440.8 184.7l0.1 0.3M419.3 218.3l-0.8 0.2M441.1 216.6l-0.6 0.2M405.8 200.1l-0.0 0.0M454.3 182.8l0.2 0.1M452.8 225.4l0.2 0.6M381.4 228.6l-0.3 0.6M454.5 231.0l0.0 0.0M422.0 215.7l0.2 0.2M381.5 197.7l0.2 0.1M383.4 195.3l-0.9 0.5M425.3 175.6l-0.0 0.1M395.9 183.1l-0.4 0.0M457.5 226.7l-0.3 0.1M440.8 188.6l-0.0 0.0M420.6 175.0l-0.5 0.7M387.9 171.2l0.0 0.6M421.3 179.1l0.2 0.7M445.7 198.0l0.1 0.9M446.2 183.3l0.4 0.8M409.8 199.8l-0.6 0.4M416.5 201.1l0.7 0.6M386.2 173.0l0.9 0.1M379.3 211.9l-0.0 0.0M433.0 169.0l-0.0 0.5M453.9 227.1l-0.2 0.4M402.5 200.7l-0.0 0.4M450.9 206.6l0.1 0.6M417.1 175.9l0.1 0.1M406.1 185.1l-0.0 0.1M397.7 181.8l0.2 0.5M418.8 197.9l0.7 0.9M437.7 176.2l0.2 0.9M407.8 225.7l-0.0 0.0M457.1 207.7l-0.3 0.3M397.6 211.3l-0.3 0.1M421.7 209.7l-0.1 0.5M406.1 174.1l0.8 0.3M440.5 170.0l0.4 0.7M432.7 189.4l0.3 0.1M425.0 182.4l-0.9 0.4M439.4 182.1l0.3 0.2M404.3 192.6l-0.1 0.1M401.2 182.2l0.2 0.2M443.4 218.7l-0.2 0.3M403.5 228.4l-0.0 1.1M390.3 195.6l0.5 0.6M389.3 223.0l-0.1 0.5M397.9 191.7l-0.2 0.1M398.6 209.3l0.3 0.5M414.1 185.6l0.2 0.2M382.0 213.0l-0.5 0.1M427.8 211.5l0.4 0.9M425.7 177.8l-0.7 0.7M432.5 168.9l0.1 0.1M397.2 191.0l-0.1 0.3M438.3 184.6l-0.3 0.8M374.7 182.0l0.7 0.5M450.0 214.9l0.2 0.7M435.7 220.4l-0.1 0.0M425.2 195.5l0.2 0.7M414.8 226.9l0.8 0.1"/>
<path stroke="#9086cc" stroke-opacity="0.7" stroke-width="2.8" d="M402.6 170.1l0.0 0.0M376.5 172.0l1.0 0.4M426.2 190.6l0.1 0.0M388.8 210.5l-0.1 0.4M455.4 173.8l0.8 0.4M393.7 166.3l-0.1 0.5M453.7 211.0l-0.4 0.7M434.7 181.1l0.5 0.0M449.2 220.9l-0.7 0.5M455.4 191.7l-0.8 0.9M417.0 227.0l-0.9 0.6M389.2 182.6l-0.1 0.3M414.3 201.0l0.0 0.0M433.8 202.3l-0.1 0.6M438.7 173.1l0.2 0.3M438.3 199.3l-1.0 0.3M409.5 206.0l-0.4 0.6M410.4 200.6l-0.7 1.0M399.8 179.1l0.9 0.1M383.4 226.2l0.9 0.3M375.9 211.2l-0.1 0.0M445.9 195.9l-0.6 0.2M393.9 174.7l0.3 0.1M436.6 185.1l0.1 0.2M430.8 230.1l-0.6 0.8M425.9 192.7l0.1 0.0M454.4 229.8l-0.3 0.0M414.4 179.4l0.0 0.0M391.3 204.1l-0.5 0.9M433.1 223.7l-0.4 0.0M373.7 175.0l-0.1 0.1M414.0 191.0l-0.7 0.6M435.3 186.2l0.0 0.0M415.7 196.6l-0.1 0.0M441.8 229.4l0.3 0.2M371.0 198.3l0.3 0.2M396.2 190.0l-0.3 1.2M415.7 178.5l-1.1 0.4M412.2 188.7l-0.9 0.1M393.3 208.8l0.2 0.6M387.5 172.2l0.1 0.1M406.5 200.5l0.4 0.1M450.5 208.4l0.1 0.1M397.4 167.3l0.2 0.9M428.3 190.9l0.4 0.2M370.6 184.4l1.1 0.4M454.8 179.6l-0.8 0.5M408.6 169.5l-0.5 0.1M453.7 228.4l0.1 0.3M457.2 172.7l-0.9 0.5M450.0 168.9l0.1 0.1M388.5 218.2l0.1 0.0M398.2 203.2l-0.5 0.2M371.3 224.7l0.3 1.0M380.9 205.1l0.5 0.7M407.2 203.9l0.1 0.8M437.0 217.1l0.0 0.2M380.2 174.6l0.0 0.1M441.1 175.3l1.0 0.7M393.6 199.3l0.0 0.0M438.7 173.4l0.4 0.8M456.6 207.1l0.7 0.7M456.6 203.5l0.2 0.9M372.8 166.4l0.1 0.1M448.9 169.0l0.4 0.4M441.2 177.7l0.4 0.1M408.7 217.6l-0.2 0.3M431.4 221.8l-0.2 0.9M388.6 187.1l0.0 0.0M395.6 213.0l-0.4 0.0M408.7 216.4l-0.1 0.8M389.5 211.9l-0.1 0.1M401.2 192.4l1.1 0.3M435.3 225.3l-0.5 0.5M427.9 217.1l-0.6 0.0M381.5 230.6l0.0 0.1M405.7 167.0l-0.3 0.4M441.8 219.4l-0.1 0.4M381.4 220.4l0.7 0.8M403.4 182.9l0.2 0.0M391.2 217.0l-0.2 0.1M418.7 219.8l0.3 0.9M414.8 183.5l-0.6 1.1M439.5 187.7l-0.1 0.3M418.1 169.5l0.0 0.0M393.2 185.8l0.1 0.4M424.9 212.2l0.8 0.9M441.3 171.3l0.8 0.4M426.9 207.3l-0.4 0.3M452.5 217.5l0.4 0.1M447.2 200.2l0.6 0.4M422.6 188.8l0.0 0.0M456.4 222.6l0.5 0.5M378.1 169.1l0.2 1.2M453.5 209.9l0.5 0.3M425.3 195.3l0.1 1.0M375.3 213.7l1.1 0.1M416.1 178.1l0.9 0.7M395.1 174.2l-0.0 0.2M442.7 227.4l-0.5 0.3M392.2 187.8l-1.0 0.7M452.9 184.9l0.7 0.3M422.3 228.6l0.0 0.4M443.3 205.9l0.7 0.5M432.4 196.0l0.1 0.8M421.2 166.7l0.8 0.7M375.8 191.5l0.9 0.3M403.5 195.5l0.6 0.7M404.9 202.4l-0.3 0.2M444.4 198.8l0.1 0.2M379.6 190.4l-0.2 0.7M447.2 229.0l-0.2 0.5M456.7 188.4l0.9 0.6M407.4 176.2l-0.0 0.6M394.1 207.9l-0.3 1.3M379.8 176.9l-0.4 1.0M449.1 204.1l0.2 0.5M433.1 180.2l0.1 1.0M455.0 185.2l-0.0 0.2M374.0 209.6l-0.1 0.1M448.9 204.5l-0.1 0.3M394.4 216.3l-0.2 0.8M386.1 220.8l0.7 0.7M408.6 211.0l-0.0 0.0"/>
<path stroke="#9086cc" stroke-opacity="0.7" stroke-width="3.2" d="M398.9 176.1l-0.0 0.1M381.1 186.3l-0.1 0.3M409.8 185.5l0.8 0.7M413.4 168.3l-0.2 1.1M446.8 186.4l-0.2 0.8M376.7 211.7l-1.2 0.7M395.5 191.5l0.0 0.0M418.1 223.5l0.8 1.0M376.1 224.7l-1.0 0.8M402.4 173.6l0.2 1.5M437.6 200.9l0.4 0.3M441.7 230.3l-1.0 0.7M412.5 177.8l-0.4 0.3M386.7 166.4l0.0 0.3M392.3 170.9l-1.0 0.4M384.4 213.0l-0.2 0.1M408.3 198.3l-0.0 0.6M443.6 223.0l0.3 0.3M383.9 213.6l-0.1 0.0M447.6 207.0l1.1 0.5M416.8 198.9l-1.0 0.6M421.1 224.3l0.7 0.7M419.3 206.8l0.0 0.9M371.2 218.0l-0.1 0.7M427.8 170.6l0.4 0.1M393.9 209.8l0.6 0.8M452.8 180.0l-0.0 0.2M453.8 174.8l-0.7 0.3M400.7 186.9l-0.0 0.0M433.4 169.3l-0.5 0.5M408.8 228.5l1.3 0.1M430.3 227.5l-0.7 0.6M400.3 193.7l-0.2 0.2M449.4 223.8l-1.4 0.3M450.3 182.5l0.6 1.1M394.6 228.7l-0.2 0.3M442.0 216.6l0.2 0.4M379.0 198.6l0.5 0.4M407.5 206.6l-0.9 0.5M428.5 174.0l-0.1 0.4M384.1 223.8l0.1 0.4M409.1 183.0l1.3 0.5M388.2 182.7l0.7 0.5M371.8 187.6l0.1 0.2M405.1 202.2l0.1 0.1M379.7 197.9l1.2 0.8M374.5 203.0l-0.0 0.0M408.6 167.6l0.5 0.5M415.1 168.9l-0.1 0.1M453.8 174.6l-1.0 1.1M449.6 176.9l1.4 0.3M384.3 227.1l1.1 0.6M445.9 202.4l1.1 0.4M426.0 230.2l0.5 0.8M390.4 204.3l-0.1 0.3M393.6 166.7l0.4 0.7M383.4 179.0l-0.3 0.6M447.9 217.4l-0.0 0.0M435.2 196.5l0.5 0.4M431.1 221.3l-0.1 0.4M397.6 180.1l-0.1 0.0M374.3 221.4l-0.8 0.5M414.5 221.9l0.0 0.0M370.3 179.5l1.4 0.0M413.4 198.3l0.0 0.3M378.1 217.2l-0.4 1.0M416.7 215.1l0.4 0.8M399.5 176.1l-0.7 0.7M385.2 194.8l0.8 0.3M404.1 230.0l0.2 1.1M373.8 191.8l-0.0 1.0M407.9 180.8l-1.0 0.8M431.5 221.5l0.1 0.9M424.2 192.7l1.1 0.7M416.1 172.6l-0.5 0.6M415.1 207.7l0.2 0.8M453.2 179.8l-0.4 0.4M416.3 180.4l0.5 0.4M382.1 216.5l0.1 0.9M408.3 207.9l-0.5 0.1M445.4 169.6l-1.1 0.9M383.0 220.6l0.0 0.0M428.3 224.3l1.0 0.7M431.2 200.8l-0.6 0.2M419.5 209.5l0.1 0.6M453.6 171.2l0.9 0.1M451.2 205.9l-1.1 0.3M424.0 206.1l-0.3 0.9M430.1 180.0l-0.5 0.4M427.8 189.8l-0.2 1.2M381.1 218.6l0.2 1.2M372.8 191.5l-1.3 0.1M433.1 182.1l0.3 0.0M437.4 212.7l1.1 0.3M455.3 212.0l-0.2 0.5M455.5 220.4l0.1 0.4M448.2 190.8l-0.8 0.3M441.4 222.8l-0.3 0.2M390.9 205.7l0.5 0.4M392.6 215.3l0.7 0.2M387.6 177.8l-0.1 0.5M402.8 173.0l1.0 0.5M438.3 212.5l1.4 0.2M429.4 167.1l0.3 0.0M384.2 183.9l0.4 0.3M375.8 224.6l0.0 0.3M395.0 179.5l-0.8 0.5M433.6 169.8l-0.4 0.2M385.1 190.5l-0.0 0.0M446.0 187.1l-0.4 0.4M420.9 200.4l-0.1 0.1M445.0 175.7l0.9 0.5M449.9 219.5l-0.0 0.1M426.5 183.5l-0.1 0.4M390.3 228.8l0.1 0.2M401.9 210.1l-1.0 0.6M415.7 214.0l0.1 1.1M371.6 216.3l-0.7 0.1M420.6 193.0l-0.4 1.2M383.5 203.9l-0.1 0.0M398.4 220.9l1.2 0.9M414.4 226.4l-0.8 0.0M415.6 199.8l0.2 0.5M398.1 230.1l0.7 0.3M449.1 211.1l-1.4 0.5M387.0 177.8l0.4 0.7M375.5 223.8l0.2 1.3M398.2 224.8l-0.1 0.4M378.9 183.8l0.0 0.2M373.4 210.4l0.1 0.5M408.1 226.8l-0.9 0.5"/>
<path stroke="#9086cc" stroke-opacity="0.7" stroke-width="3.6" d="M390.1 206.8l0.3 0.9M455.2 169.2l0.4 0.2M420.3 200.2l0.7 0.9M410.6 220.8l-0.4 0.7M392.3 191.8l0.0 0.1M406.2 189.4l1.3 0.7M409.3 226.8l0.6 1.4M378.7 209.0l-0.9 0.9M383.3 219.8l0.5 0.9M410.9 204.3l-0.6 0.2M454.7 180.3l0.0 0.6M415.9 170.4l-1.3 0.1M381.7 193.4l0.9 0.9M387.4 197.3l-0.1 0.1M388.2 230.2l0.0 0.0M431.4 181.4l0.8 0.1M444.1 174.0l-1.1 0.3M443.1 184.8l0.3 0.3M441.3 206.8l-0.2 1.5M389.6 225.3l0.7 0.3M393.1 202.9l0.3 1.1M373.8 212.3l-0.2 0.7M371.5 191.6l-1.2 0.6M397.5 196.2l-1.0 0.4M393.0 209.9l0.4 0.0M398.8 178.4l1.2 0.1M387.6 190.1l0.0 0.0M455.6 223.9l0.4 0.1M455.4 204.3l-0.5 0.2M381.5 227.8l0.8 0.1M451.5 191.4l-0.8 0.5M441.9 178.9l-0.8 0.1M411.9 175.0l0.3 0.2M379.0 207.4l0.4 1.1M426.4 194.9l0.8 0.8M454.5 180.5l0.0 0.0M391.0 214.4l0.6 1.0M431.2 209.6l-0.7 0.4M441.7 219.8l-0.1 0.0M414.3 190.9l0.0 0.4M419.7 180.8l-0.2 0.5M439.8 177.0l-0.7 0.6M424.0 210.9l-0.5 0.0M415.1 197.9l-0.0 0.0M425.0 188.1l0.0 0.6M454.5 172.0l0.2 0.0M421.7 219.6l-0.1 0.0M440.5 210.9l0.5 0.1M438.9 193.8l-1.0 0.7M400.7 225.2l1.3 0.2M383.1 215.2l0.6 0.9M451.9 180.5l-1.3 0.5M418.8 175.6l0.1 0.4M413.5 187.1l-0.2 0.0M376.2 222.9l-0.0 0.8M416.1 191.6l0.6 1.1M373.3 175.3l-1.2 0.2M425.1 219.1l1.4 0.1M439.0 212.5l-0.2 0.1M422.4 188.7l-0.1 1.1M454.0 198.5l0.1 0.4M437.9 223.9l0.1 0.2"/>
<path stroke="#c98a48" stroke-opacity="0.75" stroke-width="1.2" d="M380.8 185.2l0.0 0.0M388.0 212.0l0.0 0.2M402.5 177.1l-0.3 0.3M408.6 178.5l-0.2 0.4M392.8 182.3l-0.3 0.2M384.4 185.8l0.3 0.2M409.2 229.6l0.2 0.1M392.9 172.4l-0.1 0.3M403.2 167.2l-0.1 0.1M404.9 223.3l0.1 0.1M448.3 204.7l0.0 0.2M420.8 191.5l0.1 0.2M372.7 196.3l-0.0 0.1M394.5 184.0l-0.0 0.3M412.5 190.2l0.2 0.1M376.7 197.9l0.2 0.0M385.1 183.7l0.2 0.1M446.9 188.5l-0.3 0.1M405.9 210.6l0.2 0.0M422.7 182.9l-0.1 0.4M433.6 187.8l-0.1 0.1M378.7 168.0l-0.0 0.2M386.7 227.6l-0.1 0.1M425.1 180.8l0.2 0.2M456.8 185.7l0.5 0.0M379.4 177.3l-0.2 0.0M390.8 194.2l0.2 0.4M403.7 181.9l-0.3 0.3M416.6 219.2l0.1 0.5M442.9 219.7l0.1 0.0M400.2 191.2l0.3 0.1M378.9 207.8l-0.2 0.1M429.0 214.5l-0.1 0.3M437.5 216.6l-0.0 0.0M383.4 188.0l0.3 0.3M396.8 170.7l-0.2 0.2M383.8 172.3l-0.0 0.3M388.1 192.6l-0.1 0.0M439.0 212.7l-0.4 0.0M391.1 179.2l-0.3 0.1"/>
<path stroke="#c98a48" stroke-opacity="0.75" stroke-width="1.6" d="M431.9 218.6l-0.3 0.7M417.9 182.5l0.2 0.2M385.8 209.7l-0.5 0.3M378.2 213.1l0.0 0.1M398.4 190.2l0.4 0.4M395.4 209.4l0.0 0.2M385.0 185.5l0.2 0.2M373.3 178.6l-0.0 0.1M403.0 204.0l0.1 0.4M380.8 178.1l-0.1 0.0M390.3 203.6l0.4 0.1M374.4 205.6l0.6 0.2M380.5 218.5l-0.1 0.2M454.1 231.0l-0.6 0.2M397.1 215.9l0.2 0.4M418.7 192.8l-0.2 0.0M371.4 223.0l0.2 0.3M385.6 170.4l-0.1 0.5M426.4 226.3l-0.2 0.4M378.7 219.2l-0.1 0.5M388.3 215.7l0.5 0.4M414.1 173.3l0.3 0.6M393.8 170.6l-0.1 0.3M432.9 192.0l0.2 0.7M398.7 208.5l0.6 0.0M411.8 213.4l0.1 0.1M401.8 218.7l0.0 0.1M383.8 210.6l0.1 0.2M386.4 213.2l-0.1 0.1M424.5 190.5l-0.2 0.2M373.0 204.7l0.2 0.6M412.1 224.3l-0.3 0.2M379.7 172.0l-0.0 0.0M393.1 179.3l0.0 0.3M419.1 169.5l-0.1 0.3M409.2 223.6l0.5 0.1M396.2 181.4l0.3 0.2M378.8 196.5l0.5 0.2M395.7 188.9l0.7 0.2M412.8 222.7l0.1 0.0M452.6 209.1l0.2 0.2M422.5 196.4l-0.0 0.1M382.1 203.9l0.4 0.2M381.0 196.7l0.2 0.4M373.3 191.9l0.5 0.1M383.4 179.2l-0.6 0.0M378.6 208.8l-0.3 0.2M372.3 173.3l0.1 0.4M378.7 183.9l-0.4 0.3M370.7 177.5l0.4 0.4M434.1 215.3l-0.1 0.0"/>
<path stroke="#c98a48" stroke-opacity="0.75" stroke-width="2" d="M397.7 175.1l0.2 0.1M383.4 202.9l-0.4 0.4M396.2 178.2l0.8 0.5M374.8 203.2l-0.7 0.2M419.6 216.9l0.0 0.0M400.4 216.1l0.0 0.1M387.6 195.5l0.1 0.0M384.0 199.1l0.0 0.0M421.2 171.2l0.3 0.7M427.9 205.5l-0.1 0.2M436.9 216.5l0.1 0.9M382.2 166.6l0.3 0.6M450.8 176.9l-0.2 0.0M414.0 207.7l0.2 0.4M412.9 224.2l0.1 0.5M373.8 181.6l-0.0 0.0M382.7 194.2l-0.1 0.1M389.4 229.4l0.2 0.1M402.3 166.8l-0.1 0.5M422.1 231.0l0.2 0.6M423.8 210.4l0.4 0.3M396.4 192.8l0.1 0.3M428.6 187.6l-0.0 0.4M432.5 197.6l-0.1 0.4M413.3 204.4l-0.2 0.0M396.3 212.7l-0.4 0.1M386.6 226.3l-0.2 0.4M429.4 185.5l-0.1 0.0M388.7 172.5l0.2 0.9M430.3 176.4l-0.0 0.0M404.8 168.4l-0.0 0.2M390.4 226.3l0.4 0.7M385.6 227.4l0.1 0.9M420.2 211.2l0.1 0.1M374.6 206.6l-0.3 0.2M378.5 182.2l0.1 0.1M444.0 217.6l0.3 0.2M430.5 212.4l-0.4 0.6M399.8 180.0l0.4 0.5M381.3 210.8l0.1 0.1M414.8 230.8l-0.0 0.2M402.5 229.7l-0.1 0.7M420.7 169.1l0.4 0.5M407.2 229.9l0.2 0.6"/>
<path stroke="#c98a48" stroke-opacity="0.75" stroke-width="2.4" d="M378.7 187.2l-0.9 0.4M406.4 170.9l-0.3 0.4M408.1 224.3l-0.5 0.1M376.6 208.4l-0.0 0.1M421.2 223.8l-0.3 0.2M404.3 193.1l-0.0 0.0M420.9 226.3l0.3 0.7M393.6 186.5l-0.0 0.6M407.7 169.5l-0.7 0.3M414.6 224.3l-0.4 0.3M410.8 226.2l0.1 0.4M382.9 220.2l-0.7 0.4M396.9 229.0l-0.1 0.0M401.3 172.7l0.2 0.5M377.6 206.9l-0.2 0.3"/>
<path stroke="#a8461c" stroke-opacity="0.85" stroke-width="2" d="M389.7 180.9l-0.7 0.1"/>
<path stroke="#a8461c" stroke-opacity="0.85" stroke-width="2.4" d="M415.3 223.4l0.7 0.4M398.1 169.8l-0.4 0.0M398.6 194.8l0.1 0.2M404.4 229.2l-0.2 0.1M395.4 207.4l0.9 0.1M406.7 218.9l-0.1 0.3M428.7 225.1l0.3 0.1M406.2 203.5l-0.8 0.6M442.4 173.2l0.3 0.6M399.2 203.2l0.7 0.5"/>
<path stroke="#a8461c" stroke-opacity="0.85" stroke-width="2.8" d="M453.8 178.2l0.9 0.6M384.3 215.4l-0.4 0.6M436.1 183.7l-0.1 1.1M442.1 202.9l0.8 0.8M452.5 214.6l-0.4 0.3"/>
<path stroke="#a8461c" stroke-opacity="0.85" stroke-width="3.2" d="M454.1 212.5l0.4 0.2M409.6 220.5l0.6 1.0M392.3 170.4l-0.6 0.9M454.5 207.1l0.4 1.1M443.5 175.6l-0.0 1.1M394.3 170.2l0.8 0.9M440.4 189.8l-0.1 0.1M399.0 166.4l0.1 0.2M375.5 195.3l1.1 0.1"/>
<path stroke="#a8461c" stroke-opacity="0.85" stroke-width="3.6" d="M420.5 220.1l0.5 0.2M401.2 178.0l-0.1 0.9M406.8 198.5l-0.3 1.1M449.0 224.4l-0.6 1.1M447.2 174.4l-0.4 1.0"/>
</g></g>
<line x1="442" y1="224.2" x2="450" y2="224.2" stroke="#111" stroke-width="1.4"/>
<clipPath id="c8"><rect x="372.9" y="234.5" width="82.6" height="61"/></clipPath>
<g clip-path="url(#c8)"><g filter="url(#bl)" stroke-linecap="round" fill="none">
<rect x="370.9" y="232.5" width="86.6" height="65" fill="#cbbb9e"/>
<path stroke="#7466c0" stroke-opacity="0.9" stroke-width="2" d="M401.0 295.0l0.6 0.5M443.3 249.7l0.5 0.5M408.2 283.3l0.1 0.2M403.4 273.3l-0.1 0.1M448.0 252.8l0.1 0.2M420.6 273.8l0.4 0.6M398.1 274.8l-0.0 0.3M409.0 251.1l0.0 0.4M394.3 260.3l-0.2 0.2M449.4 259.4l-0.4 0.4M398.5 251.1l0.2 0.6M387.2 252.5l-0.1 0.4M420.1 258.7l-0.0 0.4M409.3 293.3l-0.4 0.0M442.1 267.9l0.0 0.6M381.7 253.4l-0.6 0.2M434.8 268.8l-0.0 0.3"/>
<path stroke="#7466c0" stroke-opacity="0.9" stroke-width="2.4" d="M390.2 295.0l0.7 0.2M392.3 297.1l0.1 0.7M409.7 264.6l0.9 0.2M391.4 233.7l-0.4 0.1M403.2 239.8l1.1 0.2M414.7 278.1l0.3 0.0M436.9 254.6l0.3 0.3M379.0 237.8l0.2 0.5M421.3 261.8l-0.3 0.3M388.2 261.2l-0.4 0.6M440.4 264.8l0.3 1.0M450.8 283.3l-0.3 0.5M433.3 255.0l0.1 0.3M386.2 281.2l-0.0 0.1M430.2 237.6l0.6 0.2M431.9 243.7l0.8 0.2M439.3 281.6l0.5 0.5M447.3 245.3l-0.0 0.0M423.8 242.9l-0.2 0.2M409.4 296.9l-0.1 0.2M394.5 268.0l0.7 0.2M429.7 271.4l-0.2 1.0M379.7 240.3l-0.1 0.5M402.8 253.8l0.0 0.2M428.2 292.2l1.0 0.0M384.5 241.5l0.4 1.0M372.4 279.4l-0.1 0.1M406.8 242.0l-1.1 0.2M440.5 251.3l-0.3 0.9M397.3 290.4l-0.5 0.0M395.8 290.0l-0.0 0.0M403.3 269.0l0.3 0.4M391.1 257.9l0.5 0.1M434.2 281.6l-0.0 0.1M423.3 265.6l0.9 0.3M396.1 279.8l-0.9 0.3M406.4 261.4l-0.9 0.3M377.4 234.5l-0.1 0.0M404.0 259.6l-0.4 0.4M389.8 259.0l0.1 0.1M452.0 242.3l0.0 0.1M416.1 281.0l-0.5 0.5M450.6 257.6l-0.8 0.0M444.4 258.9l-0.7 0.5M451.1 258.2l-0.0 0.6M385.0 260.3l-0.5 0.8M432.2 273.0l-0.5 0.3M445.2 280.3l-0.3 0.8M438.7 290.2l-0.1 0.1M423.4 258.5l1.0 0.3M445.4 247.7l0.4 0.2M436.8 244.8l-0.3 0.2M374.5 280.4l-0.7 0.1M386.5 234.2l0.6 0.6M438.7 260.3l0.1 0.0M433.3 265.3l1.0 0.0"/>
<path stroke="#7466c0" stroke-opacity="0.9" stroke-width="2.8" d="M376.6 294.0l-0.3 0.0M400.8 249.7l-0.4 0.2M448.2 243.8l-0.1 0.2M406.2 261.2l0.5 0.6M372.6 241.4l-0.5 0.5M423.2 264.8l0.2 0.1M432.7 263.0l0.3 0.3M423.6 233.9l0.5 0.2M454.0 287.4l-0.1 0.3M423.3 255.7l-0.1 0.6M396.3 255.6l0.6 0.2M451.3 241.0l0.4 0.2M431.1 296.3l-0.4 0.2M427.0 240.6l0.0 0.0M391.5 256.1l-0.4 0.3M402.9 268.8l-0.6 0.5M396.0 288.0l0.0 0.8M422.9 261.9l-0.1 0.5M379.6 265.2l-0.8 1.0M455.8 291.3l0.2 0.1M424.5 272.5l-0.2 0.2M443.2 292.2l0.9 0.4M399.7 257.4l0.5 0.3M432.4 277.0l0.8 0.5M377.4 244.1l-0.1 0.4M447.9 296.0l-0.0 1.0M400.4 279.8l-1.1 0.3M395.1 273.3l0.2 0.1M374.8 253.9l0.8 0.7M435.8 238.6l-0.4 0.1M398.6 249.5l-0.5 0.3M401.9 275.8l0.3 1.1M406.6 232.1l-0.5 1.0M423.0 244.4l-1.1 0.0M376.2 246.7l0.2 1.0M418.2 249.4l1.1 0.4M431.4 252.5l0.4 0.8M413.2 264.2l0.0 0.1M410.2 286.8l0.1 0.5M449.2 253.7l0.1 0.0M419.5 258.9l-0.0 0.8M420.2 277.5l-0.7 0.0M416.3 253.0l0.8 0.3M384.8 278.9l0.1 0.1M454.5 270.9l1.0 0.5M443.5 235.1l-0.0 0.2M372.0 294.3l0.1 0.2M397.5 263.5l0.7 1.0M376.8 268.4l-0.5 0.1M405.5 236.0l-0.1 0.0M393.2 267.0l-0.6 0.9M403.0 232.8l-0.0 0.0M384.8 242.1l-0.8 0.4M434.6 257.1l-0.0 0.4M381.8 288.0l0.1 0.0M423.4 237.0l-0.0 0.0"/>
<path stroke="#7466c0" stroke-opacity="0.9" stroke-width="3.2" d="M424.7 256.8l-0.3 0.4M384.0 266.9l-0.1 0.0M454.3 281.3l0.8 0.6M390.0 251.1l0.5 1.2M452.8 287.7l-0.8 0.1M440.2 257.7l-1.2 0.0M434.9 286.0l-0.4 0.2M435.3 263.6l-1.3 0.0M407.4 293.2l-1.2 0.3M416.3 252.4l0.7 0.3M396.4 246.4l-0.9 0.6M452.3 254.9l0.9 0.4M453.8 259.9l1.3 0.5M457.9 235.1l-0.9 0.0M401.6 293.9l0.6 0.4M438.9 280.6l-0.3 0.2M427.3 254.2l0.4 0.9M432.4 294.1l-0.2 0.5M427.6 248.9l0.3 0.0M376.4 264.1l0.1 0.3M430.8 249.2l0.2 0.8M422.3 245.2l0.6 0.6M404.4 287.9l-0.2 0.6M436.1 293.6l0.3 0.7M412.9 270.2l-0.2 0.0M414.1 284.1l-1.4 0.2M428.6 277.1l0.2 0.7M451.3 265.2l-0.9 1.0M419.7 294.2l0.5 0.4M418.2 274.7l0.4 0.2M381.2 265.7l0.1 0.8M409.8 253.7l-0.3 0.9M438.6 262.9l0.6 0.2M421.2 238.7l-0.4 0.8M424.7 272.9l1.3 0.2M394.8 279.5l-0.5 0.1M416.9 287.6l-0.1 0.2M433.4 283.5l0.0 1.2M414.7 256.6l-1.2 0.7M403.2 266.2l1.1 0.5M393.4 234.7l-0.1 0.1M421.1 286.4l0.1 0.0M420.4 289.4l0.1 0.2M377.6 237.2l-0.6 0.5M373.7 233.0l0.0 0.3M396.4 237.9l0.0 0.4M386.5 270.2l-0.2 0.4M378.5 236.8l1.1 0.7M420.8 289.9l-0.1 0.2M384.4 262.6l1.1 0.3M380.7 249.9l0.3 0.0M407.7 242.0l-1.0 1.0M398.2 262.8l0.9 0.1M426.5 287.7l0.2 1.0M431.8 246.4l0.2 0.1M402.9 255.0l1.2 0.4M383.2 266.6l1.0 0.0M414.4 274.8l-0.2 0.2M445.7 233.6l-0.2 0.9M437.8 248.7l0.2 1.0"/>
<path stroke="#7466c0" stroke-opacity="0.9" stroke-width="3.6" d="M420.9 279.7l0.2 0.4M447.0 241.2l-0.1 0.1M431.4 294.0l0.7 0.5M455.1 245.6l0.5 0.0M440.1 265.2l1.5 0.3M390.3 266.7l1.0 0.0M424.7 291.5l-1.5 0.1M438.7 251.6l0.1 0.3M407.1 239.9l0.3 0.4M401.8 294.8l0.9 0.9M441.6 271.1l-0.5 0.4M379.2 262.4l-1.5 0.4M378.6 271.5l0.6 0.9M374.0 291.8l0.4 1.0M442.4 285.1l0.5 0.8M437.1 236.0l-0.3 0.9M389.1 277.4l-0.2 0.2M427.9 288.5l-0.5 0.6M412.4 267.6l1.3 1.0M412.3 262.2l-0.2 1.4M409.6 263.3l0.2 0.1M384.7 283.7l-0.1 0.6M432.0 260.9l0.0 0.0M420.0 239.0l0.0 0.0M402.0 289.4l0.5 1.0M378.1 295.2l-0.0 1.5M447.6 265.7l-0.1 0.2M372.9 249.7l-0.3 0.8M372.7 277.5l1.1 0.5M431.1 281.2l-0.2 1.1M440.3 275.4l0.3 0.9M390.7 239.3l-0.0 0.1M377.6 256.1l0.6 0.5M446.0 261.6l0.4 0.3M405.8 251.8l-0.1 0.1M382.0 262.8l0.3 0.5M422.7 236.6l0.7 0.5M375.5 267.1l-0.4 0.1M429.8 294.7l-0.2 0.5M412.2 239.4l0.1 0.4M416.2 277.9l0.3 0.4M417.1 238.7l0.2 0.3M398.3 295.8l1.3 1.0M431.3 252.1l-0.6 1.1M454.3 252.4l0.7 0.6M395.0 238.9l-0.1 0.3M422.7 263.4l-0.9 0.5M390.4 266.8l-0.4 0.4"/>
<path stroke="#7466c0" stroke-opacity="0.9" stroke-width="4" d="M413.5 274.5l0.9 0.4M447.4 234.6l-1.3 0.0M420.8 244.0l0.8 0.2M444.4 276.6l-1.1 0.7M443.9 264.9l-0.9 0.2M389.7 252.4l-0.9 1.0M444.9 259.4l-0.0 0.0M448.3 276.9l-1.5 0.1M419.4 288.1l0.4 0.3M450.4 270.9l-0.3 0.2M407.1 279.5l1.3 0.2M455.0 283.4l0.6 0.9M441.7 267.0l1.3 0.0M431.3 295.8l-0.6 0.9M424.6 288.1l0.5 0.3M373.2 260.7l-0.4 0.6M456.7 238.8l-0.7 0.3M424.6 261.3l0.2 0.2M396.7 258.8l0.4 0.5M453.1 277.5l0.3 0.0M434.2 241.2l0.6 0.8M423.8 265.6l-0.4 0.5M408.7 255.8l-0.5 0.9"/>
<path stroke="#b06024" stroke-opacity="0.9" stroke-width="2" d="M443.6 291.7l-0.2 0.2M396.1 279.3l0.9 0.3M399.3 252.3l-0.4 0.8M372.9 280.6l0.4 0.4M387.0 278.1l0.0 0.1M450.0 285.2l0.2 0.4M392.7 256.9l0.0 0.6M418.5 246.7l0.5 0.1M384.3 249.1l-0.0 0.0M415.0 259.7l0.1 0.1M455.8 246.1l-0.3 0.1M374.4 239.4l0.1 0.2M386.8 275.6l0.1 0.4M455.2 260.2l0.2 0.4M400.1 284.4l-0.0 0.0M414.0 256.9l0.2 0.6M390.4 243.4l0.2 0.2"/>
<path stroke="#b06024" stroke-opacity="0.9" stroke-width="2.4" d="M441.7 290.2l0.1 0.3M427.2 271.0l-0.1 1.1M435.9 295.2l0.0 0.0M440.2 278.4l-0.0 0.1M431.9 262.4l-0.2 0.3M435.7 295.9l-0.3 0.3M417.9 255.1l0.5 0.3M373.5 276.1l0.5 0.7M415.6 239.9l0.5 0.2M376.3 277.9l0.3 0.9M442.8 261.5l-0.3 0.0M417.9 233.4l-0.5 0.2M440.7 265.3l0.5 0.7M381.3 251.0l-0.3 0.2M406.1 260.9l0.2 0.2M415.1 244.5l0.4 0.2M387.2 295.5l-0.2 0.1M384.1 269.6l0.1 0.4M391.1 250.7l0.4 0.8M411.9 283.9l0.8 0.4M395.6 269.0l-1.1 0.2M380.9 266.6l0.1 0.1M399.6 279.9l0.1 0.1M395.7 243.2l0.0 0.1M449.4 280.3l0.5 0.0M371.5 285.0l0.0 0.6M406.0 270.8l0.0 0.0M403.2 294.5l0.6 0.4M418.7 271.8l0.2 0.1M446.7 273.7l0.5 0.2M388.7 291.6l0.1 0.2M431.5 278.1l0.1 0.1M396.5 281.5l0.6 0.6M371.1 281.7l-0.3 0.3M422.8 249.5l0.3 0.4M448.8 293.8l-0.8 0.3"/>
<path stroke="#b06024" stroke-opacity="0.9" stroke-width="2.8" d="M452.2 238.1l0.1 0.3M401.0 267.7l-0.5 0.4M378.0 256.7l0.3 0.3M424.2 287.0l0.8 0.7M420.9 289.0l0.3 0.9M415.7 241.5l0.1 0.1M386.6 266.5l1.1 0.1M372.8 239.9l0.6 0.8M388.9 263.2l-0.2 0.7M426.2 260.6l0.2 0.0M402.3 294.9l-0.6 0.4M407.7 243.3l-0.7 0.7M386.4 281.2l0.3 0.2M437.4 282.0l0.4 0.1M380.3 261.7l-0.8 0.6M418.0 263.4l0.2 0.4M403.0 252.7l0.4 0.3M455.5 243.1l1.1 0.2M389.4 244.7l-0.1 0.5M408.9 291.6l-0.8 0.9M421.5 295.4l-0.1 1.1M377.5 269.0l-0.1 0.3M421.8 273.0l-0.9 0.4M447.5 287.1l-0.5 0.4M401.8 245.5l-0.1 0.2M449.9 285.1l-0.8 0.6M401.0 289.4l0.5 0.3M399.0 295.8l0.2 0.4M438.5 286.5l-0.8 0.4"/>
<path stroke="#b06024" stroke-opacity="0.9" stroke-width="3.2" d="M389.6 236.4l-0.4 0.6M386.4 281.1l0.2 0.4M377.6 265.3l0.0 0.3M419.5 235.4l1.0 0.9M409.1 237.8l0.4 0.5M453.8 266.0l0.7 0.0M433.4 236.6l-0.0 0.0M380.7 280.7l-0.1 0.3M382.5 267.7l0.0 0.1M396.9 269.1l-0.7 0.2M392.5 239.4l0.6 1.3M409.1 259.3l-1.2 0.3M413.0 288.2l-0.1 1.0M409.1 272.8l0.0 0.6M374.2 284.5l0.4 0.9M399.2 244.0l0.3 0.8M419.9 240.8l0.9 0.2M410.9 293.0l0.1 0.1M408.2 295.5l0.6 1.1M451.5 245.6l-0.2 0.7M439.1 296.7l0.0 0.6M422.6 256.5l0.6 1.2M433.8 287.1l0.7 0.3M441.6 236.6l0.9 0.3M440.8 286.9l-0.3 0.6"/>
<path stroke="#b06024" stroke-opacity="0.9" stroke-width="3.6" d="M406.1 254.7l1.5 0.2M381.9 287.4l-0.0 0.7M382.6 254.8l-0.2 0.7M452.1 232.6l-0.3 0.1M390.9 257.1l0.0 0.1M444.2 238.7l-0.4 0.1M380.9 293.5l0.3 1.0M424.1 291.0l-1.5 0.1M381.9 238.6l-0.7 0.3M443.7 282.6l-0.5 0.9M413.5 274.8l0.2 0.2M383.4 249.6l0.6 0.6M375.8 264.1l0.2 0.8M386.8 277.9l-0.0 0.0M385.4 243.0l0.3 0.6M447.8 262.7l-0.5 0.4M409.1 251.3l-0.1 0.1M395.7 277.1l-0.4 0.2M380.4 277.2l-0.8 0.0M382.7 250.7l-0.0 0.0M414.2 275.1l0.2 0.9M423.3 234.3l1.5 0.1M410.4 252.6l0.1 0.2"/>
<path stroke="#b06024" stroke-opacity="0.9" stroke-width="4" d="M392.7 237.8l-0.6 0.5M440.0 280.1l-0.6 0.0M411.3 280.6l0.0 0.0M431.1 248.2l0.7 1.2M408.0 246.9l-1.8 0.2M438.4 259.8l1.8 0.0M421.4 251.3l-0.4 0.2M400.1 233.3l-1.5 0.7M376.8 291.0l-1.1 1.3M377.6 260.0l-0.3 1.0M399.2 255.8l-0.4 1.1M407.9 286.2l0.9 0.9M378.1 260.8l0.2 0.1M408.0 283.9l1.0 0.9M452.1 257.9l-0.5 1.3M390.5 243.9l-0.5 0.8M377.6 285.3l0.4 1.0M454.7 240.6l0.7 0.6M438.6 295.3l0.9 1.2M409.3 293.3l-0.3 1.5"/>
<path stroke="#8a4012" stroke-opacity="0.9" stroke-width="1.6" d="M432.7 242.7l-0.7 0.2M455.9 256.7l-0.4 0.4M371.7 291.1l0.3 0.3M400.3 232.3l0.5 0.4"/>
<path stroke="#8a4012" stroke-opacity="0.9" stroke-width="2" d="M396.8 278.0l-0.4 0.1M421.3 262.1l-0.0 0.5M399.6 261.9l-0.2 0.7M425.4 296.4l0.6 0.6M412.5 267.5l-0.0 0.3M450.6 259.7l-0.0 0.1M447.8 232.8l0.0 0.2M428.0 267.8l0.1 0.2M453.5 274.4l-0.4 0.0M457.3 296.6l0.0 0.5M447.4 265.8l0.4 0.3M378.7 259.7l0.1 0.8M396.2 289.5l0.5 0.1M402.8 271.3l0.3 0.5M444.3 240.7l0.1 0.2M385.4 286.8l-0.4 0.4M379.3 238.8l0.3 0.2"/>
<path stroke="#8a4012" stroke-opacity="0.9" stroke-width="2.4" d="M403.7 280.8l0.3 0.0M405.8 257.2l0.5 0.8M420.6 242.4l-0.8 0.2M393.3 265.5l-0.3 0.8M420.3 257.8l0.8 0.4M432.9 247.4l-0.1 0.0M419.1 243.8l-0.5 0.4M440.9 282.1l0.0 0.0M425.7 246.8l0.5 0.3M428.8 289.4l0.2 0.6M449.3 278.1l0.1 0.3M446.8 256.1l-0.9 0.3M374.2 289.0l0.9 0.4M385.1 241.8l-0.9 0.1M443.2 255.6l-0.8 0.1M370.9 234.9l0.4 0.1M421.0 276.1l-1.0 0.2M393.1 264.3l-0.4 0.3M417.5 286.9l0.7 0.1"/>
<path stroke="#8a4012" stroke-opacity="0.9" stroke-width="2.8" d="M385.0 286.5l-0.5 0.4M396.1 249.0l-0.2 0.3M412.6 275.9l0.0 0.1M427.6 255.9l0.1 0.3M412.3 254.8l-0.7 0.1M410.2 289.7l-0.1 0.2M442.5 287.9l0.0 0.3M437.6 241.8l-0.5 0.2M437.4 273.4l-0.0 0.1M420.1 253.5l-0.3 0.2M448.6 296.7l0.4 0.3M408.5 248.2l-0.9 0.2M401.9 281.4l0.7 0.5M371.8 272.4l-0.6 0.4M413.9 286.3l-0.2 0.0M436.6 236.8l-0.8 0.6M390.8 289.3l0.1 0.1"/>
<path stroke="#8a4012" stroke-opacity="0.9" stroke-width="3.2" d="M384.8 282.0l0.2 0.1M374.7 296.0l-0.4 0.0M386.4 257.5l0.5 0.7M385.0 249.5l1.3 0.2M401.6 245.9l-0.1 0.3M450.5 233.4l-1.1 0.4M421.4 263.0l-0.0 0.0M410.0 262.5l0.8 0.7M445.6 295.1l0.6 1.0M455.4 249.4l1.0 0.7M382.4 270.7l0.4 0.7M434.7 271.8l-0.5 1.0M385.7 233.9l-0.4 0.5"/>
</g></g>
<line x1="442" y1="290.1" x2="450" y2="290.1" stroke="#111" stroke-width="1.4"/>
<clipPath id="c9"><rect x="460" y="168.3" width="82.6" height="61.3"/></clipPath>
<g clip-path="url(#c9)"><g filter="url(#bl)" stroke-linecap="round" fill="none">
<rect x="458" y="166.3" width="86.6" height="65.3" fill="#b8b2ac"/>
<path stroke="#6e60c2" stroke-opacity="0.88" stroke-width="2" d="M501.6 224.7l-0.2 0.5M471.9 181.8l-0.5 0.1M534.8 223.5l0.0 0.4M465.2 201.5l0.0 0.1M506.3 211.6l-0.3 0.3M510.6 178.0l0.0 0.3M474.7 180.7l-0.1 0.0M537.6 229.4l0.2 0.2M530.0 199.6l0.4 0.5M503.8 170.9l0.8 0.1M471.3 177.0l-0.8 0.0M525.4 210.0l0.1 0.1M542.5 177.2l-0.2 0.8M540.1 188.9l0.2 0.0M537.0 202.2l0.5 0.4M506.5 212.1l-0.4 0.5M525.4 213.4l-0.1 0.4M539.4 203.9l-0.2 0.2M510.7 218.9l0.1 0.4M528.6 195.8l-0.2 0.1M534.8 203.6l-0.7 0.3M489.0 227.0l0.0 0.1M478.2 171.7l0.4 0.0M522.8 175.5l-0.6 0.3M480.3 220.4l0.1 0.3M492.4 179.9l0.0 0.1M505.5 178.0l-0.6 0.4M487.4 179.0l-0.1 0.6M537.6 177.3l0.1 0.0M505.0 213.0l-0.0 0.5M504.8 213.1l0.0 0.0M497.1 216.1l-0.0 0.2M499.1 204.7l-0.5 0.1M524.9 196.2l-0.7 0.1M487.3 195.6l-0.7 0.4M533.2 166.7l0.9 0.3M460.0 187.6l0.3 0.5M511.0 188.3l-0.2 0.0M458.9 201.0l0.0 0.3M521.6 172.9l0.1 0.1M460.8 205.1l0.1 0.1M502.3 213.9l0.0 0.0M469.4 169.9l-0.7 0.1M518.4 208.2l-0.7 0.2M486.7 227.1l0.2 0.4M518.8 223.9l0.1 0.7M478.9 226.0l-0.7 0.5M519.4 215.4l0.1 0.1M511.5 173.0l0.1 0.4M514.0 188.3l-0.3 0.7M521.4 196.5l-0.1 0.1M484.3 189.1l0.2 0.2M474.4 209.4l-0.5 0.5M480.2 191.2l-0.5 0.2M527.1 220.0l0.3 0.9M514.0 218.8l-0.3 0.5M479.9 225.9l-0.8 0.5M536.1 183.2l-0.1 0.7M484.3 200.2l-0.3 0.0M467.0 192.9l-0.0 0.0M459.5 196.4l0.8 0.2M536.6 202.0l-0.4 0.3"/>
<path stroke="#6e60c2" stroke-opacity="0.88" stroke-width="2.4" d="M497.7 190.7l0.9 0.0M480.7 179.7l0.7 0.5M506.2 205.9l-0.3 0.0M511.0 168.7l-0.2 0.8M525.2 171.5l-0.3 1.0M472.8 221.4l-0.1 0.0M477.3 166.9l-0.1 0.5M530.2 173.2l-0.2 0.2M490.0 207.6l-0.0 0.3M527.4 169.6l-0.3 0.9M477.2 170.0l-0.3 0.2M510.2 198.0l0.3 0.9M534.4 214.0l0.3 0.5M517.7 189.6l0.1 0.3M536.6 215.5l0.0 0.2M516.7 181.1l0.4 0.8M505.1 225.1l-0.1 0.2M475.3 220.6l0.1 0.1M461.4 177.4l0.5 0.3M482.9 197.4l-0.4 0.8M498.1 174.3l0.2 0.1M512.9 227.1l0.4 0.6M540.9 230.3l0.0 0.0M504.0 209.5l-0.7 0.3M482.9 197.7l-0.0 0.0M528.7 182.6l-0.2 0.2M519.6 183.6l0.5 0.5M543.6 213.8l-0.0 0.0M505.4 219.4l-0.3 0.2M498.4 190.2l-0.4 0.2M538.9 207.0l0.6 0.3M463.5 218.2l-0.1 0.1M468.8 181.4l-0.5 0.8M539.6 184.4l0.3 0.0M464.5 178.6l-0.4 0.6M511.5 210.0l0.8 0.2M540.2 229.4l-0.6 0.3M502.5 186.8l0.1 0.0M543.6 192.9l-0.5 0.9M462.3 183.5l-0.3 0.1M499.0 176.2l0.2 0.8M468.6 191.0l-0.2 0.4M477.1 190.0l1.0 0.0M497.9 208.7l0.9 0.3M462.2 230.2l0.7 0.1M486.1 171.7l0.0 0.0M465.7 231.5l0.3 0.2M511.1 181.7l-0.7 0.7M485.8 206.8l-0.6 0.8M536.8 191.0l-0.4 0.1M537.4 226.5l-0.0 0.0M507.6 188.3l0.3 0.1M461.3 198.5l-0.0 0.2M507.3 168.1l-0.2 0.4M536.2 218.3l-0.3 0.3M462.1 191.7l0.1 0.2M505.8 219.9l-0.2 0.0M477.2 230.7l-0.2 1.1M532.6 222.7l0.3 0.1M490.9 171.7l-0.6 0.2M473.4 202.9l-0.3 0.2M464.1 222.7l-0.0 0.6M516.7 223.1l0.3 0.4M502.3 211.6l0.1 0.1M500.3 193.6l0.0 0.1M507.2 228.0l-0.7 0.6M494.5 184.2l0.1 0.1M477.7 196.2l0.4 0.2M514.4 225.6l0.9 0.6M477.1 168.7l-0.1 0.8M519.4 229.5l0.0 0.6M459.0 196.8l0.1 0.0M544.1 229.6l0.0 0.7M469.4 203.9l0.1 0.1M492.8 197.5l0.3 0.3M528.4 189.5l-0.4 0.1M519.1 211.1l0.6 0.5M537.5 224.7l0.0 0.0M499.7 179.1l0.3 0.2M542.6 214.5l0.1 0.1M482.9 181.4l-0.2 0.2M472.8 224.2l-0.1 0.1M520.6 176.6l-0.3 0.6M508.9 192.0l0.2 0.1M512.1 173.8l-0.8 0.4M523.7 228.1l-0.6 0.1M472.1 220.4l0.7 0.6M510.0 229.1l0.5 0.3M465.7 166.6l-0.2 0.1M482.4 207.5l0.0 0.1M520.2 220.0l0.8 0.2"/>
<path stroke="#6e60c2" stroke-opacity="0.88" stroke-width="2.8" d="M508.7 216.7l0.8 0.3M537.4 193.6l0.7 0.2M507.6 177.5l1.3 0.2M527.2 187.6l0.0 0.3M479.6 214.5l-0.3 0.0M463.6 179.9l-0.7 0.1M488.6 175.5l0.2 0.0M524.8 223.8l0.1 0.0M491.7 177.0l-0.1 1.2M518.2 195.8l0.8 0.1M511.1 210.6l0.1 0.0M459.4 228.6l-1.3 0.1M476.2 184.0l-0.2 0.7M495.9 178.4l0.3 0.2M512.4 188.1l-0.5 0.5M459.4 201.9l0.6 0.9M517.5 167.2l-0.6 0.9M513.3 229.2l-1.2 0.1M516.2 200.1l-0.9 0.7M537.7 175.7l0.4 1.1M466.2 229.1l-0.1 0.3M539.9 170.0l-0.6 0.3M482.5 218.2l0.9 0.3M460.2 194.7l-1.1 0.1M458.7 173.9l-0.1 0.2M509.1 207.7l0.0 0.1M458.6 223.0l-0.0 0.6M518.0 186.6l0.6 0.9M542.2 214.6l0.2 0.6M469.4 198.4l0.4 1.0M517.6 204.5l0.3 0.4M513.9 176.0l0.1 0.3M473.2 203.7l0.4 0.8M474.8 231.2l0.5 0.3M496.6 196.7l0.4 0.8M462.2 213.6l-0.1 0.0M494.2 171.5l0.4 0.0M467.9 185.0l0.0 0.4M539.8 191.4l-0.1 0.4M539.4 210.5l-0.7 0.2M532.0 228.8l-0.5 0.8M472.6 180.6l-0.0 0.0M533.2 182.1l-0.4 0.6M510.7 180.1l-0.5 0.8M534.9 167.0l-0.9 0.8M527.9 204.4l-0.0 0.6M538.9 210.3l-0.5 1.1M526.5 181.4l0.7 0.5M501.7 222.6l-0.5 0.0M543.2 201.7l-0.4 0.7M481.6 226.5l-0.3 1.2M497.6 199.9l0.2 1.0M523.0 215.4l0.4 0.4M497.1 209.4l-0.3 0.5M490.4 179.3l-0.2 1.1M514.2 172.1l1.0 0.5M493.1 185.6l0.6 1.0M534.2 224.2l-0.3 0.2M478.9 185.7l-0.1 0.5M541.3 181.9l-0.0 0.2M490.2 194.5l0.4 1.2M534.3 174.6l-1.0 0.5M466.9 172.4l-0.7 0.7M491.3 182.8l0.4 0.4M527.5 209.9l0.0 0.3M487.4 191.4l0.3 0.3M503.2 215.3l0.2 0.5M495.5 211.6l-0.0 0.1M520.8 177.4l0.4 0.0M525.5 199.4l0.9 0.8M492.3 201.0l0.9 0.9M495.6 201.5l0.9 0.5M464.7 181.5l0.0 0.0M489.9 173.2l-0.6 0.6M502.0 226.0l-0.9 0.7M512.2 170.3l0.5 0.7M526.2 199.8l0.2 0.1M500.2 225.3l-1.0 0.6M520.6 209.7l0.2 0.4M472.5 214.6l0.3 1.2M522.6 197.2l-0.5 0.5M476.1 225.4l0.0 0.0M479.1 212.6l0.5 0.2M518.7 227.4l-0.9 0.1M498.3 198.4l-0.0 1.0M502.0 211.5l-0.7 0.5M512.4 169.5l0.6 0.0M525.8 193.8l-0.1 0.0M514.2 171.5l0.8 0.9M521.3 199.6l-0.6 0.0M534.4 196.4l1.2 0.1M488.5 209.4l-0.0 0.1M478.7 189.3l1.2 0.5M476.7 174.4l0.0 1.2M522.6 205.1l-0.9 0.4M502.2 169.2l-0.3 0.2M519.1 204.1l-0.4 0.6M539.7 226.7l-0.1 0.1M533.0 171.4l0.8 0.7M483.9 196.4l1.2 0.2M524.7 205.3l-1.0 0.4M523.8 206.4l0.0 0.0M525.2 204.7l0.1 0.3M478.2 184.9l-0.1 0.0M507.4 219.0l-0.5 0.9M522.5 194.1l0.8 0.4M483.3 192.9l0.1 0.1"/>
<path stroke="#6e60c2" stroke-opacity="0.88" stroke-width="3.2" d="M461.7 190.8l-0.4 0.5M482.9 210.2l0.6 0.2M543.9 173.8l1.0 0.9M486.2 172.1l-0.1 0.1M460.4 217.0l-0.5 0.6M492.9 190.4l-0.3 0.5M503.8 177.6l-0.1 0.1M504.5 185.7l1.0 0.3M504.6 167.8l-0.4 0.3M542.6 190.3l-0.0 0.7M504.7 178.4l0.8 0.4M473.4 206.3l0.9 0.0M500.9 170.0l0.1 0.6M461.5 192.8l-0.7 0.1M503.6 186.6l0.3 0.0M461.8 167.1l0.5 1.0M534.1 219.8l0.2 0.2M473.7 208.2l0.2 0.9M475.4 196.9l-0.5 0.5M513.7 186.3l0.1 1.1M504.2 175.6l-0.1 0.9M464.4 229.0l0.9 0.5M524.6 190.6l-0.2 0.0M534.7 203.3l0.9 0.0M526.1 223.3l-0.7 0.3M499.7 221.8l-0.0 0.1M474.4 218.6l0.1 0.7M476.7 168.6l-0.1 0.3M481.5 189.4l0.5 0.6M504.1 186.7l0.0 0.6M522.2 178.2l0.6 0.1M489.4 202.4l-0.9 0.1M488.8 197.7l-1.3 0.2M463.1 217.4l-1.0 0.7M484.4 209.0l0.0 0.0M511.6 173.3l0.1 0.0M530.9 186.8l-0.2 0.3M468.6 213.9l-0.1 0.2M511.4 179.2l1.2 0.3M508.3 176.2l0.4 0.0M540.8 172.1l0.3 1.1M463.6 211.8l-0.2 0.6M525.2 202.0l0.0 1.1M498.1 178.8l0.3 1.0M463.4 212.2l0.8 0.4M534.6 213.8l0.1 0.2M542.0 225.9l-0.2 0.4M514.3 174.3l-0.4 0.3M532.1 204.9l-0.2 0.6M539.3 171.6l0.2 1.0M512.4 226.6l-0.1 1.0M536.3 207.3l0.3 0.4M515.7 231.0l-0.7 1.1M531.1 217.6l0.3 0.8M507.1 189.8l0.7 1.0M478.5 213.0l-1.3 0.1M496.9 181.8l0.3 0.1M530.0 197.1l-0.3 0.0M478.1 215.7l0.5 1.2M539.3 215.9l-0.1 0.1M534.8 210.2l1.1 0.6M481.2 217.0l0.5 0.1M501.2 202.6l-0.1 0.9M525.6 209.6l-0.0 0.0M533.1 175.5l1.3 0.1M460.2 206.9l0.7 0.8M532.6 178.2l0.1 0.7M481.5 188.5l-0.4 0.0M525.3 223.7l0.7 0.7M469.5 172.0l0.5 1.1M505.3 183.1l-0.8 1.0M484.2 179.4l-0.6 0.4M484.0 170.8l1.1 0.1M509.0 197.7l0.0 0.0M492.1 224.6l0.2 1.3M484.5 186.0l0.4 1.2M474.1 205.1l0.5 0.6M522.1 168.6l0.1 0.0M496.7 213.2l-0.0 0.6M502.8 199.2l-0.1 0.1M462.5 197.1l0.2 0.3M506.4 223.0l0.1 0.4M537.7 227.7l1.1 0.7M494.6 174.0l0.8 0.1M524.2 184.5l0.4 1.0M472.9 188.6l0.7 0.5M466.0 170.4l-0.9 0.4M499.5 229.0l0.2 0.4M462.3 200.2l-0.1 0.7M466.3 197.3l0.9 0.9M517.0 225.4l-0.2 1.0M507.0 200.0l-0.0 0.6M531.3 216.4l-0.6 1.1M522.3 210.7l0.1 0.8M461.0 193.0l-0.0 0.3M486.7 172.2l-0.0 0.1M502.0 221.6l0.5 0.4M478.0 213.8l0.2 0.5M492.0 187.0l0.3 0.1"/>
<path stroke="#6e60c2" stroke-opacity="0.88" stroke-width="3.6" d="M460.1 194.0l-0.1 0.2M468.3 204.1l0.3 0.0M496.6 192.5l0.9 0.1M472.5 228.1l1.0 0.0M524.3 191.2l-0.2 0.2M539.6 167.5l-0.2 1.4M503.4 201.3l-0.0 0.1M510.4 190.6l-0.3 0.2M521.2 207.1l-0.0 0.1M475.1 195.0l0.0 0.0M543.2 217.4l-1.3 0.5M513.9 192.0l0.7 0.3M510.0 201.9l0.0 0.0M495.1 221.0l-1.0 1.2M465.9 189.4l-1.2 0.1M474.4 200.6l-0.4 0.7M489.5 209.3l-0.0 0.5M535.3 168.3l0.1 0.5M497.5 170.5l-0.6 0.1M491.1 184.1l-0.3 0.1M518.7 225.6l-0.3 0.2M471.8 171.9l-0.1 0.1M473.7 170.9l-0.1 0.2M542.8 180.0l0.3 0.1M524.4 211.1l-0.3 1.4M520.0 188.6l0.0 0.0M490.5 191.2l-1.3 0.5M514.6 191.9l0.5 0.2M487.5 198.5l-1.4 0.2M504.0 166.6l0.2 0.1M461.7 212.0l1.2 0.4M518.1 222.9l-1.3 0.1M508.0 195.7l1.1 0.2M509.8 206.2l-0.3 0.5M527.9 205.6l0.4 0.8M495.6 191.7l-0.1 0.0M518.6 207.3l0.1 0.6M462.7 219.4l0.9 0.4M505.6 176.3l0.4 0.1M513.7 171.8l-0.3 0.5M492.6 220.3l0.4 0.5M521.8 226.0l-1.3 0.9M499.8 167.2l0.8 0.4M489.7 172.8l0.3 0.7M487.1 209.3l0.9 0.7M488.3 197.3l0.9 0.5M521.6 209.4l-0.3 0.5M535.6 166.7l-1.1 0.5M504.1 180.8l-0.7 1.3M529.3 188.9l-0.5 0.7M508.1 225.7l0.3 0.4M497.0 218.6l-0.2 0.9M487.3 186.2l0.8 1.0M540.1 182.6l1.0 0.0M458.9 169.4l-0.0 0.6M525.0 223.0l-0.3 0.8M530.3 178.0l0.4 0.2M483.0 184.5l0.0 0.0M543.0 203.3l-0.3 0.2M512.3 172.9l0.9 0.3M491.9 192.2l-0.1 1.4"/>
<path stroke="#c47a3c" stroke-opacity="0.8" stroke-width="1.2" d="M494.4 186.1l-0.2 0.0M464.2 191.5l-0.1 0.1M505.6 213.9l-0.0 0.2M508.9 172.5l-0.1 0.3M467.6 199.4l-0.1 0.1M499.3 190.3l-0.2 0.0M536.9 205.2l0.2 0.2M514.2 231.5l-0.4 0.2M543.2 211.3l0.1 0.3M512.4 221.2l-0.4 0.1M515.2 184.0l0.1 0.0M466.6 173.5l-0.2 0.2M515.9 173.4l-0.1 0.1M507.5 174.5l0.0 0.1M506.5 213.0l0.0 0.2M486.6 229.4l-0.3 0.3M480.9 220.6l-0.4 0.1M460.0 200.3l-0.2 0.4M485.0 205.9l0.0 0.5M495.7 199.6l-0.2 0.0M528.7 203.6l-0.3 0.1M537.1 183.6l-0.3 0.1M526.7 169.2l0.1 0.3M489.3 203.5l0.3 0.0M518.8 180.1l-0.1 0.3M532.8 218.6l-0.0 0.1M485.2 174.2l0.1 0.3M533.5 187.1l0.3 0.2M491.2 228.3l0.0 0.0M481.7 212.8l-0.0 0.0M493.7 188.5l-0.2 0.1M543.0 207.8l0.3 0.1M477.8 224.7l0.3 0.4M489.4 212.0l0.3 0.2M538.1 204.6l0.2 0.1M523.5 211.6l-0.1 0.3M482.6 218.0l0.3 0.3M522.7 191.6l0.1 0.0M509.6 228.4l0.2 0.3M458.5 217.2l0.2 0.1M492.4 184.5l-0.0 0.0M462.9 183.9l-0.4 0.2M506.5 170.5l-0.2 0.4M458.9 173.8l-0.3 0.0M462.7 197.9l-0.2 0.0"/>
<path stroke="#c47a3c" stroke-opacity="0.8" stroke-width="1.6" d="M538.6 226.0l0.1 0.1M472.9 191.1l-0.6 0.0M519.9 227.4l0.2 0.0M500.6 178.4l0.1 0.1M476.2 210.8l0.0 0.0M524.3 196.2l0.1 0.1M524.7 188.2l-0.0 0.0M498.7 171.0l-0.6 0.1M510.4 175.9l0.3 0.1M537.4 170.4l0.0 0.2M459.4 186.0l-0.0 0.1M484.0 180.3l0.0 0.0M459.6 203.7l0.1 0.2M524.3 187.4l-0.0 0.5M534.6 214.7l0.1 0.1M462.0 207.0l-0.5 0.3M458.0 167.2l0.0 0.1M461.0 186.3l0.0 0.5M534.3 175.9l0.0 0.7M461.7 199.9l0.3 0.2M491.2 185.9l0.4 0.0M507.8 231.2l-0.7 0.1M517.0 167.3l-0.2 0.0M472.6 166.5l0.6 0.2M482.0 178.6l-0.6 0.1M535.4 217.7l0.0 0.0M511.5 191.0l0.1 0.5M541.4 174.8l-0.2 0.1M516.3 186.6l0.1 0.6"/>
<path stroke="#c47a3c" stroke-opacity="0.8" stroke-width="2" d="M480.6 219.6l-0.7 0.4M473.8 221.9l0.7 0.1M488.2 225.2l0.3 0.4M487.0 222.8l0.2 0.4M535.6 195.4l0.6 0.3M508.2 196.8l0.0 0.5M510.3 173.6l0.4 0.8M489.8 228.4l-0.0 0.2M468.7 216.3l0.1 0.5M464.1 223.0l-0.2 0.8M500.2 203.0l0.2 0.0M514.6 170.4l0.3 0.4M513.1 217.0l0.6 0.2M489.4 195.1l-0.0 0.0M486.9 222.4l-0.0 0.1M537.3 193.9l-0.2 0.2M459.8 186.3l0.1 0.6M530.0 215.0l-0.1 0.6M542.2 219.7l0.3 0.4M527.2 174.5l0.1 0.0M519.7 186.5l0.8 0.5M457.8 223.7l0.7 0.5M492.8 210.4l0.1 0.5M486.8 195.9l-0.0 0.1M474.9 180.9l0.2 0.5M479.1 195.2l0.0 0.0M486.0 190.5l-0.2 0.7M502.1 176.2l0.5 0.3M520.1 205.0l-0.2 0.1M523.0 183.6l0.0 0.2M516.6 220.6l0.3 0.2M513.2 209.4l-0.5 0.5M497.0 221.7l0.1 0.1M490.2 178.9l0.0 0.2M517.9 202.2l0.6 0.1M469.4 207.4l-0.2 0.7M528.6 190.8l-0.2 0.1M514.9 180.3l0.3 0.5"/>
<path stroke="#c47a3c" stroke-opacity="0.8" stroke-width="2.4" d="M531.5 198.9l-0.6 0.6M515.6 190.2l0.2 1.0M515.4 228.8l0.4 0.8M505.5 214.5l0.0 0.1M490.3 181.1l-0.1 1.1M468.1 210.6l-0.1 0.0M460.1 186.9l0.6 0.8M510.9 205.1l0.8 0.1M533.0 199.3l-0.3 0.5M474.1 203.5l-0.2 0.5M490.4 230.8l-0.2 0.6M540.1 229.8l0.2 0.3M505.7 215.1l0.1 0.2M460.4 173.7l0.1 0.0M520.7 200.2l0.1 0.2M517.0 213.5l-0.6 0.1M500.8 167.1l0.1 0.1M525.0 172.9l-0.5 0.4"/>
<path stroke="#a8501c" stroke-opacity="0.8" stroke-width="1.6" d="M527.9 222.8l-0.4 0.2"/>
<path stroke="#a8501c" stroke-opacity="0.8" stroke-width="2" d="M497.0 193.4l0.7 0.5M489.1 211.4l-0.4 0.2M529.6 226.7l0.4 0.4M497.9 169.0l0.2 0.6"/>
<path stroke="#a8501c" stroke-opacity="0.8" stroke-width="2.4" d="M467.5 176.3l0.2 0.2M482.0 199.2l-0.2 0.2M494.2 217.9l-0.2 0.2M487.7 224.3l-0.4 0.6M464.2 179.1l0.4 0.3M493.8 184.9l0.7 0.4M511.5 190.7l0.0 0.0M462.4 213.0l-0.1 0.5"/>
<path stroke="#a8501c" stroke-opacity="0.8" stroke-width="2.8" d="M477.9 182.5l-0.3 0.1M473.1 187.7l0.4 0.2M529.5 214.9l0.9 0.1M526.4 231.4l0.1 0.0M516.5 220.6l0.0 0.1"/>
<path stroke="#a8501c" stroke-opacity="0.8" stroke-width="3.2" d="M526.4 192.8l0.0 0.2M512.6 218.1l-0.2 0.9"/>
</g></g>
<line x1="529.1" y1="224.2" x2="537.1" y2="224.2" stroke="#111" stroke-width="1.4"/>
<clipPath id="c10"><rect x="460" y="234.5" width="82.6" height="61"/></clipPath>
<g clip-path="url(#c10)"><g filter="url(#bl)" stroke-linecap="round" fill="none">
<rect x="458" y="232.5" width="86.6" height="65" fill="#cac4ae"/>
<path stroke="#8078c4" stroke-opacity="0.85" stroke-width="1.6" d="M507.7 260.2l-0.5 0.3M543.1 295.5l0.0 0.0M519.7 253.9l-0.1 0.3M541.7 259.5l0.3 0.1M543.2 251.0l-0.4 0.1M474.6 255.2l0.1 0.0M494.7 275.5l-0.1 0.3M464.1 259.9l0.0 0.2M482.7 244.6l-0.5 0.1M542.5 288.7l-0.1 0.6M532.5 258.3l-0.0 0.1M492.6 269.8l-0.4 0.5M487.6 268.7l0.3 0.2M489.3 256.9l-0.2 0.0M502.1 290.2l0.6 0.2M510.8 266.9l-0.3 0.4M542.9 240.5l-0.1 0.2M512.0 291.0l0.0 0.2M500.3 278.6l0.2 0.1M491.8 262.9l-0.2 0.4M506.6 294.3l0.3 0.4M476.0 233.2l0.2 0.2M460.5 262.8l-0.0 0.0M520.7 235.1l0.1 0.3M514.8 297.0l0.4 0.3M494.4 265.9l0.3 0.4M509.7 259.0l-0.0 0.0M516.1 235.6l-0.1 0.4M531.6 274.3l-0.3 0.5M507.8 249.7l-0.2 0.3M458.7 241.7l0.0 0.6M521.3 287.1l-0.0 0.1M506.3 232.3l-0.3 0.5M494.0 293.0l-0.2 0.4M484.0 270.6l0.0 0.0M463.1 274.2l-0.0 0.0M524.2 282.1l-0.0 0.1M483.8 247.5l0.2 0.4M529.5 241.9l-0.1 0.1M518.9 282.2l-0.2 0.1M539.4 250.0l0.2 0.4M530.2 252.9l0.0 0.4M479.1 263.2l-0.2 0.4M536.5 278.6l0.2 0.1M483.8 261.5l0.3 0.1M532.5 236.7l0.7 0.1M530.2 282.2l-0.3 0.4M483.1 247.1l0.5 0.3M480.7 260.9l-0.2 0.0M459.2 259.8l-0.2 0.2M520.7 274.6l0.1 0.0M538.6 280.7l-0.2 0.3M538.4 241.0l0.0 0.2M497.8 280.2l-0.2 0.5M540.8 283.6l-0.0 0.0M518.0 270.3l-0.5 0.2M494.9 294.7l0.2 0.1M475.6 255.3l-0.0 0.0M485.7 253.9l0.0 0.2M537.3 295.2l0.5 0.5M512.6 284.8l-0.1 0.3M539.6 292.7l-0.4 0.1M540.1 257.3l0.4 0.3"/>
<path stroke="#8078c4" stroke-opacity="0.85" stroke-width="2" d="M514.7 242.9l-0.2 0.0M531.8 242.1l0.5 0.2M528.9 283.0l0.4 0.0M503.0 271.4l0.1 0.4M494.4 270.4l0.0 0.2M543.9 263.8l0.1 0.4M521.2 290.8l-0.6 0.2M530.5 233.3l-0.2 0.6M539.1 244.4l-0.8 0.6M487.9 244.8l0.1 0.7M467.5 279.3l-0.5 0.2M507.6 258.2l0.7 0.5M511.2 270.5l0.0 0.0M497.8 242.5l0.1 0.0M520.5 238.2l0.2 0.3M486.8 270.8l0.3 0.0M498.0 289.5l0.1 0.0M523.2 287.8l-0.0 0.0M512.8 278.5l0.1 0.5M499.2 282.0l-0.4 0.6M509.6 251.3l0.3 0.6M534.2 267.9l-0.6 0.7M493.0 278.1l0.1 0.2M523.0 261.7l0.5 0.0M535.5 275.0l0.2 0.8M504.3 280.5l0.1 0.5M542.9 239.0l0.1 0.4M487.5 271.4l-0.4 0.2M491.6 253.4l-0.1 0.0M473.0 289.4l0.3 0.6M525.6 269.3l-0.5 0.1M499.1 296.0l0.8 0.0M502.3 278.6l-0.0 0.2M540.5 264.4l0.1 0.7M502.5 272.0l0.1 0.2M530.0 275.7l0.1 0.7M534.0 234.2l-0.1 0.6M534.3 256.8l0.3 0.8M483.5 260.5l-0.2 0.2M534.0 236.4l-0.9 0.1M504.8 294.5l-0.1 0.4M510.7 258.9l0.3 0.6M526.8 276.5l-0.5 0.2M531.3 282.6l-0.4 0.2M495.5 269.7l0.4 0.2M479.1 238.7l-0.2 0.0M511.4 239.8l-0.2 0.6M532.7 262.3l0.5 0.2M529.2 236.6l0.1 0.4M531.1 296.2l0.0 0.0M523.6 277.5l-0.4 0.6M525.2 281.1l0.1 0.8M494.9 272.4l-0.0 0.3M535.1 262.0l0.0 0.1M505.5 244.5l-0.1 0.0M484.9 286.2l-0.2 0.1M517.9 254.9l0.4 0.2M485.8 265.4l-0.2 0.1M530.0 238.5l-0.0 0.0M464.9 254.0l0.8 0.2M479.0 271.9l-0.3 0.0M541.2 253.3l-0.1 0.4M535.7 260.9l0.7 0.2M507.6 268.4l0.6 0.2M514.0 243.4l-0.0 0.7M473.1 258.9l-0.1 0.0M535.4 294.8l-0.0 0.2M522.4 253.8l-0.7 0.0M514.7 287.9l-0.0 0.0"/>
<path stroke="#8078c4" stroke-opacity="0.85" stroke-width="2.4" d="M544.2 235.2l0.2 0.3M516.5 262.1l-0.1 0.1M495.7 236.7l0.1 0.1M493.8 234.5l-0.1 0.7M525.0 238.3l0.2 1.1M493.8 248.4l0.2 0.1M517.7 274.1l-0.5 0.3M540.9 260.7l1.0 0.1M544.6 289.8l-0.1 0.8M523.8 273.1l-0.0 0.5M480.8 260.9l0.1 0.5M520.9 284.6l-1.1 0.0M540.7 253.7l-0.0 0.1M532.7 267.0l-0.0 0.0M472.7 245.8l0.2 0.2M528.1 269.7l-0.0 0.5M519.5 273.5l0.4 0.3M473.4 273.1l-0.4 0.1M529.5 282.7l0.0 0.2M539.3 240.4l-0.1 1.0M523.0 282.1l-0.2 0.0M543.2 267.1l0.6 0.3M497.5 289.3l0.5 0.1M509.5 233.7l0.5 0.7M478.3 256.8l-0.0 0.0M497.2 255.3l0.2 0.1M520.8 262.9l0.3 0.5M528.0 284.2l-0.1 0.8M527.0 244.5l-0.2 0.5M508.8 241.8l0.6 0.9M532.6 287.4l0.2 0.2M510.2 291.9l0.3 0.4M506.1 294.1l0.2 0.0M466.5 255.6l-0.6 0.7M541.6 251.0l-0.0 0.1M541.3 255.4l-0.5 0.0M504.6 287.6l0.7 0.2M535.7 269.2l-0.3 0.1M535.3 259.9l0.4 0.0M510.7 292.8l-0.0 0.1M531.4 276.4l0.2 0.2M504.9 271.8l-0.6 0.5M503.0 262.7l-0.5 0.4M513.7 264.6l0.6 0.3M517.7 239.1l-0.4 0.3M529.2 284.6l-0.2 0.1M485.8 261.0l0.2 0.1M504.6 286.1l0.1 0.3M510.0 252.4l-0.0 0.1M481.5 288.3l0.5 0.8M479.6 233.3l-1.0 0.1M479.0 257.3l0.6 0.2M495.3 270.4l0.5 0.8M479.7 261.4l0.3 1.0M467.5 288.7l-0.4 0.0M496.2 252.5l0.2 0.2M515.5 252.3l0.5 0.6M497.0 264.9l0.1 0.1M536.0 285.8l0.4 0.8M526.2 259.8l-0.5 0.2M482.4 277.8l-0.7 0.2M500.8 250.0l-0.4 0.7M521.4 289.0l0.7 0.2M537.6 237.1l-0.7 0.4"/>
<path stroke="#8078c4" stroke-opacity="0.85" stroke-width="2.8" d="M539.5 252.0l-0.1 0.4M512.5 245.7l-0.5 0.9M532.7 297.2l0.3 0.6M525.2 289.3l0.2 0.7M484.6 277.2l-0.2 0.4M537.0 278.8l0.2 1.1M479.1 242.4l-0.4 0.6M516.4 265.1l-0.0 0.0M529.6 268.3l-0.1 0.0M530.3 234.5l-0.3 0.3M491.7 283.4l0.0 1.0M537.3 283.4l0.5 0.9M532.6 290.0l-0.2 0.1M504.7 285.5l-0.7 0.4M486.7 236.9l0.2 0.3M504.4 292.6l0.1 0.7M518.1 243.3l0.2 0.0M477.9 259.6l-0.3 0.2M537.3 287.3l0.5 0.6M489.7 239.1l-0.5 0.9M507.5 273.6l-0.4 0.5M494.9 258.0l-0.4 0.2M478.4 262.6l-0.1 0.1M536.3 254.7l-0.3 1.2M470.2 278.7l-0.1 1.1M514.4 256.4l-1.0 0.7M523.3 293.8l0.3 0.6M478.5 242.6l-0.1 0.2M538.2 263.7l-0.0 0.5M530.8 273.9l-0.4 0.8M459.3 281.5l-0.9 0.6M536.1 256.0l-0.9 0.6M537.1 296.5l-0.0 0.7M491.2 296.0l0.0 0.0"/>
<path stroke="#b06428" stroke-opacity="0.9" stroke-width="2.4" d="M500.6 272.2l-0.9 0.2M501.5 265.5l-0.1 0.1M473.0 239.1l-0.5 0.2M472.2 275.3l0.0 0.1M464.6 241.7l0.4 0.9M481.1 244.4l0.3 0.3M514.5 288.9l0.6 1.0M525.1 272.9l0.9 0.3M484.3 249.0l0.2 0.9M519.3 267.4l0.4 0.1M501.1 257.0l-0.2 0.9M474.6 274.9l-0.8 0.6M474.7 248.3l-0.7 0.7M510.8 284.3l-0.8 0.5M483.1 248.9l-0.1 0.6M508.5 297.0l0.4 0.9M508.0 259.9l-0.1 0.4M465.3 236.4l-0.3 0.1M519.9 240.2l-0.1 0.1M510.8 291.3l-0.2 0.0M518.3 270.7l-0.8 0.4M490.4 257.5l-0.0 0.9"/>
<path stroke="#b06428" stroke-opacity="0.9" stroke-width="2.8" d="M505.6 285.6l-0.0 0.0M498.0 282.5l-0.0 0.0M498.6 281.9l-0.9 0.4M494.7 258.5l-0.5 0.1M477.8 237.7l0.9 0.0M475.5 278.9l-0.0 1.1M496.2 253.4l0.1 0.7M504.0 255.7l0.7 0.1M508.0 260.0l0.4 0.2M472.5 293.2l-0.0 0.3M460.2 239.9l-0.7 0.2M508.9 290.6l0.2 0.4M498.9 264.8l0.0 0.0M505.6 287.5l0.5 0.3M500.1 268.9l0.1 0.2M485.7 240.9l1.0 0.5M466.3 241.3l-0.7 0.3M495.5 258.6l-0.3 0.1M498.0 263.0l0.5 0.5M472.8 238.9l-0.0 0.9M495.9 262.3l0.2 0.0M493.9 240.8l-0.1 0.0M492.3 244.7l-0.3 0.2M496.1 264.9l0.6 0.7M504.0 297.1l0.3 0.7M469.6 294.8l0.9 0.7M468.9 237.7l-0.3 0.4M496.0 253.9l0.1 0.4M461.8 236.5l1.2 0.0M505.6 278.2l-1.0 0.4M486.4 248.4l0.3 0.4M502.8 268.2l0.7 0.5M506.2 274.6l0.2 0.2M464.1 238.4l0.7 0.3M508.8 273.9l0.0 0.1M475.1 241.1l-0.4 0.0"/>
<path stroke="#b06428" stroke-opacity="0.9" stroke-width="3.2" d="M506.5 293.0l0.1 1.2M504.3 277.2l0.0 0.0M511.6 277.4l-1.0 0.3M476.7 274.7l-0.5 0.1M487.8 243.3l-0.3 1.4M463.2 262.9l0.2 0.2M470.8 237.4l0.1 0.5M499.5 261.1l1.0 0.5M496.0 251.7l0.8 1.0M486.6 255.8l0.9 0.1M488.8 241.3l-0.9 0.9M511.6 297.3l1.2 0.2M471.5 248.2l0.8 0.8M509.8 294.8l0.5 0.8M490.3 254.9l-0.9 0.2M496.7 270.9l-0.1 0.4M459.7 237.6l0.4 0.4M499.8 258.8l-0.0 0.0M499.8 251.4l0.7 0.3M494.0 252.8l-0.2 0.0M492.1 241.4l-0.2 0.4M483.8 239.8l-0.3 0.4M542.1 248.8l-0.1 0.1M466.9 235.0l-0.6 0.2M512.7 296.4l-0.1 0.0M520.4 287.1l0.2 0.5M538.7 240.3l0.0 0.1M506.0 256.8l-0.8 0.3"/>
<path stroke="#b06428" stroke-opacity="0.9" stroke-width="3.6" d="M513.8 274.2l-1.5 0.3M505.4 240.9l-0.2 0.4M475.7 241.6l-1.3 0.1M501.4 265.6l0.5 0.1M479.9 257.8l0.9 0.2M497.9 260.8l-1.1 0.4M514.3 276.5l-0.2 0.0M501.8 270.9l-0.0 0.0M473.8 294.1l0.3 0.5M512.4 287.8l-0.2 0.7M484.6 243.1l-1.1 0.4M484.5 249.5l0.4 0.8M504.5 289.7l-0.4 0.0M498.1 280.9l-0.2 0.9M510.5 252.0l-0.6 1.3M510.4 295.0l-0.1 0.4M499.4 278.8l0.3 0.3M482.7 244.9l0.8 0.8M499.5 271.2l0.9 0.3M495.1 284.6l-1.0 1.1M492.8 293.0l0.1 0.5M493.3 263.8l-0.2 0.3M484.9 241.6l0.2 1.3M506.3 265.6l0.2 0.4M512.4 283.5l0.6 0.1M482.6 236.4l0.6 0.2M503.1 274.6l0.1 0.8M520.6 253.6l-0.4 0.4"/>
<path stroke="#b06428" stroke-opacity="0.9" stroke-width="4" d="M502.7 292.3l0.1 0.4M471.1 242.4l-0.8 0.1M515.0 262.7l-0.9 0.2M487.8 262.1l-0.2 0.7M525.8 258.4l-0.4 0.0M511.2 272.6l-1.4 0.6M476.8 245.4l0.9 0.5M461.4 237.2l0.3 0.4M493.9 249.4l1.1 1.2M513.6 296.7l-0.1 0.2M481.0 243.4l0.4 1.0M472.8 241.6l0.1 0.2M508.9 281.2l-0.3 1.4M490.2 243.4l0.7 1.3M491.2 253.5l0.1 0.6M512.2 277.3l0.1 1.1M493.8 264.9l-0.0 0.8M526.4 296.6l-0.9 0.9M484.1 273.3l0.0 0.0M476.7 241.8l-0.7 0.4M463.1 255.5l-0.8 1.3M497.1 261.4l1.4 0.9M489.4 274.4l0.1 0.1"/>
<path stroke="#b06428" stroke-opacity="0.9" stroke-width="4.4" d="M480.5 247.8l-0.8 1.0M501.1 257.1l0.1 0.1M495.9 263.7l0.9 1.1M493.0 255.9l-0.0 0.4M516.4 250.6l0.5 1.8M462.9 252.6l-1.2 1.2M502.2 273.8l0.2 0.0M512.2 294.4l0.0 0.4M470.0 240.2l-0.0 0.2M510.6 292.1l-0.6 0.1M527.2 283.4l-0.2 0.1M527.9 242.4l0.2 0.0M497.7 292.6l-0.7 0.3"/>
<path stroke="#8a4214" stroke-opacity="0.9" stroke-width="1.6" d="M491.0 284.0l0.5 0.5M508.3 291.1l-0.2 0.1M465.3 240.0l-0.0 0.4M499.1 272.2l-0.1 0.0M506.2 267.7l0.1 0.2M491.2 252.8l-0.5 0.3M492.7 249.6l-0.1 0.1M476.3 236.1l-0.4 0.0M510.4 238.0l-0.1 0.7"/>
<path stroke="#8a4214" stroke-opacity="0.9" stroke-width="2" d="M513.7 285.0l-0.5 0.1M491.8 243.0l0.6 0.5M471.2 279.3l0.2 0.4M474.9 248.2l0.1 0.3M489.8 246.1l-0.0 0.7M507.5 279.3l0.1 0.3M514.4 296.2l0.1 0.1M501.4 276.0l-0.1 0.1M500.3 286.2l-0.2 0.3M504.0 267.1l0.6 0.5M475.3 243.5l0.0 0.9M501.8 283.6l-0.3 0.6M500.7 252.4l-0.3 0.3M493.5 283.3l-0.2 0.7M499.8 288.4l0.1 0.7M522.7 259.8l0.1 0.1M488.6 241.0l0.2 0.6M494.3 252.1l-0.8 0.0"/>
<path stroke="#8a4214" stroke-opacity="0.9" stroke-width="2.4" d="M458.1 241.8l0.9 0.3M480.0 254.8l-0.1 1.1M460.6 239.4l0.7 0.8M484.5 243.0l-0.6 0.1M471.5 247.7l0.6 0.5M510.1 279.1l-0.0 0.7M517.4 273.3l-0.2 0.4M493.5 250.5l-0.3 0.6M519.0 260.3l0.0 0.7M500.7 264.1l0.3 0.9M504.9 259.0l-0.4 0.7M515.4 291.9l-1.0 0.1M471.5 235.6l0.4 0.1M503.6 286.3l0.9 0.2M525.2 289.5l-0.2 0.2M503.0 279.0l-0.1 0.8M486.9 274.7l0.7 0.7"/>
<path stroke="#8a4214" stroke-opacity="0.9" stroke-width="2.8" d="M506.1 291.7l0.0 0.5M496.8 244.7l0.0 0.1M486.5 239.9l0.4 0.3M510.6 274.2l-0.5 0.1M502.1 287.1l-1.1 0.2M505.0 283.6l0.3 0.2M494.5 254.5l-0.0 0.0M496.0 252.9l0.0 0.0M483.7 293.0l0.4 0.4M504.1 255.6l-0.2 0.3M464.0 240.1l-0.6 0.4M516.6 284.0l-0.3 0.0"/>
<path stroke="#8a4214" stroke-opacity="0.9" stroke-width="3.2" d="M511.8 262.8l-0.1 0.1M509.6 278.2l0.0 0.7M507.0 240.1l-1.1 0.6M500.2 277.8l-0.1 0.1"/>
</g></g>
<line x1="529.1" y1="290.1" x2="537.1" y2="290.1" stroke="#111" stroke-width="1.4"/>
<text x="5.3" y="306.9" font-size="10.4" text-anchor="start" font-weight="bold" fill="#111">F</text>
<line x1="32.8" y1="306.1" x2="32.8" y2="403.9" stroke="#262626" stroke-width="1.3"/>
<line x1="32.2" y1="403.4" x2="179" y2="403.4" stroke="#262626" stroke-width="1.3"/>
<line x1="29.8" y1="403.4" x2="32.8" y2="403.4" stroke="#262626" stroke-width="0.9"/>
<text x="26.5" y="405.6" font-size="7.5" text-anchor="end" fill="#161616">0</text>
<line x1="29.8" y1="371.1" x2="32.8" y2="371.1" stroke="#262626" stroke-width="0.9"/>
<text x="26.5" y="373.3" font-size="7.5" text-anchor="end" fill="#161616">5</text>
<line x1="29.8" y1="338.8" x2="32.8" y2="338.8" stroke="#262626" stroke-width="0.9"/>
<text x="26.5" y="341" font-size="7.5" text-anchor="end" fill="#161616">10</text>
<line x1="29.8" y1="306.5" x2="32.8" y2="306.5" stroke="#262626" stroke-width="0.9"/>
<text x="26.5" y="308.7" font-size="7.5" text-anchor="end" fill="#161616">15</text>
<line x1="30.8" y1="387.25" x2="32.8" y2="387.25" stroke="#262626" stroke-width="0.8"/>
<line x1="30.8" y1="354.95" x2="32.8" y2="354.95" stroke="#262626" stroke-width="0.8"/>
<line x1="30.8" y1="322.65" x2="32.8" y2="322.65" stroke="#262626" stroke-width="0.8"/>
<rect x="37.2" y="369.81" width="4.4" height="33.59" fill="#4a4a4a" stroke="#111" stroke-width="0.85"/>
<rect x="37.6" y="380.79" width="3.6" height="22.61" fill="#6e6e6e"/>
<line x1="39.4" y1="358.83" x2="39.4" y2="369.81" stroke="#666" stroke-width="0.8"/>
<line x1="38.1" y1="358.83" x2="40.7" y2="358.83" stroke="#444" stroke-width="0.8"/>
<rect x="42.12" y="384.67" width="4.4" height="18.73" fill="#0c0c5a" stroke="#111" stroke-width="0.85"/>
<line x1="44.32" y1="374.98" x2="44.32" y2="384.67" stroke="#666" stroke-width="0.8"/>
<line x1="43.02" y1="374.98" x2="45.62" y2="374.98" stroke="#444" stroke-width="0.8"/>
<rect x="47.04" y="391.13" width="4.4" height="12.27" fill="#ee1010" stroke="#111" stroke-width="0.85"/>
<line x1="49.24" y1="390.16" x2="49.24" y2="391.13" stroke="#666" stroke-width="0.8"/>
<line x1="47.94" y1="390.16" x2="50.54" y2="390.16" stroke="#444" stroke-width="0.8"/>
<rect x="51.96" y="401.14" width="4.4" height="2.26" fill="#10b030" stroke="#111" stroke-width="0.85"/>
<line x1="54.16" y1="400.69" x2="54.16" y2="401.14" stroke="#666" stroke-width="0.8"/>
<line x1="52.86" y1="400.69" x2="55.46" y2="400.69" stroke="#444" stroke-width="0.8"/>
<rect x="56.88" y="402.75" width="4.4" height="0.65" fill="#1010e0" stroke="#111" stroke-width="0.85"/>
<rect x="61.8" y="403.08" width="4.4" height="0.32" fill="#ee1010" stroke="#111" stroke-width="0.85"/>
<text x="51.9" y="416.3" font-size="8" text-anchor="middle" font-weight="bold" fill="#161616">1</text>
<rect x="73.8" y="374.33" width="4.4" height="29.07" fill="#4a4a4a" stroke="#111" stroke-width="0.85"/>
<rect x="74.2" y="393.39" width="3.6" height="10.01" fill="#6e6e6e"/>
<line x1="76" y1="355.27" x2="76" y2="374.33" stroke="#666" stroke-width="0.8"/>
<line x1="74.7" y1="355.27" x2="77.3" y2="355.27" stroke="#444" stroke-width="0.8"/>
<rect x="78.72" y="386.6" width="4.4" height="16.8" fill="#0c0c5a" stroke="#111" stroke-width="0.85"/>
<line x1="80.92" y1="375.3" x2="80.92" y2="386.6" stroke="#666" stroke-width="0.8"/>
<line x1="79.62" y1="375.3" x2="82.22" y2="375.3" stroke="#444" stroke-width="0.8"/>
<rect x="83.64" y="392.42" width="4.4" height="10.98" fill="#ee1010" stroke="#111" stroke-width="0.85"/>
<line x1="85.84" y1="385.63" x2="85.84" y2="392.42" stroke="#666" stroke-width="0.8"/>
<line x1="84.54" y1="385.63" x2="87.14" y2="385.63" stroke="#444" stroke-width="0.8"/>
<rect x="88.56" y="401.46" width="4.4" height="1.94" fill="#10b030" stroke="#111" stroke-width="0.85"/>
<line x1="90.76" y1="401.07" x2="90.76" y2="401.46" stroke="#666" stroke-width="0.8"/>
<line x1="89.46" y1="401.07" x2="92.06" y2="401.07" stroke="#444" stroke-width="0.8"/>
<rect x="93.48" y="402.75" width="4.4" height="0.65" fill="#1010e0" stroke="#111" stroke-width="0.85"/>
<rect x="98.4" y="403.08" width="4.4" height="0.32" fill="#ee1010" stroke="#111" stroke-width="0.85"/>
<text x="88.5" y="416.3" font-size="8" text-anchor="middle" font-weight="bold" fill="#161616">2</text>
<rect x="110.4" y="363.35" width="4.4" height="40.05" fill="#4a4a4a" stroke="#111" stroke-width="0.85"/>
<rect x="110.8" y="383.37" width="3.6" height="20.03" fill="#6e6e6e"/>
<line x1="112.6" y1="343.32" x2="112.6" y2="363.35" stroke="#666" stroke-width="0.8"/>
<line x1="111.3" y1="343.32" x2="113.9" y2="343.32" stroke="#444" stroke-width="0.8"/>
<rect x="115.32" y="378.85" width="4.4" height="24.55" fill="#0c0c5a" stroke="#111" stroke-width="0.85"/>
<line x1="117.52" y1="363.35" x2="117.52" y2="378.85" stroke="#666" stroke-width="0.8"/>
<line x1="116.22" y1="363.35" x2="118.82" y2="363.35" stroke="#444" stroke-width="0.8"/>
<rect x="120.24" y="391.13" width="4.4" height="12.27" fill="#ee1010" stroke="#111" stroke-width="0.85"/>
<line x1="122.44" y1="387.25" x2="122.44" y2="391.13" stroke="#666" stroke-width="0.8"/>
<line x1="121.14" y1="387.25" x2="123.74" y2="387.25" stroke="#444" stroke-width="0.8"/>
<rect x="125.16" y="400.82" width="4.4" height="2.58" fill="#10b030" stroke="#111" stroke-width="0.85"/>
<line x1="127.36" y1="400.43" x2="127.36" y2="400.82" stroke="#666" stroke-width="0.8"/>
<line x1="126.06" y1="400.43" x2="128.66" y2="400.43" stroke="#444" stroke-width="0.8"/>
<rect x="130.08" y="402.75" width="4.4" height="0.65" fill="#1010e0" stroke="#111" stroke-width="0.85"/>
<rect x="135" y="403.08" width="4.4" height="0.32" fill="#ee1010" stroke="#111" stroke-width="0.85"/>
<text x="125.1" y="416.3" font-size="8" text-anchor="middle" font-weight="bold" fill="#161616">3</text>
<rect x="147" y="367.87" width="4.4" height="35.53" fill="#4a4a4a" stroke="#111" stroke-width="0.85"/>
<line x1="149.2" y1="329.76" x2="149.2" y2="367.87" stroke="#666" stroke-width="0.8"/>
<line x1="147.9" y1="329.76" x2="150.5" y2="329.76" stroke="#444" stroke-width="0.8"/>
<rect x="151.92" y="380.14" width="4.4" height="23.26" fill="#0c0c5a" stroke="#111" stroke-width="0.85"/>
<line x1="154.12" y1="352.37" x2="154.12" y2="380.14" stroke="#666" stroke-width="0.8"/>
<line x1="152.82" y1="352.37" x2="155.42" y2="352.37" stroke="#444" stroke-width="0.8"/>
<rect x="156.84" y="392.42" width="4.4" height="10.98" fill="#ee1010" stroke="#111" stroke-width="0.85"/>
<line x1="159.04" y1="382.08" x2="159.04" y2="392.42" stroke="#666" stroke-width="0.8"/>
<line x1="157.74" y1="382.08" x2="160.34" y2="382.08" stroke="#444" stroke-width="0.8"/>
<rect x="161.76" y="402.75" width="4.4" height="0.65" fill="#10b030" stroke="#111" stroke-width="0.85"/>
<line x1="163.96" y1="402.43" x2="163.96" y2="402.75" stroke="#666" stroke-width="0.8"/>
<line x1="162.66" y1="402.43" x2="165.26" y2="402.43" stroke="#444" stroke-width="0.8"/>
<rect x="166.68" y="402.75" width="4.4" height="0.65" fill="#1010e0" stroke="#111" stroke-width="0.85"/>
<rect x="171.6" y="403.08" width="4.4" height="0.32" fill="#ee1010" stroke="#111" stroke-width="0.85"/>
<text x="161.6" y="416.3" font-size="8" text-anchor="middle" font-weight="bold" fill="#161616">4</text>
<text transform="translate(14.18,357.4) rotate(-90)" font-size="9.4" text-anchor="middle" font-weight="bold" fill="#161616">Leukocytes</text>
<rect x="52.1" y="310.7" width="3.8" height="3.8" fill="#4a4a4a" stroke="#222" stroke-width="0.5"/>
<text x="57.4" y="315.2" font-size="7.3" text-anchor="start" fill="#161616">WBC (K/&#181;L)</text>
<rect x="52.1" y="321.3" width="3.8" height="3.8" fill="#ee1010" stroke="#222" stroke-width="0.5"/>
<text x="57.4" y="325.8" font-size="7.3" text-anchor="start" fill="#161616">LY (K/&#181;L)</text>
<rect x="52.1" y="331.9" width="3.8" height="3.8" fill="#1010e0" stroke="#222" stroke-width="0.5"/>
<text x="57.4" y="336.4" font-size="7.3" text-anchor="start" fill="#161616">EO (K/&#181;L)</text>
<rect x="106.2" y="310.7" width="3.8" height="3.8" fill="#0c0c5a" stroke="#222" stroke-width="0.5"/>
<text x="111.4" y="315.2" font-size="7.3" text-anchor="start" fill="#161616">NE (K/&#181;L)</text>
<rect x="106.2" y="321.3" width="3.8" height="3.8" fill="#10b030" stroke="#222" stroke-width="0.5"/>
<text x="111.4" y="325.8" font-size="7.3" text-anchor="start" fill="#161616">MO (K/&#181;L)</text>
<rect x="106.2" y="331.9" width="3.8" height="3.8" fill="#ee1010" stroke="#222" stroke-width="0.5"/>
<text x="111.4" y="336.4" font-size="7.3" text-anchor="start" fill="#161616">BA (K/&#181;L)</text>
<line x1="216.8" y1="306.02" x2="216.8" y2="404.6" stroke="#262626" stroke-width="1.3"/>
<line x1="216.2" y1="404.1" x2="361.3" y2="404.1" stroke="#262626" stroke-width="1.3"/>
<line x1="213.8" y1="404.1" x2="216.8" y2="404.1" stroke="#262626" stroke-width="0.9"/>
<text x="209.5" y="406.3" font-size="7.5" text-anchor="end" fill="#161616">0</text>
<line x1="213.8" y1="371.54" x2="216.8" y2="371.54" stroke="#262626" stroke-width="0.9"/>
<text x="209.5" y="373.74" font-size="7.5" text-anchor="end" fill="#161616">20</text>
<line x1="213.8" y1="338.98" x2="216.8" y2="338.98" stroke="#262626" stroke-width="0.9"/>
<text x="209.5" y="341.18" font-size="7.5" text-anchor="end" fill="#161616">40</text>
<line x1="213.8" y1="306.42" x2="216.8" y2="306.42" stroke="#262626" stroke-width="0.9"/>
<text x="209.5" y="308.62" font-size="7.5" text-anchor="end" fill="#161616">60</text>
<line x1="214.8" y1="387.82" x2="216.8" y2="387.82" stroke="#262626" stroke-width="0.8"/>
<line x1="214.8" y1="355.26" x2="216.8" y2="355.26" stroke="#262626" stroke-width="0.8"/>
<line x1="214.8" y1="322.7" x2="216.8" y2="322.7" stroke="#262626" stroke-width="0.8"/>
<rect x="220.4" y="392.7" width="4" height="11.4" fill="#6c6c6c" stroke="#111" stroke-width="0.85"/>
<line x1="222.4" y1="391.73" x2="222.4" y2="392.7" stroke="#666" stroke-width="0.8"/>
<line x1="221.1" y1="391.73" x2="223.7" y2="391.73" stroke="#444" stroke-width="0.8"/>
<rect x="224.6" y="389.45" width="4" height="14.65" fill="#14149a" stroke="#111" stroke-width="0.85"/>
<line x1="226.6" y1="388.47" x2="226.6" y2="389.45" stroke="#666" stroke-width="0.8"/>
<line x1="225.3" y1="388.47" x2="227.9" y2="388.47" stroke="#444" stroke-width="0.8"/>
<rect x="228.8" y="353.63" width="4" height="50.47" fill="#ff1414" stroke="#111" stroke-width="0.85"/>
<line x1="230.8" y1="347.12" x2="230.8" y2="353.63" stroke="#666" stroke-width="0.8"/>
<line x1="229.5" y1="347.12" x2="232.1" y2="347.12" stroke="#444" stroke-width="0.8"/>
<rect x="233" y="330.03" width="4" height="74.07" fill="#22cc55" stroke="#111" stroke-width="0.85"/>
<line x1="235" y1="329.21" x2="235" y2="330.03" stroke="#666" stroke-width="0.8"/>
<line x1="233.7" y1="329.21" x2="236.3" y2="329.21" stroke="#444" stroke-width="0.8"/>
<rect x="237.2" y="382.28" width="4" height="21.82" fill="#1414e6" stroke="#111" stroke-width="0.85"/>
<line x1="239.2" y1="381.63" x2="239.2" y2="382.28" stroke="#666" stroke-width="0.8"/>
<line x1="237.9" y1="381.63" x2="240.5" y2="381.63" stroke="#444" stroke-width="0.8"/>
<rect x="241.4" y="356.56" width="4" height="47.54" fill="#ff1414" stroke="#111" stroke-width="0.85"/>
<line x1="243.4" y1="354.93" x2="243.4" y2="356.56" stroke="#666" stroke-width="0.8"/>
<line x1="242.1" y1="354.93" x2="244.7" y2="354.93" stroke="#444" stroke-width="0.8"/>
<rect x="245.6" y="381.31" width="4" height="22.79" fill="#2a6630" stroke="#111" stroke-width="0.85"/>
<line x1="247.6" y1="380.33" x2="247.6" y2="381.31" stroke="#666" stroke-width="0.8"/>
<line x1="246.3" y1="380.33" x2="248.9" y2="380.33" stroke="#444" stroke-width="0.8"/>
<text x="235.2" y="416.6" font-size="8" text-anchor="middle" font-weight="bold" fill="#161616">1</text>
<rect x="256.45" y="392.7" width="4" height="11.4" fill="#6c6c6c" stroke="#111" stroke-width="0.85"/>
<line x1="258.45" y1="392.05" x2="258.45" y2="392.7" stroke="#666" stroke-width="0.8"/>
<line x1="257.15" y1="392.05" x2="259.75" y2="392.05" stroke="#444" stroke-width="0.8"/>
<rect x="260.65" y="389.45" width="4" height="14.65" fill="#14149a" stroke="#111" stroke-width="0.85"/>
<line x1="262.65" y1="388.8" x2="262.65" y2="389.45" stroke="#666" stroke-width="0.8"/>
<line x1="261.35" y1="388.8" x2="263.95" y2="388.8" stroke="#444" stroke-width="0.8"/>
<rect x="264.85" y="355.26" width="4" height="48.84" fill="#ff1414" stroke="#111" stroke-width="0.85"/>
<line x1="266.85" y1="352.66" x2="266.85" y2="355.26" stroke="#666" stroke-width="0.8"/>
<line x1="265.55" y1="352.66" x2="268.15" y2="352.66" stroke="#444" stroke-width="0.8"/>
<rect x="269.05" y="330.84" width="4" height="73.26" fill="#22cc55" stroke="#111" stroke-width="0.85"/>
<line x1="271.05" y1="330.03" x2="271.05" y2="330.84" stroke="#666" stroke-width="0.8"/>
<line x1="269.75" y1="330.03" x2="272.35" y2="330.03" stroke="#444" stroke-width="0.8"/>
<rect x="273.25" y="382.94" width="4" height="21.16" fill="#1414e6" stroke="#111" stroke-width="0.85"/>
<line x1="275.25" y1="382.28" x2="275.25" y2="382.94" stroke="#666" stroke-width="0.8"/>
<line x1="273.95" y1="382.28" x2="276.55" y2="382.28" stroke="#444" stroke-width="0.8"/>
<rect x="277.45" y="355.26" width="4" height="48.84" fill="#ff1414" stroke="#111" stroke-width="0.85"/>
<line x1="279.45" y1="354.61" x2="279.45" y2="355.26" stroke="#666" stroke-width="0.8"/>
<line x1="278.15" y1="354.61" x2="280.75" y2="354.61" stroke="#444" stroke-width="0.8"/>
<rect x="281.65" y="382.94" width="4" height="21.16" fill="#2a6630" stroke="#111" stroke-width="0.85"/>
<line x1="283.65" y1="382.28" x2="283.65" y2="382.94" stroke="#666" stroke-width="0.8"/>
<line x1="282.35" y1="382.28" x2="284.95" y2="382.28" stroke="#444" stroke-width="0.8"/>
<text x="271.2" y="416.6" font-size="8" text-anchor="middle" font-weight="bold" fill="#161616">2</text>
<rect x="292.5" y="391.56" width="4" height="12.54" fill="#6c6c6c" stroke="#111" stroke-width="0.85"/>
<line x1="294.5" y1="390.91" x2="294.5" y2="391.56" stroke="#666" stroke-width="0.8"/>
<line x1="293.2" y1="390.91" x2="295.8" y2="390.91" stroke="#444" stroke-width="0.8"/>
<rect x="296.7" y="388.96" width="4" height="15.14" fill="#14149a" stroke="#111" stroke-width="0.85"/>
<line x1="298.7" y1="388.47" x2="298.7" y2="388.96" stroke="#666" stroke-width="0.8"/>
<line x1="297.4" y1="388.47" x2="300" y2="388.47" stroke="#444" stroke-width="0.8"/>
<rect x="300.9" y="349.89" width="4" height="54.21" fill="#ff1414" stroke="#111" stroke-width="0.85"/>
<line x1="302.9" y1="348.91" x2="302.9" y2="349.89" stroke="#666" stroke-width="0.8"/>
<line x1="301.6" y1="348.91" x2="304.2" y2="348.91" stroke="#444" stroke-width="0.8"/>
<rect x="305.1" y="335.07" width="4" height="69.03" fill="#22cc55" stroke="#111" stroke-width="0.85"/>
<line x1="307.1" y1="334.42" x2="307.1" y2="335.07" stroke="#666" stroke-width="0.8"/>
<line x1="305.8" y1="334.42" x2="308.4" y2="334.42" stroke="#444" stroke-width="0.8"/>
<rect x="309.3" y="385.22" width="4" height="18.88" fill="#1414e6" stroke="#111" stroke-width="0.85"/>
<line x1="311.3" y1="384.56" x2="311.3" y2="385.22" stroke="#666" stroke-width="0.8"/>
<line x1="310" y1="384.56" x2="312.6" y2="384.56" stroke="#444" stroke-width="0.8"/>
<rect x="313.5" y="357.86" width="4" height="46.24" fill="#ff1414" stroke="#111" stroke-width="0.85"/>
<line x1="315.5" y1="356.07" x2="315.5" y2="357.86" stroke="#666" stroke-width="0.8"/>
<line x1="314.2" y1="356.07" x2="316.8" y2="356.07" stroke="#444" stroke-width="0.8"/>
<rect x="317.7" y="381.96" width="4" height="22.14" fill="#2a6630" stroke="#111" stroke-width="0.85"/>
<line x1="319.7" y1="379.68" x2="319.7" y2="381.96" stroke="#666" stroke-width="0.8"/>
<line x1="318.4" y1="379.68" x2="321" y2="379.68" stroke="#444" stroke-width="0.8"/>
<text x="307.2" y="416.6" font-size="8" text-anchor="middle" font-weight="bold" fill="#161616">3</text>
<rect x="328.55" y="393.84" width="4" height="10.26" fill="#6c6c6c" stroke="#111" stroke-width="0.85"/>
<line x1="330.55" y1="393.19" x2="330.55" y2="393.84" stroke="#666" stroke-width="0.8"/>
<line x1="329.25" y1="393.19" x2="331.85" y2="393.19" stroke="#444" stroke-width="0.8"/>
<rect x="332.75" y="392.05" width="4" height="12.05" fill="#14149a" stroke="#111" stroke-width="0.85"/>
<line x1="334.75" y1="391.4" x2="334.75" y2="392.05" stroke="#666" stroke-width="0.8"/>
<line x1="333.45" y1="391.4" x2="336.05" y2="391.4" stroke="#444" stroke-width="0.8"/>
<rect x="336.95" y="359.49" width="4" height="44.61" fill="#ff1414" stroke="#111" stroke-width="0.85"/>
<line x1="338.95" y1="358.84" x2="338.95" y2="359.49" stroke="#666" stroke-width="0.8"/>
<line x1="337.65" y1="358.84" x2="340.25" y2="358.84" stroke="#444" stroke-width="0.8"/>
<rect x="341.15" y="336.21" width="4" height="67.89" fill="#22cc55" stroke="#111" stroke-width="0.85"/>
<line x1="343.15" y1="335.56" x2="343.15" y2="336.21" stroke="#666" stroke-width="0.8"/>
<line x1="341.85" y1="335.56" x2="344.45" y2="335.56" stroke="#444" stroke-width="0.8"/>
<rect x="345.35" y="384.56" width="4" height="19.54" fill="#1414e6" stroke="#111" stroke-width="0.85"/>
<line x1="347.35" y1="383.91" x2="347.35" y2="384.56" stroke="#666" stroke-width="0.8"/>
<line x1="346.05" y1="383.91" x2="348.65" y2="383.91" stroke="#444" stroke-width="0.8"/>
<rect x="349.55" y="356.56" width="4" height="47.54" fill="#ff1414" stroke="#111" stroke-width="0.85"/>
<line x1="351.55" y1="355.91" x2="351.55" y2="356.56" stroke="#666" stroke-width="0.8"/>
<line x1="350.25" y1="355.91" x2="352.85" y2="355.91" stroke="#444" stroke-width="0.8"/>
<rect x="353.75" y="381.31" width="4" height="22.79" fill="#2a6630" stroke="#111" stroke-width="0.85"/>
<line x1="355.75" y1="378.7" x2="355.75" y2="381.31" stroke="#666" stroke-width="0.8"/>
<line x1="354.45" y1="378.7" x2="357.05" y2="378.7" stroke="#444" stroke-width="0.8"/>
<text x="343.2" y="416.6" font-size="8" text-anchor="middle" font-weight="bold" fill="#161616">4</text>
<text transform="translate(195.81,355) rotate(-90)" font-size="7.8" text-anchor="middle" font-weight="bold" fill="#161616">Erythrocytes</text>
<rect x="249.1" y="303.2" width="3.8" height="3.8" fill="#6c6c6c" stroke="#222" stroke-width="0.5"/>
<text x="254.8" y="307.7" font-size="7.2" text-anchor="start" fill="#161616">RBC (M/&#181;L)</text>
<rect x="249.1" y="311.5" width="3.8" height="3.8" fill="#ff1414" stroke="#222" stroke-width="0.5"/>
<text x="254.8" y="316" font-size="7.2" text-anchor="start" fill="#161616">HCT (%)</text>
<rect x="249.1" y="319.7" width="3.8" height="3.8" fill="#1414e6" stroke="#222" stroke-width="0.5"/>
<text x="254.8" y="324.2" font-size="7.2" text-anchor="start" fill="#161616">MCH (pg)</text>
<rect x="249.1" y="328" width="3.8" height="3.8" fill="#2a6630" stroke="#222" stroke-width="0.5"/>
<text x="254.8" y="332.5" font-size="7.2" text-anchor="start" fill="#161616">RDW (%)</text>
<rect x="301.8" y="303.2" width="3.8" height="3.8" fill="#14149a" stroke="#222" stroke-width="0.5"/>
<text x="306.8" y="307.7" font-size="7.2" text-anchor="start" fill="#161616">Hb (g/dL)</text>
<rect x="301.8" y="311.5" width="3.8" height="3.8" fill="#22cc55" stroke="#222" stroke-width="0.5"/>
<text x="306.8" y="316" font-size="7.2" text-anchor="start" fill="#161616">HCV (fL)</text>
<rect x="301.8" y="319.7" width="3.8" height="3.8" fill="#ff1414" stroke="#222" stroke-width="0.5"/>
<text x="306.8" y="324.2" font-size="7.2" text-anchor="start" fill="#161616">MCHC (g/dL)</text>
<line x1="397.7" y1="305.22" x2="397.7" y2="405.6" stroke="#262626" stroke-width="1.3"/>
<line x1="397.1" y1="405.1" x2="543.6" y2="405.1" stroke="#262626" stroke-width="1.3"/>
<line x1="394.7" y1="405.1" x2="397.7" y2="405.1" stroke="#262626" stroke-width="0.9"/>
<text x="391" y="407.3" font-size="7.5" text-anchor="end" fill="#161616">0</text>
<line x1="394.7" y1="371.94" x2="397.7" y2="371.94" stroke="#262626" stroke-width="0.9"/>
<text x="391" y="374.14" font-size="7.5" text-anchor="end" fill="#161616">200</text>
<line x1="394.7" y1="338.78" x2="397.7" y2="338.78" stroke="#262626" stroke-width="0.9"/>
<text x="391" y="340.98" font-size="7.5" text-anchor="end" fill="#161616">400</text>
<line x1="394.7" y1="305.62" x2="397.7" y2="305.62" stroke="#262626" stroke-width="0.9"/>
<text x="391" y="307.82" font-size="7.5" text-anchor="end" fill="#161616">600</text>
<line x1="395.7" y1="388.52" x2="397.7" y2="388.52" stroke="#262626" stroke-width="0.8"/>
<line x1="395.7" y1="355.36" x2="397.7" y2="355.36" stroke="#262626" stroke-width="0.8"/>
<line x1="395.7" y1="322.2" x2="397.7" y2="322.2" stroke="#262626" stroke-width="0.8"/>
<rect x="403.6" y="353.54" width="5.5" height="51.56" fill="#404040" stroke="#111" stroke-width="0.85"/>
<rect x="404" y="373.6" width="4.7" height="31.5" fill="#5c5c5c"/>
<line x1="406.35" y1="333.47" x2="406.35" y2="353.54" stroke="#666" stroke-width="0.8"/>
<line x1="405.05" y1="333.47" x2="407.65" y2="333.47" stroke="#444" stroke-width="0.8"/>
<rect x="410.2" y="404.27" width="5.5" height="0.83" fill="#101070" stroke="#111" stroke-width="0.85"/>
<rect x="416.8" y="396.81" width="5.5" height="8.29" fill="#ee1010" stroke="#111" stroke-width="0.85"/>
<line x1="419.55" y1="395.82" x2="419.55" y2="396.81" stroke="#666" stroke-width="0.8"/>
<line x1="418.25" y1="395.82" x2="420.85" y2="395.82" stroke="#444" stroke-width="0.8"/>
<text x="416" y="418.6" font-size="8" text-anchor="middle" font-weight="bold" fill="#161616">1</text>
<rect x="440" y="359.84" width="5.5" height="45.26" fill="#404040" stroke="#111" stroke-width="0.85"/>
<rect x="440.4" y="385.37" width="4.7" height="19.73" fill="#5c5c5c"/>
<line x1="442.75" y1="334.3" x2="442.75" y2="359.84" stroke="#666" stroke-width="0.8"/>
<line x1="441.45" y1="334.3" x2="444.05" y2="334.3" stroke="#444" stroke-width="0.8"/>
<rect x="446.6" y="404.27" width="5.5" height="0.83" fill="#101070" stroke="#111" stroke-width="0.85"/>
<rect x="453.2" y="396.48" width="5.5" height="8.62" fill="#ee1010" stroke="#111" stroke-width="0.85"/>
<line x1="455.95" y1="394.16" x2="455.95" y2="396.48" stroke="#666" stroke-width="0.8"/>
<line x1="454.65" y1="394.16" x2="457.25" y2="394.16" stroke="#444" stroke-width="0.8"/>
<rect x="459.8" y="359.84" width="5.5" height="45.26" fill="#22c050" stroke="#111" stroke-width="0.85"/>
<text x="452.6" y="418.6" font-size="8" text-anchor="middle" font-weight="bold" fill="#161616">2</text>
<rect x="476.4" y="345.41" width="5.5" height="59.69" fill="#404040" stroke="#111" stroke-width="0.85"/>
<rect x="476.8" y="352.87" width="4.7" height="52.23" fill="#5c5c5c"/>
<line x1="479.15" y1="337.95" x2="479.15" y2="345.41" stroke="#666" stroke-width="0.8"/>
<line x1="477.85" y1="337.95" x2="480.45" y2="337.95" stroke="#444" stroke-width="0.8"/>
<rect x="483" y="404.27" width="5.5" height="0.83" fill="#101070" stroke="#111" stroke-width="0.85"/>
<rect x="489.6" y="398.14" width="5.5" height="6.96" fill="#ee1010" stroke="#111" stroke-width="0.85"/>
<line x1="492.35" y1="397.8" x2="492.35" y2="398.14" stroke="#666" stroke-width="0.8"/>
<line x1="491.05" y1="397.8" x2="493.65" y2="397.8" stroke="#444" stroke-width="0.8"/>
<text x="488.9" y="418.6" font-size="8" text-anchor="middle" font-weight="bold" fill="#161616">3</text>
<rect x="512.8" y="369.12" width="5.5" height="35.98" fill="#404040" stroke="#111" stroke-width="0.85"/>
<line x1="515.55" y1="329.66" x2="515.55" y2="369.12" stroke="#666" stroke-width="0.8"/>
<line x1="514.25" y1="329.66" x2="516.85" y2="329.66" stroke="#444" stroke-width="0.8"/>
<rect x="519.4" y="404.27" width="5.5" height="0.83" fill="#101070" stroke="#111" stroke-width="0.85"/>
<rect x="526" y="396.48" width="5.5" height="8.62" fill="#ee1010" stroke="#111" stroke-width="0.85"/>
<line x1="528.75" y1="394.16" x2="528.75" y2="396.48" stroke="#666" stroke-width="0.8"/>
<line x1="527.45" y1="394.16" x2="530.05" y2="394.16" stroke="#444" stroke-width="0.8"/>
<text x="525.2" y="418.6" font-size="8" text-anchor="middle" font-weight="bold" fill="#161616">4</text>
<text transform="translate(376.68,353.6) rotate(-90)" font-size="8" text-anchor="middle" font-weight="bold" fill="#161616">Thrombocytes</text>
<rect x="424.6" y="310.1" width="3.8" height="3.8" fill="#404040" stroke="#222" stroke-width="0.5"/>
<text x="430.3" y="314.6" font-size="7.3" text-anchor="start" fill="#161616">PLT (K/&#181;L)</text>
<rect x="424.6" y="321.3" width="3.8" height="3.8" fill="#ee1010" stroke="#222" stroke-width="0.5"/>
<text x="430.3" y="325.8" font-size="7.3" text-anchor="start" fill="#161616">PDW (%)</text>
<rect x="471" y="310.1" width="3.8" height="3.8" fill="#101070" stroke="#222" stroke-width="0.5"/>
<text x="476.7" y="314.6" font-size="7.3" text-anchor="start" fill="#161616">MPV (fL)</text>
<rect x="471" y="321.3" width="3.8" height="3.8" fill="#22c050" stroke="#222" stroke-width="0.5"/>
<text x="476.7" y="325.8" font-size="7.3" text-anchor="start" fill="#161616">PCT (%)</text>
</svg>
</body></html>
